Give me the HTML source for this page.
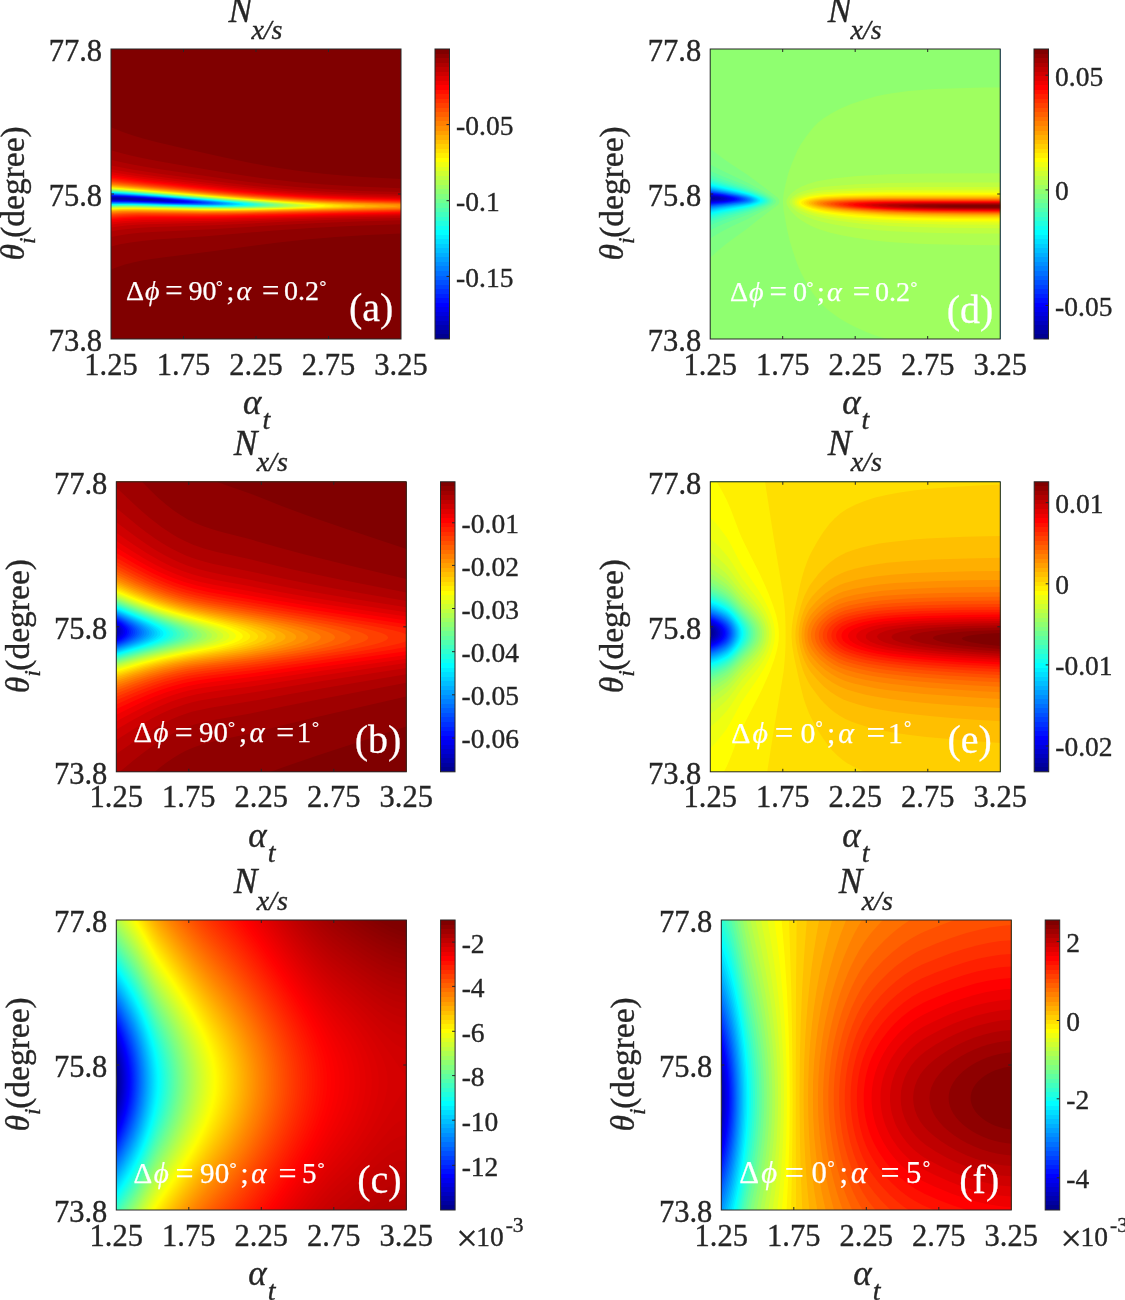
<!DOCTYPE html>
<html lang="en"><head><meta charset="utf-8"><title>Figure</title>
<style>html,body{margin:0;padding:0;background:#fff}svg{display:block}text{font-family:"Liberation Serif","Times New Roman",serif;fill:#262626;stroke:#262626;stroke-width:.35px}.w text,text.w{fill:#fff;stroke:#fff;stroke-width:.25px}</style></head><body>
<svg width="1125" height="1300" viewBox="0 0 1125 1300">
<defs>
<linearGradient id="jet" x1="0" y1="0" x2="0" y2="1"><stop offset="0.0000" stop-color="#800000"/><stop offset="0.0156" stop-color="#800000"/><stop offset="0.0156" stop-color="#8f0000"/><stop offset="0.0312" stop-color="#8f0000"/><stop offset="0.0312" stop-color="#9f0000"/><stop offset="0.0469" stop-color="#9f0000"/><stop offset="0.0469" stop-color="#af0000"/><stop offset="0.0625" stop-color="#af0000"/><stop offset="0.0625" stop-color="#bf0000"/><stop offset="0.0781" stop-color="#bf0000"/><stop offset="0.0781" stop-color="#cf0000"/><stop offset="0.0938" stop-color="#cf0000"/><stop offset="0.0938" stop-color="#df0000"/><stop offset="0.1094" stop-color="#df0000"/><stop offset="0.1094" stop-color="#ef0000"/><stop offset="0.1250" stop-color="#ef0000"/><stop offset="0.1250" stop-color="#f00"/><stop offset="0.1406" stop-color="#f00"/><stop offset="0.1406" stop-color="#ff1000"/><stop offset="0.1562" stop-color="#ff1000"/><stop offset="0.1562" stop-color="#ff2000"/><stop offset="0.1719" stop-color="#ff2000"/><stop offset="0.1719" stop-color="#ff3000"/><stop offset="0.1875" stop-color="#ff3000"/><stop offset="0.1875" stop-color="#ff4000"/><stop offset="0.2031" stop-color="#ff4000"/><stop offset="0.2031" stop-color="#ff5000"/><stop offset="0.2188" stop-color="#ff5000"/><stop offset="0.2188" stop-color="#ff6000"/><stop offset="0.2344" stop-color="#ff6000"/><stop offset="0.2344" stop-color="#ff7000"/><stop offset="0.2500" stop-color="#ff7000"/><stop offset="0.2500" stop-color="#ff8000"/><stop offset="0.2656" stop-color="#ff8000"/><stop offset="0.2656" stop-color="#ff8f00"/><stop offset="0.2812" stop-color="#ff8f00"/><stop offset="0.2812" stop-color="#ff9f00"/><stop offset="0.2969" stop-color="#ff9f00"/><stop offset="0.2969" stop-color="#ffaf00"/><stop offset="0.3125" stop-color="#ffaf00"/><stop offset="0.3125" stop-color="#ffbf00"/><stop offset="0.3281" stop-color="#ffbf00"/><stop offset="0.3281" stop-color="#ffcf00"/><stop offset="0.3438" stop-color="#ffcf00"/><stop offset="0.3438" stop-color="#ffdf00"/><stop offset="0.3594" stop-color="#ffdf00"/><stop offset="0.3594" stop-color="#ffef00"/><stop offset="0.3750" stop-color="#ffef00"/><stop offset="0.3750" stop-color="#ff0"/><stop offset="0.3906" stop-color="#ff0"/><stop offset="0.3906" stop-color="#efff10"/><stop offset="0.4062" stop-color="#efff10"/><stop offset="0.4062" stop-color="#dfff20"/><stop offset="0.4219" stop-color="#dfff20"/><stop offset="0.4219" stop-color="#cfff30"/><stop offset="0.4375" stop-color="#cfff30"/><stop offset="0.4375" stop-color="#bfff40"/><stop offset="0.4531" stop-color="#bfff40"/><stop offset="0.4531" stop-color="#afff50"/><stop offset="0.4688" stop-color="#afff50"/><stop offset="0.4688" stop-color="#9fff60"/><stop offset="0.4844" stop-color="#9fff60"/><stop offset="0.4844" stop-color="#8fff70"/><stop offset="0.5000" stop-color="#8fff70"/><stop offset="0.5000" stop-color="#80ff80"/><stop offset="0.5156" stop-color="#80ff80"/><stop offset="0.5156" stop-color="#70ff8f"/><stop offset="0.5312" stop-color="#70ff8f"/><stop offset="0.5312" stop-color="#60ff9f"/><stop offset="0.5469" stop-color="#60ff9f"/><stop offset="0.5469" stop-color="#50ffaf"/><stop offset="0.5625" stop-color="#50ffaf"/><stop offset="0.5625" stop-color="#40ffbf"/><stop offset="0.5781" stop-color="#40ffbf"/><stop offset="0.5781" stop-color="#30ffcf"/><stop offset="0.5938" stop-color="#30ffcf"/><stop offset="0.5938" stop-color="#20ffdf"/><stop offset="0.6094" stop-color="#20ffdf"/><stop offset="0.6094" stop-color="#10ffef"/><stop offset="0.6250" stop-color="#10ffef"/><stop offset="0.6250" stop-color="#0ff"/><stop offset="0.6406" stop-color="#0ff"/><stop offset="0.6406" stop-color="#00efff"/><stop offset="0.6562" stop-color="#00efff"/><stop offset="0.6562" stop-color="#00dfff"/><stop offset="0.6719" stop-color="#00dfff"/><stop offset="0.6719" stop-color="#00cfff"/><stop offset="0.6875" stop-color="#00cfff"/><stop offset="0.6875" stop-color="#00bfff"/><stop offset="0.7031" stop-color="#00bfff"/><stop offset="0.7031" stop-color="#00afff"/><stop offset="0.7188" stop-color="#00afff"/><stop offset="0.7188" stop-color="#009fff"/><stop offset="0.7344" stop-color="#009fff"/><stop offset="0.7344" stop-color="#008fff"/><stop offset="0.7500" stop-color="#008fff"/><stop offset="0.7500" stop-color="#0080ff"/><stop offset="0.7656" stop-color="#0080ff"/><stop offset="0.7656" stop-color="#0070ff"/><stop offset="0.7812" stop-color="#0070ff"/><stop offset="0.7812" stop-color="#0060ff"/><stop offset="0.7969" stop-color="#0060ff"/><stop offset="0.7969" stop-color="#0050ff"/><stop offset="0.8125" stop-color="#0050ff"/><stop offset="0.8125" stop-color="#0040ff"/><stop offset="0.8281" stop-color="#0040ff"/><stop offset="0.8281" stop-color="#0030ff"/><stop offset="0.8438" stop-color="#0030ff"/><stop offset="0.8438" stop-color="#0020ff"/><stop offset="0.8594" stop-color="#0020ff"/><stop offset="0.8594" stop-color="#0010ff"/><stop offset="0.8750" stop-color="#0010ff"/><stop offset="0.8750" stop-color="#00f"/><stop offset="0.8906" stop-color="#00f"/><stop offset="0.8906" stop-color="#0000ef"/><stop offset="0.9062" stop-color="#0000ef"/><stop offset="0.9062" stop-color="#0000df"/><stop offset="0.9219" stop-color="#0000df"/><stop offset="0.9219" stop-color="#0000cf"/><stop offset="0.9375" stop-color="#0000cf"/><stop offset="0.9375" stop-color="#0000bf"/><stop offset="0.9531" stop-color="#0000bf"/><stop offset="0.9531" stop-color="#0000af"/><stop offset="0.9688" stop-color="#0000af"/><stop offset="0.9688" stop-color="#00009f"/><stop offset="0.9844" stop-color="#00009f"/><stop offset="0.9844" stop-color="#00008f"/><stop offset="1.0000" stop-color="#00008f"/></linearGradient>
<clipPath id="ca"><rect x="111" y="49" width="290" height="290"/></clipPath>
<clipPath id="cb"><rect x="116.3" y="481.8" width="290" height="290"/></clipPath>
<clipPath id="cc"><rect x="116.3" y="920" width="290" height="290"/></clipPath>
<clipPath id="cd"><rect x="710.2" y="49" width="290" height="290"/></clipPath>
<clipPath id="ce"><rect x="710.3" y="481.8" width="290" height="290"/></clipPath>
<clipPath id="cf"><rect x="721.3" y="920" width="290" height="290"/></clipPath>
</defs>
<rect width="1125" height="1300" fill="#fff"/>
<g id="pa">
<g clip-path="url(#ca)">
<rect x="111" y="49" width="290" height="290" fill="#00009f"/>
<path fill="#0000af" d="M111 49l290 0 0 290-290 0 0-140.2 20 0.4 5-0.2-6.6-0.5-18.4-0.6z"/>
<path fill="#0000bf" d="M111 49l290 0 0 290-290 0 0-139.4 39 0.8 4-0.1 2.1-0.3-3.3-0.5-11.6-1-19-1-11.2-0.3z"/>
<path fill="#0000cf" d="M111 49l290 0 0 290-290 0 0-139 13.5 0.2 33 0.9 7-0.1 1.4-0.5-7-1-19-1.5-19.4-1-9.5-0.2z"/>
<path fill="#0000df" d="M111 49l290 0 0 290-290 0 0-138.6 15.5 0.2 36 1 8.5-0.1 2.5-0.5-2-0.5-3.6-0.5-16.1-1.5-24.2-1.5-16.6-0.6z"/>
<path fill="#0000ef" d="M111 49l290 0 0 290-290 0 0-138.3 14.5 0.1 42.5 1.2 7.5-0.1 4.1-0.4-1-0.5-6.8-1-16.2-1.5-22.5-1.5-22.1-0.9z"/>
<path fill="#00f" d="M111 49l290 0 0 290-290 0 0-138 16 0.1 45.5 1.2 10-0.2 1.7-0.1 0.5-0.5-2.1-0.5-7.5-1-22.7-2-24-1.5-17.4-0.7z"/>
<path fill="#0010ff" d="M111 49l290 0 0 290-290 0 0-137.8 16 0.2 47.5 1.3 11.5-0.2 3.7-0.5-1-0.5-6.3-1-20.5-2-29-2-21.9-0.9z"/>
<path fill="#0020ff" d="M111 49l290 0 0 290-290 0 0-137.5 17.5 0.1 35 1.1 16 0.3 11-0.2 3-0.3 0.4-0.5-1.7-0.5-6.9-1-20.6-2-28-2-25.7-1.2z"/>
<path fill="#0030ff" d="M111 49l290 0 0 290-290 0 0-137.3 17.5 0.1 51.5 1.4 13-0.1 2.5-0.1 2.7-0.5-0.6-0.5-5.6-1-8.5-1-16.2-1.5-28.8-2.1-27.5-1.3z"/>
<path fill="#0040ff" d="M111 49l290 0 0 290-290 0 0-137.1 18.5 0.2 38 1.1 16.5 0.3 13.5-0.2 3.7-0.3 0.9-0.5-1.3-0.5-6.1-1-8.7-1-16.2-1.5-34.5-2.5-24.3-1.1z"/>
<path fill="#0050ff" d="M111 49l290 0 0 290-290 0 0-136.8 18.5 0.1 40.9 1.2 14.6 0.3 14.5-0.2 3-0.1 3.2-0.5-0.1-0.5-4.7-1-7.9-1-15.1-1.5-18.1-1.5-21.3-1.5-27.5-1.4z"/>
<path fill="#0060ff" d="M111 49l290 0 0 290-290 0 0-136.6 18.5 0.1 41 1.2 18 0.3 14.5-0.2 4.8-0.3 1.8-0.5-0.8-0.5-2.1-0.5-7-1-25.3-2.5-33.4-2.5-16.3-1-13.7-0.6z"/>
<path fill="#0070ff" d="M111 49l290 0 0 290-290 0 0-136.4 19 0.1 44.5 1.3 17 0.3 15.9-0.3 5-0.5 0.7-0.5-1.2-0.5-2.5-0.5-7.3-1-25.4-2.5-36.2-2.7-29.5-1.6z"/>
<path fill="#0080ff" d="M111 49l290 0 0 290-290 0 0-136.2 19 0.1 44.5 1.3 20.5 0.3 10-0.1 8-0.4 3.4-0.5 0-0.5-1.7-0.5-2.7-0.5-7.5-1-25.6-2.5-39.4-3-28.5-1.5z"/>
<path fill="#008fff" d="M111 49l290 0 0 290-290 0 0-136 20 0.1 45 1.3 19 0.3 17-0.2 6.2-0.5 1.8-0.5-0.5-0.5-2-0.5-6.6-1-24.2-2.5-42.2-3.3-18.5-1.2-15-0.7z"/>
<path fill="#009fff" d="M111 49l290 0 0 290-290 0 0-135.8 20 0.1 46 1.3 21 0.3 11-0.1 9-0.3 4.5-0.5 0.9-0.5-1-0.5-2.2-0.5-6.9-1-30.2-3-40.1-3.1-32-1.8z"/>
<path fill="#00afff" d="M111 49l290 0 0 290-290 0 0-135.5 20 0 48 1.3 22 0.3 12.2-0.1 7.8-0.3 5.4-0.7 0.3-0.5-1.4-0.5-2.5-0.5-7.2-1-30.4-3-41.7-3.3-32.5-1.9z"/>
<path fill="#00bfff" d="M111 49l290 0 0 290-290 0 0-135.3 20.5 0 47.5 1.3 22 0.3 20.4-0.3 6.5-0.5 2.1-0.5-0.2-0.5-1.7-0.5-6.1-1-13.3-1.5-15.8-1.5-45.9-3.7-21-1.4-15-0.8z"/>
<path fill="#00cfff" d="M111 49l290 0 0 290-290 0 0-135.1 21 0 48.5 1.3 23 0.3 12-0.1 10-0.3 6.6-0.6 1.4-0.5-0.6-0.5-2-0.5-6.5-1-29.4-3-47-3.8-21-1.4-16-0.9z"/>
<path fill="#00dfff" d="M111 49l290 0 0 290-290 0 0-134.9 9.5-0.1 11.5 0.1 50.5 1.3 24 0.3 13-0.1 9.5-0.4 7.1-0.7 0.8-0.5-1-0.5-2.2-0.5-6.9-1-29.7-3-50.1-4.1-20-1.3-16-0.9z"/>
<path fill="#00efff" d="M111 49l290 0 0 290-290 0 0-134.7 9.5-0.1 11.5 0 51.5 1.4 25.5 0.3 13-0.1 10-0.4 6-0.5 1.9-0.4 0.3-0.5-1.3-0.5-2.5-0.5-7.2-1-32.2-3.2-49.5-4-21.5-1.5-15-0.8z"/>
<path fill="#0ff" d="M111 49l290 0 0 290-290 0 0-134.5 10-0.1 12 0.1 50.5 1.3 25 0.3 14-0.1 10.5-0.3 8-0.6 2.6-0.6-0.2-0.5-1.6-0.5-6.1-1-13.3-1.5-15.6-1.5-55.8-4.7-23-1.6-17-0.9z"/>
<path fill="#10ffef" d="M111 49l290 0 0 290-290 0 0-134.3 9.5-0.1 12 0.1 53 1.4 26 0.2 14-0.1 11-0.4 9.3-0.8 1.4-0.5-0.5-0.5-1.9-0.5-6.5-1-29.4-3-56.4-4.7-23-1.7-18.5-1z"/>
<path fill="#20ffdf" d="M111 49l290 0 0 290-290 0 0-134 10-0.2 12 0.1 53.5 1.4 27.5 0.2 13.5-0.1 12-0.4 7.5-0.6 2.8-0.4 1-0.5-0.9-0.5-2.1-0.5-6.9-1-30.4-3-56.5-4.8-26-1.9-17-1z"/>
<path fill="#30ffcf" d="M111 49l290 0 0 290-290 0 0-133.8 10-0.2 12 0.1 54.5 1.4 29 0.2 15.4-0.2 13-0.5 6.2-0.5 2.7-0.5 0.6-0.5-1.2-0.5-2.4-0.5-7.2-1-32.1-3.2-60-5-22.5-1.6-18-1.1z"/>
<path fill="#40ffbf" d="M111 49l290 0 0 290-290 0 0-133.6 10-0.2 12 0.1 56.5 1.4 30 0.2 18-0.3 13-0.6 5.1-0.5 2.2-0.5 0.2-0.5-1.5-0.5-2.6-0.5-7.6-1-33.3-3.2-60-5.1-26-1.9-16-0.9z"/>
<path fill="#50ffaf" d="M111 49l290 0 0 290-290 0 0-133.3 10-0.3 13 0.1 55 1.4 29.5 0.2 15.5-0.2 13.5-0.4 9-0.6 3.6-0.4 1.7-0.5-0.2-0.5-1.7-0.5-6.5-1-24.7-2.5-72.2-6.2-27-2-18.5-1.2z"/>
<path fill="#60ff9f" d="M111 49l290 0 0 290-290 0 0-133.1 10-0.2 12.5 0 57.5 1.4 30 0.2 18-0.3 14.7-0.5 7.8-0.6 3.1-0.4 1.3-0.5-0.6-0.5-5.1-1-8.3-1-20.8-2-72.6-6.2-27-2.1-20.5-1.3z"/>
<path fill="#70ff8f" d="M111 49l290 0 0 290-290 0 0-132.8 10-0.3 13 0 58 1.4 32 0.2 19-0.3 15.5-0.6 7.4-0.6 3.2-0.5 0.9-0.5-0.9-0.5-5.6-1-24.4-2.5-78.1-6.7-31.5-2.5-18.5-1.2z"/>
<path fill="#80ff80" d="M111 49l290 0 0 290-290 0 0-132.6 10.5-0.3 12.5 0.1 60 1.3 32.5 0.2 19.5-0.4 16-0.6 8.9-0.7 2.7-0.5 0.6-0.5-1.2-0.5-6.1-1-25.2-2.5-84.2-7.2-27-2.1-19.5-1.3z"/>
<path fill="#8fff70" d="M111 49l290 0 0 290-290 0 0-132.3 10-0.3 13 0 61 1.4 34.5 0.1 19.9-0.4 16.6-0.7 10-0.8 2.3-0.5 0.2-0.5-1.5-0.5-6.6-1-20.3-2-90.1-7.7-31-2.5-18-1.2z"/>
<path fill="#9fff60" d="M111 49l290 0 0 290-290 0 0-132.1 10.5-0.3 13 0 59.5 1.4 34 0.1 21-0.3 18-0.7 9.9-0.6 4.3-0.5 1.9-0.5-0.1-0.5-1.9-0.5-3-0.5-19.5-2-96.6-8.3-31-2.5-20-1.3z"/>
<path fill="#afff50" d="M111 49l290 0 0 290-290 0 0-131.8 10.5-0.3 13 0 61.5 1.3 35 0.1 21.5-0.4 19-0.7 11.2-0.7 3.9-0.5 1.5-0.5-0.5-0.5-5.5-1-14.6-1.5-108.5-9.3-48-3.6z"/>
<path fill="#bfff40" d="M111 49l290 0 0 290-290 0 0-131.5 10.5-0.3 13-0.1 62 1.3 37 0.1 22.5-0.4 19.5-0.7 13.1-0.9 3.5-0.5 1.2-0.5-0.8-0.5-6.2-1-15.3-1.5-115-9.8-45-3.4z"/>
<path fill="#cfff30" d="M111 49l290 0 0 290-290 0 0-131.2 10.5-0.3 13.5-0.1 63.5 1.3 38 0 23-0.4 20.7-0.8 14.6-1 3.2-0.5 0.8-0.5-1.2-0.5-2.8-0.5-14.3-1.5-128-10.8-41.5-3.2z"/>
<path fill="#dfff20" d="M111 49l290 0 0 290-290 0 0-130.9 10.5-0.3 13-0.1 65 1.2 20 0.2 20.5-0.2 25.5-0.5 22.1-0.9 13.7-1 2.8-0.5 0.5-0.5-1.6-0.5-3.1-0.5-9.5-1-61.6-5-84.8-7.3-33-2.5z"/>
<path fill="#efff10" d="M111 49l290 0 0 290-290 0 0-130.5 11-0.4 13-0.1 66 1.2 20.5 0.1 20.5-0.2 28.5-0.6 24.7-1 12.9-1 2.5-0.5 0.2-0.5-1.9-0.5-3.5-0.5-10.3-1-57.4-4.5-90.2-7.7-36.5-3z"/>
<path fill="#ff0" d="M111 49l290 0 0 290-290 0 0-130.2 11-0.4 13.5-0.1 65 1.2 20 0 21-0.1 26.5-0.6 24.7-0.8 17.9-1 4.8-0.5 2.2-0.5-0.2-0.5-2.3-0.5-9-1-71.3-5.5-89.8-7.7-34-2.8z"/>
<path fill="#ffef00" d="M111 49l290 0 0 290-290 0 0-129.8 11-0.5 13.5-0.1 66.5 1.1 20.5 0.1 21-0.2 30-0.6 27.8-1 17.4-1 4.6-0.5 1.9-0.5-0.5-0.5-2.7-0.5-10.1-1-74-5.5-126.9-10.9z"/>
<path fill="#ffdf00" d="M111 49l290 0 0 290-290 0 0-129.5 11.5-0.4 13.5-0.2 68 1.1 20.5 0.1 22.5-0.3 32.5-0.7 30.9-1.1 17.1-1 4.4-0.5 1.7-0.5-1-0.5-8.1-1-83.2-6-130.3-11.2z"/>
<path fill="#ffcf00" d="M111 49l290 0 0 290-290 0 0-129.1 11-0.5 14-0.1 68 1 22 0.1 23-0.3 36.5-0.9 34.6-1.2 17.1-1 4.3-0.5 1.4-0.5-1.4-0.5-9.3-1-53.3-3.5-34.1-2.5-133.8-11.6z"/>
<path fill="#ffbf00" d="M111 49l290 0 0 290-290 0 0-128.7 11-0.5 14-0.1 70 1 22.5-0.1 24.5-0.3 40.5-1 37.2-1.3 17.4-1 4.2-0.5 1.2-0.5-1.9-0.5-10.7-1-57.3-3.5-41.3-3-131.3-11.5z"/>
<path fill="#ffaf00" d="M111 49l290 0 0 290-290 0 0-128.2 11.5-0.6 14-0.2 69.5 1 23.5-0.1 24.5-0.3 44-1.1 44.4-1.5 18.1-1 4.3-0.5 0.8-0.5-2.4-0.5-12.5-1-61.9-3.5-42.6-3-35.5-3-99.7-9z"/>
<path fill="#ff9f00" d="M111 49l290 0 0 290-290 0 0-127.7 11.5-0.6 14-0.2 71.5 0.8 24 0 26.5-0.5 48.5-1.2 48.8-1.6 19.2-1 4.5-0.5 0.5-0.5-3.1-0.5-6.3-0.5-69.6-3.6-44.1-2.9-42.4-3.5-103.5-9.5z"/>
<path fill="#ff8f00" d="M111 49l290 0 0 290-290 0 0-127.2 12-0.7 14-0.2 71 0.8 23.5-0.1 27-0.4 55.5-1.4 57.4-1.8 21.1-1 4.9-0.5 0.2-0.5-4.1-0.5-7.6-0.5-76-3.5-26.2-1.5-22.2-1.5-48.5-4-102-9.5z"/>
<path fill="#ff8000" d="M111 49l290 0 0 155.8-81-3.2-30.4-1.6-23-1.5-49.3-4-106.3-10zM401 207.6l0 131.4-290 0 0-126.7 12.5-0.7 14.5-0.2 66 0.7 42-0.3 65-1.5z"/>
<path fill="#ff7000" d="M111 49l290 0 0 155.1-42.5-1.3-32.2-1.3-30-1.5-24.2-1.5-26.8-2-29-2.5-105.3-10.1zM401 208.3l0 130.7-290 0 0-126.1 12.5-0.7 15-0.3 64 0.6 40-0.3 42.5-0.9z"/>
<path fill="#ff6000" d="M111 49l290 0 0 154.5-39.5-1.1-34-1.3-32.9-1.6-23.8-1.5-26.5-2-28.5-2.5-62.8-6-42-4.2zM401 208.9l0 130.1-290 0 0-125.5 12.5-0.7 15.5-0.4 63 0.6 38-0.3z"/>
<path fill="#ff5000" d="M111 49l290 0 0 154-37-1-35.5-1.3-26-1.2-32.6-2-26-2-33.6-3-61.5-6-37.8-3.9zM401 209.5l0 129.5-290 0 0-124.8 12.5-0.8 16.5-0.4 62 0.5 37-0.3z"/>
<path fill="#ff4000" d="M111 49l290 0 0 153.4-37-0.9-34.5-1.2-27.6-1.3-32.3-2-25.7-2-33.1-3-60.5-6-39.3-4.2zM401 210l0 129-290 0 0-124 13.5-0.9 15.5-0.4 62 0.3 36-0.3 113.9-2.7z"/>
<path fill="#ff3000" d="M111 49l290 0 0 152.9-36.4-0.9-34.1-1.2-28.5-1.3-32-2-31.2-2.5-32-3-59.2-6-36.6-4.1zM401 210.6l0 128.4-290 0 0-123.1 11.6-0.9 14.7-0.5 16.7-0.1 46.5 0.2 29-0.2 122.5-2.9z"/>
<path fill="#ff2000" d="M111 49l290 0 0 152.3-34.6-0.8-35.9-1.2-27.5-1.3-31.9-2-30.9-2.5-36.6-3.5-57.7-6-34.9-4zM401 211.2l0 127.8-290 0 0-122.1 12-1 15-0.6 16.5-0.1 45.5 0.1 26-0.2 111.5-2.7z"/>
<path fill="#ff1000" d="M111 49l290 0 0 151.7-40-1-35-1.2-29.7-1.5-29.8-2-29.5-2.5-40.3-4-51.4-5.5-34.3-4.2zM401 211.8l0 127.2-290 0 0-121.1 12.5-1 16-0.6 16-0.2 44 0 26.5-0.3 110.7-2.8z"/>
<path fill="#f00" d="M111 49l290 0 0 151-40.5-0.9-30.2-1.1-30.5-1.5-30-2-34.7-3-39.1-4-50-5.5-35-4.4zM401 212.4l0 126.6-290 0 0-119.8 13.5-1.2 16-0.7 16-0.2 42 0 24.5-0.4 113.5-3z"/>
<path fill="#ef0000" d="M111 49l290 0 0 150.3-38.5-0.9-37.4-1.4-28.4-1.5-28.6-2-33.4-3-47-5-43.7-5-33-4.4zM401 213.2l0 125.8-290 0 0-118.3 14-1.4 17.5-0.7 55.5-0.5 23-0.3 113.4-3.3z"/>
<path fill="#df0000" d="M111 49l290 0 0 149.4-38.3-0.9-36.2-1.4-30.4-1.6-27.5-2-37.3-3.5-49.5-5.5-41.5-5-29.3-4.2zM401 214l0 125-290 0 0-116.5 14-1.5 19-0.9 72.5-1 114.3-3.6z"/>
<path fill="#cf0000" d="M111 49l290 0 0 148.4-36.7-0.9-38.7-1.5-34.3-2-25.4-2-39.8-4-55.3-6.5-34.7-4.5-25.1-3.9zM401 215l0 124-290 0 0-114.3 6.5-0.9 8-0.8 9-0.6 10.5-0.5 69-1.2 104-3.7 35.3-1z"/>
<path fill="#bf0000" d="M111 49l290 0 0 147.1-42.4-1.1-34.6-1.5-25.5-1.5-31.3-2.5-38.1-4-60.5-7.5-32.6-4.5-25-4.2zM401 216.3l0 122.7-290 0 0-111.5 7-1 8.6-1 9.9-0.7 11-0.6 67-1.6 74.2-3.1 41.3-1.5 36.5-1z"/>
<path fill="#af0000" d="M111 49l290 0 0 145.5-37.5-1.1-37-1.6-34.9-2.3-27.6-2.5-18.5-2-20.6-2.5-63.4-8.5-29.2-4.5-21.3-4.1zM401 218l0 121-290 0 0-107.6 7.9-1.4 8.6-1.1 10.6-0.9 11.4-0.7 64-2.1 75.8-3.7 36-1.5 32.2-1z"/>
<path fill="#9f0000" d="M111 49l290 0 0 143.1-39.5-1.2-37.2-1.9-27.6-2-30.9-3-16.9-2-22.6-3-64.6-9.5-15.4-2.5-13.8-2.5-9.8-2-11.7-2.7zM401 220.3l0 118.7-290 0 0-102 8-1.6 9.5-1.5 11-1.1 13-0.9 58.5-2.7 68.7-4.2 38.4-2 38.9-1.5z"/>
<path fill="#8f0000" d="M111 49l290 0 0 139.2-43.4-1.7-33.1-2-29.2-2.5-30.3-3.5-17.9-2.5-22.4-3.5-41.7-7-25.6-4.5-15.3-3-11.4-2.5-9.9-2.5-9.8-2.8zM401 224.3l0 114.7-290 0 0-92.4 9-2.3 10.5-1.9 11.5-1.5 14.6-1.4 49.4-3.3 69-5.7 36-2.5 39-2z"/>
<path fill="#800000" d="M111 49l290 0 0 130-38.5-2.1-19.9-1.4-16.7-1.5-14.1-1.5-15.9-2-16.9-2.5-14.8-2.5-18.3-3.5-21.4-4.5-46.9-10.5-21.3-5-13.3-3.5-11.6-3.5-10-3.5-10.4-4.3zM401 233.5l0 105.5-290 0 0-69.4 6.5-2.6 7.5-2.4 8-2.1 9-1.9 9.7-1.6 14.6-2 42.2-5.2 46.3-6.3 23.6-3 27.7-3 29.6-2.5 31.9-2z"/>
</g>
<rect x="111" y="49" width="290" height="290" fill="none" stroke="#262626" stroke-width="1"/>
<path d="M183.5 49v3M183.5 339v-3M256 49v3M256 339v-3M328.5 49v3M328.5 339v-3M111 194h3M401 194h-3" stroke="#262626" stroke-width="1" fill="none"/>
<text x="111" y="374.6" font-size="30.5" text-anchor="middle">1.25</text>
<text x="183.5" y="374.6" font-size="30.5" text-anchor="middle">1.75</text>
<text x="256" y="374.6" font-size="30.5" text-anchor="middle">2.25</text>
<text x="328.5" y="374.6" font-size="30.5" text-anchor="middle">2.75</text>
<text x="401" y="374.6" font-size="30.5" text-anchor="middle">3.25</text>
<text x="102" y="60.9" font-size="30.5" text-anchor="end">77.8</text>
<text x="102" y="205.9" font-size="30.5" text-anchor="end">75.8</text>
<text x="102" y="350.9" font-size="30.5" text-anchor="end">73.8</text>
<text x="228.5" y="22" font-size="35.5" font-style="italic">N<tspan font-size="28" dx="-0.8" dy="16.6">x/s</tspan></text>
<text x="243" y="413.7" font-size="35.0" font-style="italic">α<tspan font-size="28" dx="1" dy="15.5">t</tspan></text>
<text transform="translate(23.7 260.5) rotate(-90)" font-size="33.5"><tspan font-style="italic">θ</tspan><tspan font-size="24" font-style="italic" dy="11" dx="0">i</tspan><tspan dy="-11" dx="-0.5">(degree)</tspan></text>
<rect x="435" y="49" width="14.5" height="290" fill="url(#jet)" stroke="#262626" stroke-width="1"/>
<text x="456.1" y="135" font-size="27.5">-0.05</text>
<text x="456.1" y="211.1" font-size="27.5">-0.1</text>
<text x="456.1" y="286.8" font-size="27.5">-0.15</text>
<path d="M449.5 124.6h-3M449.5 200.7h-3M449.5 276.4h-3" stroke="#262626" stroke-width="1" fill="none"/>
<g class="w" font-size="28.0">
<text x="126" y="299.7">Δ</text>
<text x="145" y="299.7" font-style="italic">ϕ</text>
<text x="165.3" y="299.7" font-size="30.8" dy="1.3">=</text>
<text x="188.5" y="299.7">90</text>
<text x="216" y="299.7" font-size="17.0" dy="-8">°</text>
<text x="226.5" y="299.7">;</text>
<text x="236.5" y="299.7" font-style="italic">α</text>
<text x="262" y="299.7" font-size="30.8" dy="1.3">=</text>
<text x="284" y="299.7">0.2</text>
<text x="319.5" y="299.7" font-size="17.0" dy="-8">°</text>
</g>
<text x="348.9" y="321.2" font-size="40" class="w">(a)</text>
</g>
<g id="pb">
<g clip-path="url(#cb)">
<rect x="116.3" y="481.8" width="290" height="290" fill="#00009f"/>
<path fill="#0000af" d="M116.3 481.8l290 0 0 290-290 0 0-139.2 0.2-1.3-0.2-1.7z"/>
<path fill="#0000bf" d="M116.3 481.8l290 0 0 290-290 0 0-136.3 1.4-2.2 0.5-2-0.4-2-1.5-2.6z"/>
<path fill="#0000cf" d="M116.3 481.8l290 0 0 290-290 0 0-134.7 1.5-1.3 1.1-1.5 0.7-1.5 0.3-1.5-0.3-1.5-0.6-1.5-1-1.5-1.7-1.7z"/>
<path fill="#0000df" d="M116.3 481.8l290 0 0 290-290 0 0-133.3 2.2-1.7 1.9-2 0.8-1.5 0.4-2-0.3-1.5-1-2-1.6-2-2.4-2.1z"/>
<path fill="#0000ef" d="M116.3 481.8l290 0 0 290-290 0 0-132.1 3.5-2.4 2.1-2 1.2-2 0.3-2-0.5-2-1.2-2-2.5-2.5-2.9-2.3z"/>
<path fill="#00f" d="M116.3 481.8l290 0 0 290-290 0 0-131.1 4.1-2.4 2.4-2 1.7-2 0.4-1 0.3-1.5-0.1-1-0.4-1.5-1.8-2.5-2.7-2.5-3.9-2.8z"/>
<path fill="#0010ff" d="M116.3 481.8l290 0 0 290-290 0 0-130.1 4.5-2.4 3.5-2.5 1.4-1.5 0.7-1 0.4-1 0.3-1.5-0.1-1-0.5-1.5-1.8-2.5-3.4-3-5-3.3z"/>
<path fill="#0020ff" d="M116.3 481.8l290 0 0 290-290 0 0-129.2 5.7-2.8 3.8-2.6 1.5-1.4 1.1-1.5 0.4-1 0.2-1.5-0.1-1-0.6-1.5-0.9-1.5-1.4-1.5-3.7-3-6-3.7z"/>
<path fill="#0030ff" d="M116.3 481.8l290 0 0 290-290 0 0-128.3 6.9-3.2 2.5-1.5 2.1-1.5 1.5-1.4 0.8-1.1 0.7-1.5 0.2-1.5-0.3-1.5-0.7-1.5-1.2-1.5-1.6-1.5-4.7-3.5-6.2-3.6z"/>
<path fill="#0040ff" d="M116.3 481.8l290 0 0 290-290 0 0-127.4 7-3.1 2.9-1.5 2.6-1.7 1.7-1.3 1.4-1.5 0.8-1.5 0.4-1.5-0.2-1.5-0.7-1.5-1.1-1.5-2-2-4.9-3.5-7.9-4.5z"/>
<path fill="#0050ff" d="M116.3 481.8l290 0 0 290-290 0 0-126.6 8.2-3.4 3.9-2 2.4-1.5 1.9-1.5 1.4-1.5 0.8-1.5 0.3-1.5-0.2-1.5-0.7-1.5-1.2-1.5-2.1-2-2.7-2-3.1-2-8.9-4.8z"/>
<path fill="#0060ff" d="M116.3 481.8l290 0 0 290-290 0 0-125.7 9.4-3.8 4-2 2.6-1.5 2.6-2 1.4-1.5 0.8-1.5 0.3-1.5-0.3-1.5-1.1-2-1.4-1.5-2.3-2-6.2-4-9.8-5.2z"/>
<path fill="#0070ff" d="M116.3 481.8l290 0 0 290-290 0 0-124.9 11-4.3 3.8-1.8 3.5-2 2.7-2 1.3-1.5 0.8-1.5 0.2-1.5-0.3-1.5-1.2-2-1.4-1.5-2.4-2-3-2-4.2-2.5-10.8-5.5z"/>
<path fill="#0080ff" d="M116.3 481.8l290 0 0 290-290 0 0-124.1 11.7-4.4 7.4-3.5 3.1-2 1.7-1.5 1.1-1.5 0.4-1 0.2-1-0.2-1.5-1-2-1.9-2-2.5-2-3-2-4.4-2.5-12.6-6.3z"/>
<path fill="#008fff" d="M116.3 481.8l290 0 0 290-290 0 0-123.3 12.9-4.7 4.7-2 4-2 3.1-2 1.6-1.5 1.1-1.5 0.4-1 0.2-1-0.2-1.5-1.2-2-1.9-2-2.6-2-4-2.5-4.5-2.5-13.6-6.6z"/>
<path fill="#009fff" d="M116.3 481.8l290 0 0 290-290 0 0-122.5 14.2-5 4.8-2 4.2-2 3.3-2 2.4-2 1.1-1.5 0.3-1 0.2-1-0.6-2-1.4-2-2.2-2-2.8-2-4.2-2.5-4.7-2.5-14.6-6.9z"/>
<path fill="#00afff" d="M116.3 481.8l290 0 0 290-290 0 0-121.7 15.4-5.3 6.2-2.5 4.2-2 3.4-2 2.3-2 1.1-1.5 0.3-1 0.1-1-0.3-1.5-1.3-2-2.2-2-3.5-2.5-4.3-2.5-5.9-3-15.5-7.2z"/>
<path fill="#00bfff" d="M116.3 481.8l290 0 0 290-290 0 0-120.9 16.7-5.6 6.5-2.5 4.4-2 3.6-2 2.6-2 1.2-1.5 0.5-1 0.1-1 0-1-0.4-1-1.4-2-2.2-2-3.7-2.5-4.4-2.5-6-3-17.5-8z"/>
<path fill="#00cfff" d="M116.3 481.8l290 0 0 290-290 0 0-120.1 18.5-6.1 6.2-2.3 5.3-2.3 3.2-1.7 2.9-2 1.7-2 0.4-1 0.2-1-0.1-1-0.4-1-1.5-2-2.3-2-3.8-2.5-4.6-2.5-6.1-3-19.6-8.8z"/>
<path fill="#00dfff" d="M116.3 481.8l290 0 0 290-290 0 0-119.3 20.8-6.7 6.8-2.5 4.7-2 3.8-2 2.9-2 1.7-2 0.4-1 0.1-1-0.2-1-0.4-1-1.6-2-2.4-2-3.9-2.5-4.7-2.5-7.3-3.5-20.7-9.1z"/>
<path fill="#00efff" d="M116.3 481.8l290 0 0 290-290 0 0-118.5 22.2-7 7-2.5 6.1-2.5 3.9-2 2.8-2 1.7-2 0.3-1 0.1-1-0.2-1-0.4-1-1.7-2-2.6-2-4-2.5-4.9-2.5-7.5-3.5-22.8-9.9z"/>
<path fill="#0ff" d="M116.3 481.8l290 0 0 290-290 0 0-117.7 23.6-7.3 7.3-2.5 6.4-2.5 4.2-2 3.1-2 1.9-2 0.5-1 0.2-1-0.1-1-0.4-1-1.6-2-3.1-2.5-4.3-2.5-4.9-2.5-7.7-3.5-25.1-10.7z"/>
<path fill="#10ffef" d="M116.3 481.8l290 0 0 290-290 0 0-116.9 26.7-8.1 7.4-2.5 6.5-2.5 4.1-2 3.1-2 1.9-2 0.5-1 0.1-1-0.1-1-0.4-1-1.7-2-3.3-2.5-4.4-2.5-11.9-5.5-28.5-12z"/>
<path fill="#20ffdf" d="M116.3 481.8l290 0 0 290-290 0 0-116 28.3-8.5 7.6-2.5 6.8-2.5 5.5-2.5 3-2 1.9-2 0.4-1 0.1-1-0.2-1-0.4-1-1.8-2-2.7-2-4.4-2.5-12-5.5-32.1-13.4z"/>
<path fill="#30ffcf" d="M116.3 481.8l290 0 0 290-290 0 0-115.2 31.5-9.3 7.8-2.5 6.9-2.5 4.5-2 3.4-2 2.1-2 0.6-1 0.2-1 0-1-0.4-1-1.6-2-3.4-2.5-4.6-2.5-11.1-5-35.9-14.7z"/>
<path fill="#40ffbf" d="M116.3 481.8l290 0 0 290-290 0 0-114.3 34.9-10.2 13.7-4.5 5.8-2.5 3.4-2 2.1-2 0.5-1 0.2-1-0.1-1-0.5-1-1.7-2-3.5-2.5-4.8-2.5-10.3-4.5-39.7-16.1z"/>
<path fill="#50ffaf" d="M116.3 481.8l290 0 0 290-290 0 0-113.4 38.5-11.1 8.1-2.5 5.8-2 5.9-2.5 3.4-2 1.2-1 0.8-1 0.5-1 0.1-1-0.2-1-0.5-1-1.8-2-2.9-2-4.7-2.5-9.2-4-45-18z"/>
<path fill="#60ff9f" d="M116.3 481.8l290 0 0 290-290 0 0-112.5 43.9-12.5 12.5-4 5.9-2.5 3.4-2 1.2-1 0.8-1 0.4-1 0.1-1-0.2-1-0.6-1-2-2-3-2-4.8-2.5-8.3-3.5-27.3-10.5-22-8.9z"/>
<path fill="#70ff8f" d="M116.3 481.8l290 0 0 290-290 0 0-111.6 47.8-13.4 11.4-3.5 6.3-2.5 3.7-2 1.3-1 1-1 0.5-1 0.3-1-0.2-1-0.4-1-1.8-2-3.8-2.5-5.1-2.5-8.5-3.5-30.5-11.5-22-8.8z"/>
<path fill="#80ff80" d="M116.3 481.8l290 0 0 290-290 0 0-110.6 22.5-6.4 29.5-8 11.6-3.5 6.4-2.5 3.6-2 1.3-1 0.9-1 0.5-1 0.2-1-0.2-1-0.5-1-1.9-2-3.1-2-5-2.5-8.7-3.5-32.6-12-24.5-9.8z"/>
<path fill="#8fff70" d="M116.3 481.8l290 0 0 290-290 0 0-109.6 26.2-7.4 32-8.5 10-3 6.5-2.5 3.6-2 1.2-1 0.9-1 0.4-1 0.2-1-0.3-1-0.6-1-2-2-3.2-2-5.3-2.5-9-3.5-33.5-12-27.1-10.8z"/>
<path fill="#9fff60" d="M116.3 481.8l290 0 0 290-290 0 0-108.6 24.5-6.9 37-9.6 11.6-3.4 5.4-2 3.9-2 1.4-1 1-1 0.6-1 0.2-1-0.1-1-0.5-1-1.9-2-3.1-2-5.2-2.5-10.5-4-22.3-7.6-12.2-4.4-13-5-16.8-6.8z"/>
<path fill="#afff50" d="M116.3 481.8l290 0 0 290-290 0 0-107.5 28.2-8 37.8-9.5 11.5-3.2 6.2-2.3 3.9-2 1.3-1 0.9-1 0.6-1 0.2-1-0.2-1-0.6-1-2-2-3.2-2-5.5-2.5-9.4-3.5-24.7-8.2-12.5-4.4-14.3-5.4-18.2-7.4z"/>
<path fill="#bfff40" d="M116.3 481.8l290 0 0 290-290 0 0-106.5 17.5-5 14.8-4 39-9.5 11-3 5.7-2 4.5-2.2 1.7-1.3 0.9-1 0.5-1 0.1-1-0.2-1-0.6-1-2.2-2-3.4-2-5.6-2.5-9.8-3.5-26.4-8.5-13.2-4.5-16-6-18.3-7.4z"/>
<path fill="#cfff30" d="M116.3 481.8l290 0 0 290-290 0 0-105.3 19.7-5.7 14.8-4 16-3.9 26.5-6.1 10.5-2.8 6.3-2.2 4.1-2 1.4-1 1-1 0.6-1 0.3-1-0.1-1-0.5-1-2-2-3.3-2-5.5-2.5-9.9-3.5-28.9-8.9-14-4.7-17.1-6.4-19.9-8.1z"/>
<path fill="#dfff20" d="M116.3 481.8l290 0 0 290-290 0 0-104.1 20.1-5.9 16.9-4.5 16.5-4 29-6.3 10.2-2.7 6-2 4.4-2 2.7-2 0.8-1 0.4-1.5-0.2-1-0.6-1-2.1-2-3.4-2-5.7-2.5-10.3-3.5-29.7-8.9-15.9-5.1-17.6-6.5-21.5-8.8z"/>
<path fill="#efff10" d="M116.3 481.8l290 0 0 290-290 0 0-102.9 22.5-6.6 17.1-4.5 17.1-4 30.9-6.5 11.4-2.9 6.2-2.1 4.3-2 1.5-1 1.1-1 0.7-1 0.3-1.5-0.3-1-0.6-1-2.2-2-3.5-2-6-2.5-10.7-3.5-31.3-9-17.5-5.5-17.8-6.5-23.2-9.5z"/>
<path fill="#ff0" d="M116.3 481.8l290 0 0 290-290 0 0-101.6 23.3-6.9 19.1-5 18.1-4.1 31.9-6.4 12.2-3 6.2-2 4.5-2 2.9-2 0.9-1 0.5-1.5-0.1-1-0.5-1-0.9-1-1.2-1-3.3-2-5.9-2.5-10.6-3.5-34.5-9.5-19.5-6-10.1-3.5-9.3-3.5-23.7-9.8z"/>
<path fill="#ffef00" d="M116.3 481.8l290 0 0 290-290 0 0-100.3 26-7.7 19.4-5 19.1-4.2 33.1-6.3 12.7-3 7.2-2.3 5-2.2 2.8-2 0.8-1 0.4-1.5-0.2-1-0.5-1-2.2-2-3.5-2-6-2.5-6-2-6.8-2-34.3-9-12-3.5-9.5-2.9-10.4-3.6-9.4-3.5-11.3-4.5-14.4-6.1z"/>
<path fill="#ffdf00" d="M116.3 481.8l290 0 0 290-290 0 0-98.9 27.1-8.1 20.4-5.2 20-4.3 35.5-6.4 14-3.3 7.4-2.3 3.1-1.2 2.6-1.3 1.5-1 1.2-1 0.7-1 0.4-1.5-0.2-1-0.6-1-2.3-2-3.7-2-6.2-2.5-6.2-2-8.8-2.5-39.6-10-18.7-5.5-10.4-3.5-10.7-4-12.4-5-14.1-6z"/>
<path fill="#ffcf00" d="M116.3 481.8l290 0 0 290-290 0 0-97.4 28.4-8.6 11.2-3 10.4-2.5 19.3-4 38.2-6.6 9-1.9 7.5-1.8 7.2-2.2 6.1-2.5 1.7-1 1.5-1.2 1-1.3 0.3-1-0.1-1-0.5-1-0.9-1-1.9-1.5-3.8-2-6.4-2.5-8.1-2.5-9.3-2.5-41.5-10-19.1-5.5-10.7-3.5-12.1-4.5-12.3-5-15.1-6.5z"/>
<path fill="#ffbf00" d="M116.3 481.8l290 0 0 290-290 0 0-95.8 28.1-8.7 11-3 12.4-3 19.8-4 42-7 9.9-2 8.4-2 8.4-2.5 6-2.5 2-1.3 1.4-1.2 0.6-1 0.3-1-0.2-1-0.5-1-1-1-2.1-1.5-4-2-6.6-2.5-6.4-2-9.4-2.5-45.4-10.5-10.7-2.8-11.1-3.2-12.2-4-12.2-4.5-12.3-5-16.2-7.1z"/>
<path fill="#ffaf00" d="M116.3 481.8l290 0 0 290-290 0 0-94.2 16.6-5.3 13.3-4 11.1-3 12.5-3 10-2.1 10.2-1.9 43.9-7 11.9-2.3 9.6-2.2 8.8-2.5 6.4-2.5 2.2-1.2 1.7-1.3 0.8-1 0.4-1.5-0.2-1-0.7-1-1-1-2.2-1.5-4.2-2-6.9-2.5-8.4-2.5-9.3-2.4-48-10.6-11.5-2.9-11-3.1-12.6-4-12.3-4.5-13.5-5.5-17.6-7.7z"/>
<path fill="#ff9f00" d="M116.3 481.8l290 0 0 290-290 0 0-92.4 17.1-5.6 13.1-4 12.8-3.5 12.6-3 9.9-2 10-1.8 35-5.3 14-2.3 13.7-2.6 10.9-2.5 8.8-2.5 6.4-2.5 2.2-1.2 1.7-1.3 0.8-1 0.3-1.5-0.3-1-1.3-1.5-1.3-1-2.7-1.5-6.1-2.5-9.5-3-9.4-2.5-11.2-2.6-37.7-7.9-13.4-3-11.9-3-13.5-4-10.5-3.6-11.7-4.4-13.2-5.5-15.6-7z"/>
<path fill="#ff8f00" d="M116.3 481.8l290 0 0 290-290 0 0-90.5 17.9-6 14.6-4.5 12.8-3.5 12.9-3 9.8-2 9-1.5 37-5.4 16-2.5 14.1-2.6 13.8-3 9.3-2.5 6.9-2.5 3-1.5 1.4-1 1.2-1.5 0.3-1-0.1-1-1.1-1.5-1.2-1-2.6-1.5-3.4-1.5-4.1-1.5-10-3-11.8-3-13.2-3-39.9-8-13.9-3-12.2-3-13.6-4-11.9-4-11.7-4.5-13-5.5-16.3-7.4z"/>
<path fill="#ff8000" d="M116.3 481.8l290 0 0 290-290 0 0-88.5 19.1-6.5 14.4-4.5 12.6-3.5 13.4-3.1 9.5-1.9 10.5-1.8 38-5.3 18.5-2.8 19-3.5 14.5-3.1 9.4-2.5 7-2.5 2.9-1.5 1.4-1 1-1 0.5-1.5-0.2-1-1.2-1.5-1.3-1-2.7-1.5-3.6-1.5-4.4-1.5-10.5-3-12.3-3-17.5-3.8-42-8.2-14.5-3-12.5-3-12.4-3.5-12.2-4-13.2-5-14-6-17.2-7.9z"/>
<path fill="#ff7000" d="M116.3 481.8l290 0 0 290-290 0 0-86.2 19.2-6.8 15.6-5 14.5-4 13.1-3 9.1-1.8 10.5-1.6 38.5-5.2 20.5-3.1 24.4-4.3 16.7-3.5 9.5-2.5 7.1-2.5 3-1.5 1.4-1 1.2-1.5 0.3-1-0.3-1-1.3-1.5-1.4-1-3-1.5-6.8-2.5-10.7-3-14.9-3.5-24.2-5.1-44.5-8.4-12.7-2.5-13-3-11.3-3.1-13.7-4.4-13.3-5-15.1-6.5-18.4-8.7z"/>
<path fill="#ff6000" d="M116.3 481.8l290 0 0 290-290 0 0-83.8 18.4-6.7 13.4-4.5 13.2-3.9 12-3 10.5-2.3 10.5-1.8 61-8.3 26.5-4.3 20-3.7 16.3-3.7 5.3-1.5 4.4-1.5 3.5-1.5 2.3-1.5 1.2-1.5 0.2-1-0.3-1-1.5-1.5-1.5-1-3.1-1.5-7.3-2.5-11.3-3-18.1-4-31.6-6.3-55.1-10.2-13.7-3-11.4-3-14.3-4.5-14.6-5.5-15-6.5-19.9-9.6z"/>
<path fill="#ff5000" d="M116.3 481.8l290 0 0 290-290 0 0-81.2 18.1-6.8 14.5-5 13.2-4 13.8-3.5 9.6-2 10.3-1.8 12.3-1.7 33.7-4.3 16.5-2.3 33.5-5.3 23.2-4.1 16.3-3.5 5.8-1.5 4.9-1.5 3.9-1.5 2.7-1.5 1.7-1.5 0.2-0.5 0.2-1-0.4-1-1.6-1.5-1.7-1-3.4-1.5-7.7-2.5-11.9-3-21.6-4.5-42.6-8.1-52.3-9.4-13.2-2.8-11-2.8-15.8-4.9-14.6-5.5-15.8-7-20.8-10.2z"/>
<path fill="#ff4000" d="M116.3 481.8l290 0 0 290-290 0 0-78.3 19.9-7.7 15.6-5.5 13.2-4 14.1-3.5 9.9-2 11.8-1.9 47-5.9 30-4.4 27.5-4.3 23.1-4 17.4-3.5 8.3-2 5.1-1.5 4.1-1.5 2.9-1.5 1.7-1.5 0.3-1-0.1-1-1.4-1.5-1.6-1-3.3-1.5-7.8-2.5-12.2-3-12-2.5-17.5-3.3-58-10.6-43.6-7.6-14.4-3-11.5-2.9-8.9-2.6-7.6-2.5-14.4-5.5-8-3.5-8.6-4-21-10.6z"/>
<path fill="#ff3000" d="M116.3 481.8l290 0 0 290-290 0 0-75.1 20.9-8.4 15.2-5.5 14.5-4.5 15.4-3.8 9-1.8 11.5-1.8 47.5-5.9 37.5-5.4 32.5-5 25.9-4.3 18.2-3.5 8.6-2 5.5-1.5 4.3-1.5 3.1-1.5 1.8-1.5 0.4-1-0.3-1-1.5-1.5-1.8-1-3.7-1.5-8.4-2.5-13.2-3-29.1-5.5-115-20-15.2-3-12.5-3-8.6-2.5-8-2.6-7.9-2.9-8.6-3.5-7.8-3.5-8.4-4-21.8-11.3z"/>
<path fill="#ff2000" d="M116.3 481.8l290 0 0 152.4-5.5-1.9-7.7-2-9.3-2-13-2.5-25.8-4.5-54.5-9-38.7-6.8-30.9-5.2-13.5-2.5-10.6-2.3-8-2-7.5-2.1-7.9-2.6-8.3-3-7.4-3-7.8-3.5-17.1-8.5-16.5-8.9zM406.3 641.2l0 130.6-290 0 0-71.5 22.8-9.5 16.2-6 7.6-2.5 7.9-2.3 8-2 7.4-1.7 8.6-1.6 10.5-1.5 38-4.7 17-2.3 49-7.1 41.5-6.3 20.9-3.5 15.8-3 10.8-2.5 5.1-1.5z"/>
<path fill="#ff1000" d="M116.3 481.8l290 0 0 146.5-29.1-5-87.6-14-38.3-6.7-31.4-5.3-15.7-3-8.9-2-7.5-2-6.8-2-7.2-2.4-6.9-2.6-7.3-3-7.8-3.5-7.1-3.5-12.3-6.5-16.1-9zM406.3 647.1l0 124.7-290 0 0-67.4 17.2-7.6 15.9-6.5 14.2-5 14.2-4.1 7-1.6 7.5-1.5 17-2.6 46.5-5.8 53.5-7.7 62.8-9.2 18.9-3z"/>
<path fill="#f00" d="M116.3 481.8l290 0 0 142.4-68.5-10.4-38.3-6-75.7-13-15.5-2.9-15-3.4-12.6-3.7-7.1-2.5-7.7-3-13.3-6-15.2-8-21.1-12.2zM406.3 651.2l0 120.6-290 0 0-62.7 17.9-8.3 12.7-5.5 12.9-5 12.3-4 12.2-3.3 12.5-2.4 15.4-2.3 45.1-5.7 115.5-16.5z"/>
<path fill="#ef0000" d="M116.3 481.8l290 0 0 138.6-55.4-8.1-48.3-7.5-23.7-4-67.6-12-14.5-3.2-12.5-3.6-13-4.7-12.5-5.5-9-4.5-9-5-11.1-6.5-13.4-8.3zM406.3 655l0 116.8-290 0 0-57.1 23.3-11.4 8.8-4 7.2-3 10.7-4 11.5-3.6 10.5-2.7 11.7-2.2 13.7-2 41.1-5.2 64.1-9.3z"/>
<path fill="#df0000" d="M116.3 481.8l290 0 0 134.8-52.9-7.8-47.8-7.5-23.3-4-30.5-5.7-37-6.5-14.5-3.1-12-3.3-5.6-1.9-6.7-2.5-11.6-5-10-5-10.7-6-11.3-7-16.1-10.4zM406.3 658.8l0 113-290 0 0-50.5 16.1-8.5 10.9-5.5 9.6-4.5 9.6-4 9.8-3.6 10.5-3.2 9.2-2.2 10.7-2 13.1-1.9 37.5-4.9 68.7-10.2z"/>
<path fill="#cf0000" d="M116.3 481.8l290 0 0 130.5-53.1-8-46.3-7.5-22.7-4-32.4-6.2-34.6-6.3-13.9-3-11.1-3-10.3-3.5-10.6-4.4-11.3-5.6-12.3-7-13.2-8.5-18.2-12.6zM406.3 663.1l0 108.7-290 0 0-42.3 17.8-10.2 13-7 12.2-5.8 11.4-4.7 8.7-3 7.9-2.3 8.5-2 9.5-1.7 11-1.7 36.5-4.9 70-10.9z"/>
<path fill="#bf0000" d="M116.3 481.8l290 0 0 125.5-50.6-8-47.1-8-21.7-4-35.6-7.2-30.9-5.8-12.6-2.7-10.7-2.8-9.3-3-8.8-3.5-6.5-3-6.9-3.5-7.2-4-6.6-4.1-6.7-4.4-7.9-5.5-20.9-15.6zM406.3 668.1l0 103.7-290 0 0-31.8 21-13.2 14.8-8.5 6.8-3.5 6.4-3 7-3 6.5-2.4 6.5-2.2 7-1.9 7.5-1.7 9-1.7 43.5-6.3 68.4-11.3z"/>
<path fill="#af0000" d="M116.3 481.8l290 0 0 119.3-70.6-12.3-26.9-5-22.5-4.5-33.5-7.3-28.5-5.7-12-2.6-7.5-1.9-6.9-2-6.1-2-6-2.3-8-3.7-7.8-4-7.7-4.5-7.7-5-7.7-5.5-8.5-6.5-22.1-18.2zM406.3 674.3l0 97.5-290 0 0-17.7 23.2-16.3 8.4-5.5 7.4-4.5 8-4.4 7.3-3.6 8.1-3.5 7.1-2.6 6-1.9 5.5-1.4 13-2.7 41.5-6.6 34.3-6.3 33.9-6z"/>
<path fill="#9f0000" d="M116.3 481.8l290 0 0 110.8-65.2-12.8-45.1-9.5-19.4-4.5-25.3-6.2-35.5-7.9-12-3.3-10-3.5-5.2-2.1-5.3-2.5-5.5-2.9-5.4-3.1-10.6-7-11.1-8.5-7.1-6-7.3-6.5-20-18.8zM406.3 682.8l0 89-286.5 0 13.3-11 10.2-8 8.8-6.5 8.2-5.5 8.3-5 8.7-4.5 8-3.5 8.4-3 9.1-2.5 9.5-2.1 39.5-7 32.9-6.9 32.5-6.5z"/>
<path fill="#8f0000" d="M142 481.8l264.3 0 0 97.2-60.1-14.2-42.4-10.5-24.1-6.5-28.4-8.2-32.5-8.4-8-2.4-7.5-2.5-8-3.3-7.5-3.6-7-4.1-7.5-5.1-7.6-5.9-7.6-6.5-7.8-7.5zM406.3 696.4l0 75.4-251.5 0 6.1-5 6-4.5 5.9-4 6.5-4 5.5-3 5.5-2.5 6-2.4 6.5-2.1 13.5-3.5 36-7.7 30.5-7.8 30.9-7.5z"/>
<path fill="#800000" d="M216.7 481.8l189.6 0 0 67.2-62.1-20.7-34.9-12-27.1-10-30.9-12.3-26.5-9.2zM406.3 726.4l0 45.4-135.6 0 21-7.5 26.4-9z"/>
</g>
<rect x="116.3" y="481.8" width="290" height="290" fill="none" stroke="#262626" stroke-width="1"/>
<path d="M188.8 481.8v3M188.8 771.8v-3M261.3 481.8v3M261.3 771.8v-3M333.8 481.8v3M333.8 771.8v-3M116.3 626.8h3M406.3 626.8h-3" stroke="#262626" stroke-width="1" fill="none"/>
<text x="116.3" y="807.4" font-size="30.5" text-anchor="middle">1.25</text>
<text x="188.8" y="807.4" font-size="30.5" text-anchor="middle">1.75</text>
<text x="261.3" y="807.4" font-size="30.5" text-anchor="middle">2.25</text>
<text x="333.8" y="807.4" font-size="30.5" text-anchor="middle">2.75</text>
<text x="406.3" y="807.4" font-size="30.5" text-anchor="middle">3.25</text>
<text x="107.3" y="493.7" font-size="30.5" text-anchor="end">77.8</text>
<text x="107.3" y="638.7" font-size="30.5" text-anchor="end">75.8</text>
<text x="107.3" y="783.7" font-size="30.5" text-anchor="end">73.8</text>
<text x="233.8" y="454.8" font-size="35.5" font-style="italic">N<tspan font-size="28" dx="-0.8" dy="16.6">x/s</tspan></text>
<text x="248.3" y="846.5" font-size="35.0" font-style="italic">α<tspan font-size="28" dx="1" dy="15.5">t</tspan></text>
<text transform="translate(29 693.3) rotate(-90)" font-size="33.5"><tspan font-style="italic">θ</tspan><tspan font-size="24" font-style="italic" dy="11" dx="0">i</tspan><tspan dy="-11" dx="-0.5">(degree)</tspan></text>
<rect x="440.5" y="481.8" width="14.5" height="290" fill="url(#jet)" stroke="#262626" stroke-width="1"/>
<text x="461.6" y="533.2" font-size="27.5">-0.01</text>
<text x="461.6" y="575.8" font-size="27.5">-0.02</text>
<text x="461.6" y="618.9" font-size="27.5">-0.03</text>
<text x="461.6" y="662.1" font-size="27.5">-0.04</text>
<text x="461.6" y="705.2" font-size="27.5">-0.05</text>
<text x="461.6" y="748.4" font-size="27.5">-0.06</text>
<path d="M455 522.8h-3M455 565.4h-3M455 608.5h-3M455 651.7h-3M455 694.8h-3M455 738h-3" stroke="#262626" stroke-width="1" fill="none"/>
<g class="w" font-size="28.8">
<text x="133.5" y="741.5">Δ</text>
<text x="153.4" y="741.5" font-style="italic">ϕ</text>
<text x="174.8" y="741.5" font-size="31.7" dy="1.3">=</text>
<text x="199.1" y="741.5">90</text>
<text x="228" y="741.5" font-size="17.5" dy="-8.2">°</text>
<text x="239" y="741.5">;</text>
<text x="249.5" y="741.5" font-style="italic">α</text>
<text x="276.3" y="741.5" font-size="31.7" dy="1.3">=</text>
<text x="296.8" y="741.5">1</text>
<text x="312" y="741.5" font-size="17.5" dy="-8.2">°</text>
</g>
<text x="354.7" y="753.3" font-size="40" class="w">(b)</text>
</g>
<g id="pc">
<g clip-path="url(#cc)">
<rect x="116.3" y="920" width="290" height="290" fill="#00008f"/>
<path fill="#00008f" d="M116.3 920l290 0 0 290-290 0 0-119.2 0.4-9.3-0.4-9.5z"/>
<path fill="#000091" d="M116.3 920l290 0 0 290-290 0 0-115.3 0.6-6.7 0.2-6.5-0.2-6.5-0.6-6.9z"/>
<path fill="#000095" d="M116.3 920l290 0 0 290-290 0 0-112.2 1-8.3 0.3-8-0.3-8-1-8.5z"/>
<path fill="#009" d="M116.3 920l290 0 0 290-290 0 0-109.7 1.3-9.3 0.4-9.5-0.4-9.5-1.3-9.5z"/>
<path fill="#00009d" d="M116.3 920l290 0 0 290-290 0 0-107.4 0.9-5.1 0.7-5.5 0.4-5 0.1-5.5-0.1-5.5-0.4-5-0.7-5.5-0.9-5.3z"/>
<path fill="#0000a1" d="M116.3 920l290 0 0 290-290 0 0-105.3 1.1-5.7 0.8-6 0.5-6 0.1-5.5-0.1-5.5-0.5-6-0.8-6-1.1-5.9z"/>
<path fill="#0000a5" d="M116.3 920l290 0 0 290-290 0 0-103.4 1.3-6.1 0.9-6.5 0.6-6.5 0.2-6-0.2-6-0.6-6.5-0.9-6.5-1.3-6.3z"/>
<path fill="#0000a9" d="M116.3 920l290 0 0 290-290 0 0-101.6 1.5-6.9 1-6.5 0.7-7 0.2-6.5-0.2-6.5-0.7-7-1.1-7-1.4-6.6z"/>
<path fill="#0000ad" d="M116.3 920l290 0 0 290-290 0 0-99.9 1.6-7.1 1.2-7 0.8-7.5 0.2-7-0.2-7-0.8-7.5-1.1-7-1.7-7.3z"/>
<path fill="#0000b1" d="M116.3 920l290 0 0 290-290 0 0-98.3 1.9-7.7 1.3-7.5 0.8-7.5 0.2-7.5-0.2-7.5-0.8-7.5-1.3-7.5-1.9-7.9z"/>
<path fill="#0000b5" d="M116.3 920l290 0 0 290-290 0 0-96.8 2-7.7 1.5-8 0.8-8 0.4-8-0.3-8-0.9-8-1.5-8-2-7.9z"/>
<path fill="#0000b9" d="M116.3 920l290 0 0 290-290 0 0-95.3 2.2-8.2 1.6-8.5 1-8.5 0.3-8-0.3-8-1-8.5-1.6-8.5-2.2-8.4z"/>
<path fill="#0000bd" d="M116.3 920l290 0 0 290-290 0 0-93.9 2.4-8.6 1.7-8.5 1.1-9 0.3-8.5-0.3-8.5-1.1-9-1.7-8.5-2.4-8.8z"/>
<path fill="#0000c1" d="M116.3 920l290 0 0 290-290 0 0-92.5 2.6-9 1.8-9 1.2-9 0.3-9-0.3-9-1.1-9-1.9-9-2.6-9.2z"/>
<path fill="#0000c5" d="M116.3 920l290 0 0 290-290 0 0-91.1 2.8-9.4 2-9.5 1.2-9.5 0.4-9-0.4-9-1.2-9.5-2-9.5-2.8-9.6z"/>
<path fill="#0000c9" d="M116.3 920l290 0 0 290-290 0 0-89.8 3-9.7 2.1-10 1.3-9.5 0.4-9.5-0.4-9.5-1.3-10-2.1-9.5-3-9.9z"/>
<path fill="#0000cd" d="M116.3 920l290 0 0 290-290 0 0-88.5 3.1-10 2.3-10 1.4-10 0.4-10-0.4-10-1.4-10-2.2-10-3.2-10.2z"/>
<path fill="#0000d1" d="M116.3 920l290 0 0 290-290 0 0-87.3 3.3-10.2 2.4-10.5 0.9-5.5 0.6-5 0.5-10-0.5-10-0.6-5-0.8-5.5-2.5-10.5-3.3-10.4z"/>
<path fill="#0000d5" d="M116.3 920l290 0 0 290-290 0 0-86.1 1.9-5.4 1.7-5.5 2.5-10.5 0.8-5 0.7-5.5 0.3-5 0.2-5.5-0.2-5.5-0.3-5-0.7-5.5-0.8-5-1.2-5.5-1.4-5.5-3.5-10.6z"/>
<path fill="#0000d9" d="M116.3 920l290 0 0 290-290 0 0-84.9 2-5.6 1.8-5.5 1.4-5.5 1.2-5.5 0.9-5.5 0.7-5.5 0.4-5 0.1-5.5-0.1-5.5-0.4-5.5-0.7-5.5-0.9-5.5-1.3-5.5-1.4-5.5-3.7-10.8z"/>
<path fill="#00d" d="M116.3 920l290 0 0 290-290 0 0-83.7 2.1-5.8 1.8-5.5 1.6-6 1.3-5.5 0.9-5.5 0.7-5.5 0.4-5.5 0.1-5.5-0.1-5.5-0.4-5.5-0.7-5.5-1-6-1.2-5.5-1.5-5.5-1.8-5.5-2.2-6z"/>
<path fill="#0000e1" d="M116.3 920l290 0 0 290-290 0 0-82.6 2.2-5.9 1.8-5.5 1.7-6 1.3-5.5 1.1-6 0.7-5.5 0.4-6 0.2-5.5-0.2-5.5-0.4-6-0.7-5.5-1.1-6-1.2-5.5-1.7-6-2-6-2.1-5.6z"/>
<path fill="#0000e5" d="M116.3 920l290 0 0 290-290 0 0-81.4 2.2-5.6 2-6 1.7-6 1.4-6 1.1-6 0.8-6 0.5-6 0.1-5.5-0.1-5.5-0.5-6-0.7-6-1.1-6-1.4-6-1.7-6-2.1-6-2.2-5.8z"/>
<path fill="#0000e9" d="M116.3 920l290 0 0 290-290 0 0-80.3 2.4-6.2 2.1-6 1.7-6 1.5-6 1.1-6 0.8-6 0.5-6 0.2-6-0.2-6-0.5-6-0.8-6-1.1-6-1.4-6-1.8-6-2-6-2.5-6.4z"/>
<path fill="#0000ed" d="M116.3 920l290 0 0 290-290 0 0-79.2 2.5-6.3 2.1-6 1.9-6.5 1.5-6 1.2-6.5 0.8-6 0.5-6 0.2-6-0.2-6-0.4-6-0.8-6-1.3-6.5-1.4-6-1.9-6.5-2.2-6.3-2.5-6.2z"/>
<path fill="#0000f1" d="M116.3 920l290 0 0 290-290 0 0-78.1 2.6-6.4 2.3-6.5 1.9-6.5 1.5-6 1.3-6.5 0.8-6 0.5-6 0.2-6.5-0.2-6.5-0.5-6-0.8-6-1.2-6.5-1.6-6.5-2-6.5-2.3-6.5-2.5-6.1z"/>
<path fill="#0000f5" d="M116.3 920l290 0 0 290-290 0 0-77 2.7-6.5 2.3-6.5 2-6.5 1.7-6.5 1.2-6.5 1-6.5 0.5-6.5 0.2-6-0.2-6-0.5-6.5-0.9-6.5-1.3-6.5-1.6-6.5-2-6.5-2.3-6.5-2.8-6.7z"/>
<path fill="#0000f9" d="M116.3 920l290 0 0 290-290 0 0-76 2.7-6.5 2.6-7 2-6.5 1.7-6.5 1.3-6.5 0.9-6.5 0.6-6.5 0.2-6.5-0.2-6.5-0.5-6.5-1-6.5-1.3-6.5-1.6-6.5-2.2-7-2.4-6.5-2.8-6.7z"/>
<path fill="#0000fd" d="M116.3 920l290 0 0 290-290 0 0-74.9 2.8-6.6 2.6-7 2.2-7 1.7-6.5 1.4-7 1-6.5 0.6-6.5 0.1-6.5-0.1-6.5-0.6-6.5-0.9-6.5-1.4-7-1.7-6.5-2.2-7-2.6-7-2.9-6.8z"/>
<path fill="#0002ff" d="M116.3 920l290 0 0 290-290 0 0-73.9 3.1-7.1 2.6-7 2.2-7 1.8-6.5 1.4-7 1-6.5 0.6-7 0.2-6.5-0.2-6.5-0.6-7-1-6.5-1.4-7-1.8-7-2.3-7-2.6-7-3-6.8z"/>
<path fill="#0006ff" d="M116.3 920l290 0 0 290-290 0 0-72.9 3.1-7.1 2.7-7 2.3-7 1.9-7 1.5-7 1-7 0.6-7 0.2-6.5-0.2-6.5-0.6-7-1-7-1.5-7-1.8-7-2.3-7-2.7-7-3.2-7.3z"/>
<path fill="#000aff" d="M116.3 920l290 0 0 290-290 0 0-71.9 3.2-7.1 2.7-7 2.5-7.5 1.9-7 1.5-7 1.1-7 0.7-7 0.2-7-0.2-7-0.7-7-1-7-1.5-7-1.9-7-2.5-7.5-2.7-7-3.3-7.3z"/>
<path fill="#000eff" d="M116.3 920l290 0 0 290-290 0 0-70.8 3.2-7.2 3-7.5 2.5-7.5 1.9-7 1.7-7.5 1-7 0.7-7 0.2-7-0.2-7-0.6-7-1.1-7-1.6-7.5-1.9-7-2.5-7.5-3-7.5-3.3-7.4z"/>
<path fill="#0012ff" d="M116.3 920l290 0 0 290-290 0 0-69.8 3.3-7.2 3-7.5 2.6-7.5 2.1-7.5 1.6-7.5 1.1-7 0.7-7 0.3-7.5-0.3-7.5-0.6-7-1.1-7-1.7-7.5-2.1-7.5-2.5-7.5-3-7.5-3.4-7.4z"/>
<path fill="#0016ff" d="M116.3 920l290 0 0 290-290 0 0-68.9 3.5-7.6 3.1-7.5 2.6-7.5 2.1-7.5 1.7-7.5 1.2-7.5 0.7-7 0.2-7.5-0.2-7.5-0.7-7-1.2-7.5-1.6-7.5-2.2-7.5-2.6-7.5-3-7.5-3.6-7.8z"/>
<path fill="#001aff" d="M116.3 920l290 0 0 290-290 0 0-67.9 3.6-7.6 3.3-8 2.7-8 2.2-7.5 1.6-7.5 1.2-7 0.7-7.5 0.2-7.5-0.2-7.5-0.7-7.5-1.2-7.5-1.7-7.5-2.2-7.5-2.8-8-3-7.5-3.7-7.8z"/>
<path fill="#001eff" d="M116.3 920l290 0 0 290-290 0 0-66.9 3.8-8.1 3.3-8 2.8-8 2.2-7.5 1.7-7.5 1.2-7.5 0.7-7.5 0.3-7.5-0.3-7.5-0.7-7.5-1.2-7.5-1.7-7.5-2.3-8-2.8-8-3.3-8-3.7-7.8z"/>
<path fill="#02f" d="M116.3 920l290 0 0 290-290 0 0-65.9 3.9-8.1 3.3-8 2.9-8 2.3-8 1.7-7.5 1.3-7.5 0.7-7.5 0.3-8-0.3-8-0.7-7.5-1.2-7.5-1.7-7.5-2.4-8-2.8-8-3.3-8-4-8.3z"/>
<path fill="#0026ff" d="M116.3 920l290 0 0 290-290 0 0-65 4-8.2 3.5-8.3 2.9-8 2.3-8 1.8-7.5 1.3-8 0.8-7.5 0.2-8-0.2-8-0.8-7.5-1.3-8-1.7-7.5-2.4-8-3-8.5-3.4-8-4-8.2z"/>
<path fill="#002aff" d="M116.3 920l290 0 0 290-290 0 0-64 4.2-8.5 3.4-8 3.1-8.5 2.4-8 1.8-7.5 1.3-8 0.8-8 0.3-8-0.3-8-0.8-8-1.3-8-1.8-7.5-2.4-8-3-8.5-3.7-8.5-4-8.2z"/>
<path fill="#002eff" d="M116.3 920l290 0 0 290-290 0 0-63 4.2-8.5 3.6-8.5 3.2-8.5 2.4-8 1.9-8 1.3-8 0.8-8 0.3-8-0.3-8-0.7-8-1.4-8-1.8-8-2.5-8-3.1-8.5-3.6-8.5-4.3-8.7z"/>
<path fill="#0032ff" d="M116.3 920l290 0 0 290-290 0 0-62.1 4.4-8.9 3.7-8.5 3.2-8.5 2.6-8.5 1.8-8 1.4-8 0.8-8 0.2-8-0.3-8.5-0.8-8-1.3-8-1.9-8-2.6-8.5-3.2-8.5-3.7-8.5-4.3-8.6z"/>
<path fill="#0036ff" d="M116.3 920l290 0 0 290-290 0 0-61.2 4.5-8.8 3.7-8.5 3.2-8.5 2.7-8.5 1.9-8 1.4-8.5 0.9-8 0.2-8.5-0.2-8.5-0.8-8-1.5-8.5-1.9-8-2.6-8.5-3.2-8.5-4-9-4.3-8.5z"/>
<path fill="#003aff" d="M116.3 920l290 0 0 290-290 0 0-60.2 4.5-8.8 3.8-8.5 3.4-9 2.7-8.5 1.9-8 1.5-8.5 0.9-8.5 0.3-8.5-0.3-8.5-0.9-8.5-1.4-8.5-2-8-2.6-8.5-3.5-9-3.8-8.6-4.5-8.9z"/>
<path fill="#003eff" d="M116.3 920l290 0 0 290-290 0 0-59.3 4.5-8.7 4-9 3.5-9 2.7-8.5 2.1-8.5 1.4-8.5 0.9-8.5 0.3-8.5-0.3-8.5-0.8-8.5-1.5-8.5-2-8.5-2.7-8.5-3.5-9-4-9-4.6-8.9z"/>
<path fill="#0042ff" d="M116.3 920l290 0 0 290-290 0 0-58.4 4.7-9.1 4.1-9 3.5-9 2.7-8.5 2.1-8.5 1.5-8.5 0.9-8.6 0.3-8.9-0.3-9-0.9-8.5-1.4-8.5-2.1-8.5-2.7-8.5-3.5-9-4.1-9-4.8-9.3z"/>
<path fill="#0046ff" d="M116.3 920l290 0 0 290-290 0 0-57.4 4.7-9.1 4.2-9 3.7-9.5 2.7-8.5 2.2-8.5 1.5-9 0.9-8.5 0.3-9-0.3-9-0.8-8.5-1.6-9-2.1-8.5-2.7-8.5-3.7-9.5-4.2-9-4.8-9.3z"/>
<path fill="#004aff" d="M116.3 920l290 0 0 290-290 0 0-56.5 4.8-9 4.3-9.5 3.8-9.5 2.8-8.5 2.1-8.5 1.6-9 0.9-9 0.4-9-0.3-9-1-9-1.6-9-2.1-8.5-2.7-8.5-3.8-9.5-4.3-9.5-4.9-9.2z"/>
<path fill="#004eff" d="M116.3 920l290 0 0 290-290 0 0-55.6 5-9.4 4.4-9.5 3.8-9.5 2.8-8.5 2.2-9 1.6-9 1-9 0.3-9-0.3-9-1-9-1.5-9-2.3-9.1-2.9-8.9-3.8-9.5-4.4-9.5-4.9-9.1z"/>
<path fill="#0052ff" d="M116.3 920l290 0 0 290-290 0 0-54.7 5-9.3 4.5-9.5 3.8-9.5 3-9 2.3-9 1.6-9 1-9 0.3-9.5-0.3-9.5-1-9-1.7-9.5-2.3-9-2.8-8.5-3.8-9.5-4.5-9.5-5.1-9.5z"/>
<path fill="#0056ff" d="M116.3 920l290 0 0 290-290 0 0-53.8 5.3-9.7 4.5-9.5 3.8-9.5 2.9-8.6 2.3-8.9 1.7-9.5 1.1-9.5 0.3-9.5-0.3-9.5-1-9.5-1.8-9.5-2.3-9-2.8-8.5-4.1-10-4.5-9.5-5.1-9.4z"/>
<path fill="#005aff" d="M116.3 920l290 0 0 290-290 0 0-52.8 5.3-9.7 4.7-10 4-9.7 2.9-8.8 2.3-9 1.8-9.5 1-9.5 0.4-9.5-0.4-9.5-1-9.5-1.7-9.5-2.5-9.5-2.8-8.5-4.1-10-4.5-9.5-5.4-9.9z"/>
<path fill="#005eff" d="M116.3 920l290 0 0 290-290 0 0-51.9 5.3-9.6 4.8-10 3.9-9.5 3.1-9 2.5-9.5 1.7-9.5 1.1-9.5 0.4-10-0.4-10-1.1-9.5-1.7-9.5-2.5-9.5-3-9-3.9-9.5-4.8-10-5.4-9.8z"/>
<path fill="#0062ff" d="M116.3 920l290 0 0 290-290 0 0-51 5.5-10 4.9-10 3.9-9.5 3.1-9 2.5-9.5 1.8-10 1.1-10 0.4-9.5-0.3-9.5-1.1-10-1.9-10-2.5-9.5-2.9-8.7-4.1-9.8-4.8-10-5.6-10.2z"/>
<path fill="#06f" d="M116.3 920l290 0 0 290-290 0 0-50.1 5.8-10.4 4.8-10 4-9.5 3.1-9 2.5-9.5 1.9-10 1.1-10 0.4-10-0.4-10-1.1-10-1.8-10-2.5-9.5-3.3-9.5-4-9.5-4.9-10-5.6-10.1z"/>
<path fill="#006aff" d="M116.3 920l290 0 0 290-290 0 0-49.2 5.8-10.3 4.9-10 4.2-10 3.1-9 2.6-10 1.9-10 1.2-10 0.3-10-0.3-10-1.1-10-1.9-10-2.6-10-3.1-9-4.2-10-5.2-10.5-5.6-10z"/>
<path fill="#006eff" d="M116.3 920l290 0 0 290-290 0 0-48.3 5.7-10.2 5.2-10.5 4.1-9.5 3.3-9.5 2.7-10 1.9-10 1.2-10.5 0.4-10-0.4-10-1.2-10.5-1.9-10-2.6-10-3.3-9.5-4.1-9.5-5.1-10.5-5.9-10.4z"/>
<path fill="#0072ff" d="M116.3 920l290 0 0 290-290 0 0-47.4 6-10.6 5.2-10.5 4.1-9.5 3.3-9.5 2.7-10 2-10.5 1.2-10.5 0.4-10-0.4-10-1.2-10.5-2-10.5-2.6-10-3.3-9.5-4.1-9.5-5.2-10.5-6.1-10.8z"/>
<path fill="#0076ff" d="M116.3 920l290 0 0 290-290 0 0-46.5 6-10.5 5.5-11 4.1-9.5 3.3-9.5 2.7-10 2.1-10.5 1.2-10.5 0.4-10.5-0.4-10.5-1.2-10.5-2-10.5-2.7-10-3.3-9.5-4.1-9.5-5.5-11-6.1-10.7z"/>
<path fill="#007aff" d="M116.3 920l290 0 0 290-290 0 0-45.6 6.2-10.9 5.6-11 4.1-9.5 3.3-9.5 2.9-10.5 2-10.5 1.2-10.5 0.4-10.5-0.4-10.5-1.2-10.5-2-10.5-2.8-10.5-3.5-10-4.2-9.5-5.5-11-6.1-10.6z"/>
<path fill="#007eff" d="M116.3 920l290 0 0 290-290 0 0-44.7 6.2-10.8 5.6-11 4.2-9.5 3.5-10 2.9-10.5 2.1-11 1.3-10.5 0.4-10.5-0.4-10.5-1.2-10.5-2.2-11-2.8-10.5-3.5-10-4.2-9.5-5.6-11-6.3-11z"/>
<path fill="#0081ff" d="M116.3 920l290 0 0 290-290 0 0-43.8 6.5-11.2 5.6-11 4.2-9.5 3.5-10 2.9-10.5 2.2-11 1.3-11 0.4-10.5-0.4-10.5-1.3-11-2.1-11-2.9-10.5-3.5-10-4.2-9.5-5.7-11.2-6.5-11.2z"/>
<path fill="#0085ff" d="M116.3 920l290 0 0 290-290 0 0-42.9 6.5-11.1 5.9-11.5 4.2-9.5 3.5-10 3-11 2.2-11 1.3-11 0.4-10.5-0.4-10.5-1.3-11-2.1-11-3-11-3.6-10-4.1-9.5-5.9-11.5-6.6-11.3z"/>
<path fill="#0089ff" d="M116.3 920l290 0 0 290-290 0 0-42 6.7-11.5 6-11.5 4.1-9.5 3.6-10 3.1-11 2.2-11 1.3-11 0.5-11-0.5-11-1.3-11-2.2-11-3-11-3.6-10-4.1-9.5-6-11.5-6.8-11.7z"/>
<path fill="#008dff" d="M116.3 920l290 0 0 290-290 0 0-41.1 6.7-11.4 6.2-12 4.2-9.5 3.6-10 3.1-11 2.3-11.5 1.3-11 0.5-11-0.4-11-1.4-11-2.3-11.5-3-11-3.6-10-4.2-9.5-6.2-12-6.8-11.6z"/>
<path fill="#0091ff" d="M116.3 920l290 0 0 290-290 0 0-40.2 7-11.8 6.2-12 4.2-9.5 3.6-10 3.1-11 2.4-11.5 1.4-11.5 0.4-11-0.4-11-1.4-11.5-2.3-11.5-3.1-11-3.6-10-4.2-9.5-6.2-12-7.1-12z"/>
<path fill="#0095ff" d="M116.3 920l290 0 0 290-290 0 0-39.3 7-11.7 6.3-12 4.2-9.5 3.8-10.5 3.3-11.5 2.3-11.5 1.4-11.5 0.5-11-0.5-11-1.4-11.5-2.3-11.5-3.2-11.5-3.8-10.5-4.2-9.5-6.3-12-7.1-11.9z"/>
<path fill="#09f" d="M116.3 920l290 0 0 290-290 0 0-38.4 7.2-12.1 6.3-12 4.3-9.5 3.8-10.5 3.3-11.5 2.4-11.5 1.4-11.5 0.4-6 0.1-5.5-0.1-5.5-0.4-6-1.4-11.5-2.4-11.5-3.2-11.5-3.7-10.2-4.4-9.8-6.3-12-7.3-12.3z"/>
<path fill="#009dff" d="M116.3 920l290 0 0 290-290 0 0-37.5 7.2-12 6.6-12.5 4.3-9.5 3.8-10.5 3.3-11.5 1.4-6 1.1-6 1.4-11.5 0.4-6 0.1-5.5-0.1-5.5-0.3-6-1.5-11.5-1.1-6-1.3-6-3.3-11.5-3.8-10.5-4.3-9.5-6.6-12.5-7.3-12.2z"/>
<path fill="#00a1ff" d="M116.3 920l290 0 0 290-290 0 0-36.6 7.5-12.4 6.5-12.3 4.4-9.7 3.8-10.5 3.5-12 2.4-12 1.5-11.5 0.3-5.5 0.2-6-0.1-6-0.4-5.5-1.4-11.5-2.5-12-3.4-12-3.9-10.5-4.4-9.9-6.7-12.6-7.3-12.1z"/>
<path fill="#00a5ff" d="M116.3 920l290 0 0 290-290 0 0-35.7 7.5-12.3 6.7-12.5 4.4-10 3.9-10.5 3.5-12 2.5-12 0.9-6 0.6-6 0.4-5.5 0.1-6-0.1-6-0.4-5.5-0.6-6-0.9-6-2.5-12-3.4-12-3.9-10.5-4.4-10-6.7-12.5-7.6-12.5z"/>
<path fill="#00a9ff" d="M116.3 920l290 0 0 290-290 0 0-34.8 7.4-12.2 6.8-12.5 4.5-10 4.1-11 3.5-12 1.5-6.5 1.2-6 0.8-6 0.7-6 0.4-6 0.1-5.5-0.1-5.5-0.4-6-0.6-6-0.9-6-1.1-6-1.5-6.5-3.5-12-4.1-11-4.5-10-6.7-12.5-7.6-12.4z"/>
<path fill="#00adff" d="M116.3 920l290 0 0 290-290 0 0-33.9 7.7-12.6 6.8-12.6 4.7-10.4 4.1-11 1.8-6 1.8-6.5 2.5-12 0.9-6 0.6-6 0.4-6 0.1-5.5-0.1-6-0.4-6-0.6-6-0.9-6-2.6-12-1.6-6-2-6.5-4.1-11-4.6-10.1-7-12.9-7.5-12.3z"/>
<path fill="#00b1ff" d="M116.3 920l290 0 0 290-290 0 0-33 7.7-12.5 6.8-12.5 4.8-10.5 4.3-11.5 2-6.5 1.6-6 2.6-12 0.9-6 0.6-6 0.4-6 0.2-6-0.1-6-0.4-6-0.7-6-0.9-6-1.1-6-1.6-6.5-1.7-6.5-1.9-6-4.3-11.5-4.7-10.2-6.7-12.3-7.8-12.7z"/>
<path fill="#00b5ff" d="M116.3 920l290 0 0 290-290 0 0-32.1 7.7-12.4 7.1-13 4.8-10.5 4.3-11.5 3.6-12.5 1.6-6.5 1.1-6 0.9-6 0.7-6 0.4-6 0.1-6-0.1-6-0.4-6-0.6-6-0.9-6-1.2-6-1.5-6.5-1.8-6.5-2-6.5-4.3-11.4-4.9-10.6-6.8-12.5-7.8-12.6z"/>
<path fill="#00b9ff" d="M116.3 920l290 0 0 290-290 0 0-31.2 7.9-12.8 7.1-12.8 4.9-10.7 4.3-11.5 2-6.5 1.8-6.5 1.4-6 1.3-6.5 0.9-6 0.7-6 0.4-6 0.1-6-0.1-6-0.4-6-0.7-6-0.9-6-1.1-6-1.5-6.5-1.8-6.5-2.1-6.5-4.2-11.5-5-10.9-7-12.7-8-12.9z"/>
<path fill="#00bdff" d="M116.3 920l290 0 0 290-290 0 0-30.3 7.9-12.7 7.1-12.8 5-10.8 4.5-11.9 2-6.5 1.8-6.5 1.6-6.5 1.2-6 1-6.5 0.6-6 0.4-6 0.2-6-0.2-6-0.4-6-0.6-6-1-6.5-1.3-6.5-1.4-6-1.8-6.5-2.1-6.5-4.5-12-5-10.9-7-12.7-8-12.8z"/>
<path fill="#00c1ff" d="M116.3 920l290 0 0 290-290 0 0-29.4 8-12.7 7.1-12.9 5.1-11 4.6-12 2.1-6.5 1.8-6.5 1.5-6.5 1.3-6.5 1-6.5 0.7-6 0.4-6 0.1-6-0.1-6-0.4-6-0.6-6-1-6.5-1.3-6.5-1.6-6.5-1.8-6.5-2.1-6.5-4.5-12-5.1-11-7.2-13-8-12.8z"/>
<path fill="#00c5ff" d="M116.3 920l290 0 0 290-290 0 0-28.4 8.2-13.1 7.2-13 5.1-11 4.6-12 2.1-6.5 1.8-6.5 1.6-6.5 1.3-6.5 1-6 0.7-6.5 0.5-6.5 0.1-6-0.1-6-0.5-6.5-0.7-6.5-1-6-1.3-6.5-1.5-6.5-1.9-6.5-2.1-6.5-4.5-12-5.1-11.1-7.2-12.9-8.3-13.3z"/>
<path fill="#00c9ff" d="M116.3 920l290 0 0 290-290 0 0-27.5 8.2-13 7.3-13.1 5.3-11.4 4.6-12 2.2-7 1.9-6.5 1.6-6.5 1.3-6.5 1-6.5 0.7-6 0.5-6.5 0.1-6-0.1-6-0.5-6.5-0.7-6.5-1-6-1.3-6.5-1.6-6.5-1.8-6.5-2.3-7-4.7-12.5-5.2-11.1-7.2-12.9-8.3-13.2z"/>
<path fill="#00cdff" d="M116.3 920l290 0 0 290-290 0 0-26.6 8.2-12.9 7.3-13 5.4-11.5 4.8-12.5 2.1-6.5 2-7 1.6-6.5 1.4-7 1.1-6.5 0.7-6 0.4-6.5 0.2-6-0.2-6-0.4-6.5-0.7-6-1-6.5-1.3-6.5-1.7-7-2-7-2.2-6.5-4.7-12.5-5.4-11.5-7.3-13-8.3-13.1z"/>
<path fill="#00d1ff" d="M116.3 920l290 0 0 290-290 0 0-25.7 8.4-13.3 7.4-13 5.4-11.5 4.8-12.5 2.3-7 1.9-6.5 1.7-7 1.3-6.5 1.1-6.5 0.8-6.5 0.4-6.5 0.2-6-0.2-6-0.4-6.5-0.8-6.5-1-6.5-1.5-7-1.6-6.5-2-7-2.1-6.5-4.8-12.5-5.4-11.5-7.3-13-8.6-13.5z"/>
<path fill="#00d5ff" d="M116.3 920l290 0 0 290-290 0 0-24.8 8.7-13.7 7.3-12.9 5.5-11.6 4.8-12.5 2.3-7 2-7 1.8-7 1.3-6.5 1.1-6.5 0.8-6.5 0.4-6.5 0.2-6-0.2-6-0.4-6.5-0.8-6.5-1-6.5-1.5-7-1.6-6.5-2-7-2.3-7-4.9-12.6-5.5-11.7-7.5-13.2-8.5-13.4z"/>
<path fill="#00d9ff" d="M116.3 920l290 0 0 290-290 0 0-23.9 8.7-13.6 7.4-13 2.9-5.9 2.7-6.1 5.1-13 2.3-7 2-7 1.8-7 1.3-6.5 1.1-6.5 0.8-6.5 0.4-6.5 0.2-6-0.2-6-0.4-6.5-0.8-6.5-1.1-6.5-1.3-6.5-1.7-7-2.1-7-2.4-7.5-5.1-13-2.7-6-2.9-5.9-7.5-13.1-8.5-13.3z"/>
<path fill="#0df" d="M116.3 920l290 0 0 290-290 0 0-22.9 8.7-13.6 7.4-13 2.9-5.8 2.8-6.2 2.7-6.5 2.6-7 2.3-7 2.2-7.5 1.7-7 1.4-6.5 1.1-6.5 0.8-6.5 0.4-6.5 0.2-6-0.2-6-0.4-6.5-0.8-6.5-1.1-6.5-1.3-6.5-1.8-7-2-7-2.4-7.5-5.2-13.3-2.8-6.2-3-6-7.4-13-8.8-13.8z"/>
<path fill="#00e1ff" d="M116.3 920l290 0 0 290-290 0 0-22 9-14 7.4-13 3-6 2.7-6 2.7-6.5 2.6-7 2.3-7 2.2-7.5 1.8-7 1.5-7 1.1-6.5 0.8-6.5 0.4-6.5 0.2-6-0.1-6-0.5-6.5-0.8-6.5-1.2-7-1.5-7-1.7-7-2.1-7-2.5-7.5-2.6-7-2.7-6.4-2.7-6.1-3-6-7.5-13-8.8-13.7z"/>
<path fill="#00e5ff" d="M116.3 920l290 0 0 290-290 0 0-21.1 9-13.9 7.5-13.1 3-6 2.9-6.4 5.3-13.5 2.5-7.5 2.1-7 1.8-7 1.5-7 1.2-7 0.8-6.5 0.5-6.5 0.1-6-0.1-6-0.5-6.5-0.8-6.5-1.2-7-1.5-7-1.8-7-2-7-2.5-7.5-5.3-13.5-3-6.5-3-6.1-3-5.5-4.7-7.9-8.8-13.6z"/>
<path fill="#00e9ff" d="M116.3 920l290 0 0 290-290 0 0-20.1 5.5-8.4 5.3-8.5 4.3-7.5 3.7-7 3.7-8 3.3-8 3.1-8.5 2.7-8.5 3.1-11.5 2.3-11.5 1.3-10.5 0.5-10.5-0.2-6-0.5-6.5-0.8-6.5-1.1-7-1.6-7-1.8-7-2.2-7.5-2.5-7.5-2.6-7-2.9-7-3-6.5-3-6-7.5-13-9.1-14.1z"/>
<path fill="#00edff" d="M116.3 920l290 0 0 290-290 0 0-19.2 5.5-8.3 5.3-8.5 4.4-7.5 3.6-7 3.7-7.9 3.4-8.1 3.1-8.5 2.8-8.5 3.3-12 2.4-11.5 1.3-11 0.5-10.5-0.1-6-0.5-6.5-0.8-6.5-1.2-7-1.5-7-2-7.5-2.3-7.5-2.5-7.5-2.6-7-2.9-7-3-6.5-3-6-2.9-5.3-4.6-7.7-9.4-14.5z"/>
<path fill="#00f1ff" d="M116.3 920l290 0 0 290-290 0 0-18.3 5.8-8.7 5.3-8.5 4.1-7 3.7-7 3.7-8 3.6-8.5 3.2-8.5 2.8-8.5 3.3-12 2.4-11.5 1.5-11 0.3-5.5 0.2-5.5-0.2-6-0.5-6.5-0.8-6.5-1.2-7-1.5-7-2-7.5-2.4-8-2.6-7.5-2.6-7-3-7-2.9-6.5-3.2-6.3-3-5.5-4.6-7.7-9.4-14.4z"/>
<path fill="#00f5ff" d="M116.3 920l290 0 0 290-290 0 0-17.3 5.8-8.7 5.3-8.5 4.1-7 3.7-7 3.6-7.6 3.6-8.4 3.2-8.5 3.1-9 3.5-12.5 2.5-12 1.5-11 0.4-5.5 0.1-5.5-0.1-6.5-0.6-6.5-0.8-6.5-1.3-7-1.5-7-2-7.5-2.3-7.5-2.8-8-2.8-7.5-3-7-3-6.5-3.2-6.4-3-5.4-4.6-7.7-9.4-14.4z"/>
<path fill="#00f9ff" d="M116.3 920l290 0 0 290-290 0 0-16.4 5.8-8.6 5.3-8.5 4.4-7.5 3.5-6.6 3.8-7.9 3.6-8.5 3.2-8.5 3.1-9 3.6-12.5 2.6-12 1-6 0.6-5.5 0.4-5.5 0.1-5.5-0.2-6.5-0.5-6.5-0.9-7-1.2-6.5-1.7-7.5-2.1-7.5-2.3-7.5-2.8-8-2.8-7.5-3-7-3-6.6-3.2-6.4-3.3-5.8-4.5-7.5-9.5-14.5z"/>
<path fill="#00fdff" d="M116.3 920l290 0 0 290-290 0 0-15.4 5.7-8.6 5.4-8.5 4.4-7.4 3.5-6.6 3.8-8 3.7-8.5 3.3-8.5 3.1-9 3.8-13 2.8-12.5 0.9-5.5 0.7-6 0.4-5.5 0.1-5.5-0.2-6.5-0.5-6.5-0.9-6.5-1.3-7-1.6-7-2.1-8-2.5-8-2.8-8-2.9-7.5-3-7-3.2-7-3.3-6.5-3.1-5.5-4.5-7.5-9.7-14.8z"/>
<path fill="#02fffd" d="M116.3 920l290 0 0 290-290 0 0-14.5 5.7-8.5 5.4-8.5 4.4-7.4 3.5-6.6 3.9-8 3.7-8.5 3.5-9 3.1-9 4-13.5 2.8-12.5 1-6 0.7-5.5 0.4-5.5 0.1-5.5-0.2-6.5-0.5-6.5-0.9-6.5-1.3-7-1.8-7.5-2.2-8-2.5-8-2.6-7.5-2.9-7.5-3.2-7.5-3.2-7-3.4-6.7-3.3-5.8-4.5-7.5-9.7-14.7z"/>
<path fill="#06fff9" d="M116.3 920l290 0 0 290-290 0 0-13.5 5.7-8.5 5.4-8.5 4.4-7.3 3.6-6.7 3.9-8 3.7-8.5 3.5-9 3.2-9 4.2-14 1.7-6.5 1.3-6.5 1-6 0.7-5.5 0.4-5.5 0.2-5.5-0.2-6.5-0.6-6.5-0.9-6.5-1.4-7.5-2-8-2.1-7.5-2.5-8-2.9-8-2.9-7.5-3.2-7.5-3.3-7-3.4-6.7-3.2-5.8-4.6-7.5-9.7-14.7z"/>
<path fill="#0afff5" d="M116.3 920l290 0 0 290-290 0 0-12.6 5.7-8.4 5.7-9 4.2-7 3.8-7 3.9-8 3.7-8.5 3.6-9 3.2-9 4.3-14 1.6-6.5 1.4-6.5 1.1-6 0.7-5.5 0.5-6 0.1-5.5-0.2-6.5-0.6-6.5-0.9-6.5-1.4-7-1.7-7.5-2.3-8-2.5-8-3.1-8.5-3.1-8-3.2-7.5-3.5-7.5-3.3-6.5-3.2-5.6-4.8-7.9-9.7-14.6z"/>
<path fill="#0efff1" d="M116.3 920l290 0 0 290-290 0 0-11.6 6-8.9 5.7-9 3.9-6.5 3.8-7 3.9-8 3.8-8.5 3.6-9 3.3-9 2.4-7.5 2.2-7.5 1.7-6.5 1.4-6.5 1.1-6 0.8-6 0.4-5.5 0.2-5.5-0.2-6.5-0.6-6.5-1-6.5-1.4-7-1.8-7.5-2.4-8.5-2.6-8-3-8.5-3.2-8-3.2-7.5-3.3-7.1-3.5-6.9-3.4-6-4.3-7-10.3-15.6z"/>
<path fill="#12ffed" d="M116.3 920l290 0 0 290-290 0 0-10.6 6-8.9 5.8-9 4.2-7 3.5-6.5 3.9-8 3.8-8.5 3.6-9 3.4-9 4.6-14.5 1.9-7 1.6-7 1.1-6 0.8-6 0.5-6 0.1-5.5-0.2-6.5-0.6-6.5-0.9-6.5-1.4-7-2-8-2.3-8-2.8-8.5-3.3-9-3.2-8-3.2-7.5-3.4-7.2-3.5-6.8-3.4-6-4.3-7-10.3-15.6z"/>
<path fill="#16ffe9" d="M116.3 920l290 0 0 290-290 0 0-9.7 6-8.8 5.8-9 3.9-6.5 3.8-7 4-8 3.8-8.5 3.5-8.5 3.5-9.5 5.1-15.5 1.9-7 1.6-7 1.2-6 0.8-6 0.5-6 0.1-5.5-0.2-6.5-0.6-6.5-1-6.5-1.4-7-2-8-2.5-8.5-2.9-8.5-3.1-8.5-3.2-8-3.4-8-3.6-7.5-3.6-7-3.4-6-4.3-7-10.3-15.5z"/>
<path fill="#1affe5" d="M116.3 920l290 0 0 290-290 0 0-8.7 6-8.8 5.8-9 3.9-6.5 3.8-6.9 4-8 3.9-8.6 3.7-9 3.6-9.5 2.9-8.5 2.5-8 2.1-7.5 1.5-6.5 1.1-6 0.7-5.5 0.5-6 0.2-5.5-0.2-6-0.5-6.5-1-6.5-1.3-6.5-2-8-2.6-8.5-2.9-9-3.5-9.5-3.4-8.5-3.3-7.5-3.5-7.5-3.6-7-3.4-5.9-4.3-7.1-10.7-16z"/>
<path fill="#1effe1" d="M116.3 920l290 0 0 290-290 0 0-7.7 6-8.8 5.8-9 4-6.5 3.7-6.8 4-8 4-8.7 3.7-9 3.7-9.5 5.4-16 2.1-7.5 1.8-7 1.1-6 0.9-6 0.5-6 0.2-6-0.2-6-0.6-6.5-0.9-6.5-1.3-6.5-2.1-8-2.6-8.5-3-9-3.5-9.5-3.4-8.5-3.5-8-3.5-7.5-3.8-7.3-3.5-6.2-4.3-7-10.7-16z"/>
<path fill="#2fd" d="M116.3 920l290 0 0 290-290 0 0-6.7 6-8.8 5.8-9 4-6.5 3.7-6.7 4-7.9 4.1-8.9 4-9.5 3.7-9.5 5.6-16.5 2.3-8 1.6-6.5 1.2-6 0.9-6 0.5-6 0.2-6-0.2-6.5-0.6-6.5-1-6.5-1.4-6.5-2.1-8-2.6-8.5-3.1-9-3.6-9.5-3.4-8.5-3.7-8.5-3.6-7.5-3.8-7.4-3.5-6.1-4.3-7-10.7-16z"/>
<path fill="#26ffd9" d="M116.3 920l290 0 0 290-290 0 0-5.7 6-8.8 5.8-9 4.2-6.8 3.7-6.7 4.1-8 4.1-9 3.8-9 3.9-10 3.3-9 2.8-8.5 2.2-7.5 1.5-6 1.3-6.5 0.9-6 0.5-6 0.1-6-0.1-6.5-0.6-6.5-1-6.5-1.5-7-1.8-6.5-2.9-9.5-3.1-9-3.8-10-3.7-9-3.7-8.5-3.9-8-3.6-7-3.5-6.1-4.3-6.9-10.7-16z"/>
<path fill="#2affd5" d="M116.3 920l290 0 0 290-290 0 0-4.7 6-8.8 6-9.2 4-6.5 3.8-6.8 4-8 4-8.5 4-9.5 4-10 6.4-18 2.1-7 1.7-6.5 1.3-6.5 0.9-6 0.6-6.5 0.1-6-0.1-6.5-0.6-6.5-1-6.5-1.5-7-1.8-6.5-2.7-8.5-3.5-10-3.6-9.5-3.6-9-3.8-8.5-3.8-8-3.9-7.6-3.5-6.2-4.1-6.7-5.6-8.5-5.8-8.5z"/>
<path fill="#2effd1" d="M116.3 920l290 0 0 290-290 0 0-3.7 7-10.3 7-10.8 4-6.9 4.2-7.8 7-15 7-17 3.5-9.5 3.5-10 1.8-6 1.6-6 1.3-6.5 1-6.5 0.5-6 0.2-6.5-0.1-6.5-0.7-7-1-6.5-1.5-7-2-7-2.4-7.5-3.6-10-3.6-9.5-3.9-9.5-4-9-3.8-8-3.9-7.5-3.6-6.4-4.1-6.6-5.6-8.5-5.8-8.5z"/>
<path fill="#32ffcd" d="M116.3 920l290 0 0 290-290 0 0-2.7 7-10.2 6.8-10.6 3.7-6.2 4-7.3 3.7-7.5 3.7-8 7.3-17.5 4-10.5 3.5-10 1.9-6 1.6-6 1.3-6.5 1-6.5 0.7-6.5 0.2-6.5-0.2-6.5-0.7-7-1-6.5-1.5-7-1.7-6-2.1-6.5-3.9-11-4-10.5-3.9-9.5-4-9-4.1-8.5-3.9-7.5-3.6-6.5-4.1-6.5-5.9-9-5.8-8.5z"/>
<path fill="#36ffc9" d="M116.3 920l290 0 0 290-290 0 0-1.7 6.7-9.8 6.5-10 3.8-6.2 3.7-6.8 3.8-7.5 4-8.5 7.9-18.5 7.7-20.5 1.9-6 1.6-6 1.6-7 1-6.5 0.7-7 0.2-6.5-0.2-6.5-0.7-7-1.1-7-1.5-7-1.7-6-2.1-6.5-8-21-4.1-10-4-9-4.1-8.5-4.1-8-3.7-6.5-4-6.5-5.9-9-5.9-8.5z"/>
<path fill="#3affc5" d="M116.3 920l290 0 0 290-290 0 0-0.7 7.1-10.3 7.1-11 6.1-10.5 4.1-8 4-8.5 4.2-9.5 4.1-10 7.9-20.5 2.1-6.5 1.7-6 1.5-7 1-6.5 0.7-7 0.2-6.5-0.2-6.5-0.7-7-1.1-7-1.5-7-1.7-6-2.1-6.5-7.9-20.5-4.4-10.5-4.2-9.5-4-8.5-4.2-8-3.8-6.7-3.9-6.3-6.1-9.3-6-8.7z"/>
<path fill="#3effc1" d="M116.3 920l290 0 0 290-289.8 0 5.9-8.5 6.2-9.5 4.1-6.5 3.6-6.4 4.2-8.1 4.1-8.5 4.4-10 4.6-11 7.7-19.5 2.1-6.5 1.8-6.5 1.6-7 1.1-7 0.7-7 0.2-6.5-0.2-6.5-0.6-7-1.1-7-1.6-7-1.8-6.5-2.2-6.5-7.8-20-4.4-10.5-4.4-10-4.4-9-4.1-8-3.9-6.8-3.9-6.2-6.1-9.3-6-8.7z"/>
<path fill="#42ffbd" d="M116.3 920l290 0 0 290-289.1 0 6.6-9.5 6.5-10 3.5-5.9 3.7-6.6 4.5-9 4.5-9.5 4.6-10.5 9.4-23 2.2-6 2-6.5 1.8-6.5 1.3-6.5 1-6.5 0.6-6.5 0.1-6.5-0.2-6.5-0.7-7-1-6.5-1.6-7-1.8-6.5-2.3-7-7.4-18.5-4.8-11.5-4.5-10-4.4-9.2-4.3-8.3-3.7-6.6-3.7-5.9-6.5-10-6.3-9z"/>
<path fill="#46ffb9" d="M116.3 920l290 0 0 290-288.3 0 6.5-9.5 6.3-9.8 4-6.7 4.1-7.5 4.7-9.5 4.8-10.5 11.8-28 2.5-6.5 2-6 1.7-6 1.5-6 1.1-6 0.7-5.5 0.5-6 0.1-5.5-0.2-6.5-0.7-6.5-1-6.5-1.4-6.5-1.8-6.5-2.1-6.5-2.2-6-9.3-22.5-5.1-11.5-4.8-10-4.4-8.6-3.8-6.9-3.7-6-6.9-10.5-6.6-9.6z"/>
<path fill="#4affb5" d="M116.3 920l290 0 0 290-287.6 0 6.5-9.5 6.1-9.5 4-6.8 3.9-7.2 4.5-9 4.8-10.5 12.5-29 2.4-6.5 2.1-6 1.7-6 1.4-6 1.1-6 0.8-6 0.4-6 0.1-5.5-0.2-5.5-0.5-6-0.9-6-1.2-6-1.5-6-1.8-6-2.1-6-2.6-6.5-12.3-28.5-4.9-10.5-4.8-9.5-3.9-7.2-4-6.6-7-10.7-7-10.1z"/>
<path fill="#4effb1" d="M116.3 920l290 0 0 290-286.9 0 11.9-17.9 4-6.8 4.2-7.8 4.5-9 4.7-10 13-30 2.5-6.5 2-6 1.7-6 1.5-6 1.1-6 0.7-6 0.5-6 0.1-5.5-0.2-5.5-0.6-6-0.8-6-1.2-6-1.6-6-1.8-6-2.1-6-2.5-6.5-13.4-30.5-4.7-10-4.6-9-4-7.3-4-6.6-7-10.7-7-10z"/>
<path fill="#52ffad" d="M116.3 920l290 0 0 290-286.1 0 11.6-17.6 4-6.9 4-7.4 4.3-8.6 4.9-10.5 13.6-31 2.5-6.5 2-6 1.7-6 1.4-6 1.1-6 0.7-6 0.5-6 0-5.5-0.2-6-0.6-5.5-0.9-6-1.2-6-1.5-6-1.9-6-2.1-6-2.6-6.5-14-31.5-4.8-10-4.6-9-3.9-7-3.9-6.5-7-10.6-7-10.1z"/>
<path fill="#56ffa9" d="M116.3 920l290 0 0 290-285.4 0 11.2-17 4.1-7 4-7.5 8.9-18.5 11.5-25.5 3-7 2.4-6.5 2-6 1.7-6 1.4-6 1-6 0.8-6 0.3-5.5 0.1-6-0.3-5.5-0.6-6-0.9-6-1.3-6-1.5-6-1.9-6-2.2-6-2.6-6.5-14.4-32-5-10.5-4.4-8.5-3.9-7-4-6.6-7-10.6-7-10z"/>
<path fill="#5affa5" d="M116.3 920l290 0 0 290-284.7 0 10.7-16.2 4-6.9 4-7.4 8.7-18 12.2-26.5 2.9-7 2.5-6.5 2-6 1.9-6.5 1.3-6 1.1-6 0.7-6 0.4-6 0-5.5-0.2-6-0.6-5.5-0.9-6-1.3-6-1.6-6-1.8-6-2.4-6.5-2.6-6.5-15.6-34-4.6-9.5-4.4-8.5-3.9-7-3.8-6.2-7-10.6-7-10z"/>
<path fill="#5effa1" d="M116.3 920l290 0 0 290-283.9 0 10.1-15.5 4.1-7 4-7.5 9-18.5 11.9-25.5 3.6-8.5 2.5-6.5 1.9-6 1.9-6.5 1.3-6 1-6 0.7-6 0.4-5.5 0-6-0.3-5.5-0.6-6-1-6-1.2-6-1.6-6-1.9-6-2.4-6.5-2.7-6.5-16-34.5-4.6-9.5-4.4-8.5-4-7-3.8-6.3-7.1-10.7-6.9-9.9z"/>
<path fill="#62ff9d" d="M116.3 920l290 0 0 290-283.2 0 9.7-14.8 4-6.9 4.2-7.8 6.4-13 13.7-29 4.8-11 2.4-6.5 2.2-6.5 1.6-6 1.4-6 1-6 0.7-6 0.4-6 0-5.5-0.3-5.5-0.6-6-1-6-1.3-6-1.6-6-2-6.5-2.4-6.5-2.7-6.5-17.2-36.5-8.6-17-4-7-3.6-5.9-7.1-10.6-6.9-10z"/>
<path fill="#6f9" d="M116.3 920l290 0 0 290-282.4 0 9.4-14.5 4-7 4-7.5 5.7-11.5 14.8-31 5.1-11.5 2.4-6.5 2.1-6.5 1.6-6 1.4-6 1-6 0.7-6 0.3-6 0-5.5-0.3-5.5-0.7-6-1-6-1.3-6-1.6-6-2.1-6.5-2.5-6.5-2.7-6.5-17.8-37.5-8.6-16.8-3.8-6.7-3.7-6-7-10.5-7-10z"/>
<path fill="#6aff95" d="M116.3 920l290 0 0 290-281.7 0 8.7-13.5 4-6.9 4.1-7.6 5.5-11 15.5-32 5.2-12 2.5-6.5 1.9-6 1.8-6.5 1.4-6 1-6 0.6-6 0.4-6 0-5.5-0.3-5.5-0.7-6-1-6-1.3-6-1.7-6-2.1-6.5-2.4-6.5-2.7-6.5-19-39.5-8.2-15.9-3.7-6.6-3.8-6.1-7-10.5-7-10z"/>
<path fill="#6eff91" d="M116.3 920l290 0 0 290-281 0 8.5-13.1 3.9-6.9 4.1-7.5 21.1-43 5.5-12.5 2.5-6.5 2.1-6.5 1.6-6 1.4-6 1-6 0.6-6 0.4-6 0-6-0.4-5.5-0.7-6-1-6-1.3-6-1.7-6-2.1-6.5-2.5-6.5-2.7-6.5-3.1-6.5-16.6-34-8.1-15.6-4-6.9-3.5-5.7-7.2-10.8-6.8-9.7z"/>
<path fill="#72ff8d" d="M116.3 920l290 0 0 290-280.2 0 8.2-12.8 7.8-14.2 21.4-43 3-6.5 2.7-6.5 2.5-6.5 1.9-6 1.8-6.5 1.4-6 1-6 0.7-6 0.3-6 0-6-0.4-6-0.7-6-1.1-6-1.4-6-1.7-6-2.1-6.5-2.5-6.5-2.8-6.5-3.3-7-6-11.9-11.3-23.1-7.7-14.8-3.9-6.7-3.6-5.8-7.1-10.7-6.9-9.8z"/>
<path fill="#76ff89" d="M116.3 920l290 0 0 290-279.5 0 4.5-6.8 3.5-5.7 7.7-14 14.3-28.9 7.2-14.1 3.3-7 2.9-7 2.4-6.5 2-6 1.8-6.5 1.3-6 1-6 0.6-6 0.3-6 0-6-0.9-10-0.8-5-1.1-5.5-2.9-10.5-4-11-3-7-3.5-7.5-7.1-13.8-11.4-23.2-6.1-11.6-4-7.1-4-6.5-7.2-10.8-7.3-10.4z"/>
<path fill="#7aff85" d="M116.3 920l290 0 0 290-278.7 0 7.3-11.5 7.7-14 13.7-27.5 8.3-16 3.5-7.5 2.9-7 2.5-6.5 2.1-6.5 1.6-6 1.3-6 1-6 0.6-6 0.3-6 0-6-0.3-5-0.6-5-0.9-5.5-1-5-1.4-5.5-1.7-5.5-4-11-3-7-3.6-7.5-7.6-14.7-11.8-23.8-5.8-11-4-7-4-6.5-7.4-11-7-10.1z"/>
<path fill="#7eff81" d="M116.3 920l290 0 0 290-277.9 0 6.9-11.1 7.7-13.9 13.3-26.6 8.8-16.9 3.6-7.5 3.1-7.5 2.5-6.5 2.1-6.5 1.7-6.5 1.3-6 1-6 0.6-6 0.3-6-0.1-6-0.3-5-0.7-5.5-0.8-5-1.2-5.5-1.5-5.5-1.7-5.5-4.1-11-3.1-7-3.6-7.5-7.9-15.1-12.2-24.4-5.6-10.5-4.2-7.3-3.8-6.2-7.2-10.7-7-10z"/>
<path fill="#81ff7e" d="M116.3 920l290 0 0 290-277.2 0 6.7-10.7 7.3-13.3 13.2-26.2 9.2-17.3 3.8-8 3.4-8 2.4-6.5 2.1-6.5 1.8-6.5 1.3-6 0.9-6 0.7-6 0.2-6-0.1-6-0.3-5.5-0.6-5-0.9-5-1.2-5.5-1.4-5.5-1.7-5.5-4.4-11.5-3.3-7.5-3.7-7.5-7.7-14.6-12.1-23.9-6.4-12.1-4-6.9-4-6.4-7.1-10.6-6.9-9.8z"/>
<path fill="#85ff7a" d="M116.3 920l290 0 0 290-276.4 0 6.4-10.4 7.1-13.1 12.9-25.3 10-18.7 4-8.5 3.4-8 2.4-6.5 2.1-6.5 1.7-6.5 1.3-6 0.9-6 0.6-6 0.3-6-0.1-6-0.4-5-0.7-5.5-0.9-5.5-1.3-5.5-1.5-5.5-1.7-5.5-4.5-11.5-3.1-7-3.7-7.5-8.3-15.5-12.2-24-6.4-12-3.9-6.7-4-6.4-7.3-10.9-6.7-9.5z"/>
<path fill="#89ff76" d="M116.3 920l290 0 0 290-275.6 0 4.6-7.5 5.3-9.5 15.7-30.4 8.8-16.1 5.1-10.5 4.3-10 2.5-6.5 2-6.5 1.7-6 1.4-6.5 0.9-6 0.6-6 0.2-6-0.1-6-0.3-5-0.7-5.5-1-5.5-1.2-5.5-1.5-5.5-2-6-4.4-11.5-3.2-7-3.7-7.5-9.4-17.3-12.1-23.7-6.2-11.5-4.1-7-3.6-5.7-7.2-10.8-6.8-9.6z"/>
<path fill="#8dff72" d="M116.3 920l290 0 0 290-274.9 0 4.4-7.2 4.7-8.3 15.8-30.5 9.3-17 5.5-11 4.3-10 2.4-6.5 2.1-6.5 1.7-6.5 1.3-6 1-6.5 0.6-6 0.2-6-0.1-6-0.5-5.5-0.7-5.5-1-5.5-1.3-5.5-1.6-5.5-2-6-4.5-11.5-3.2-7-3.8-7.5-9.7-17.7-12.3-23.8-6.2-11.5-4-6.9-3.5-5.5-7.1-10.6-6.9-9.8z"/>
<path fill="#91ff6e" d="M116.3 920l290 0 0 290-274.1 0 4.1-6.9 4.3-7.6 15.7-30.1 10.2-18.4 5.4-11 4.3-10 2.5-6.5 2.1-6.5 1.7-6.5 1.3-6 1-6.5 0.6-6 0.2-6-0.2-6-0.4-5.5-0.7-5.5-1.1-5.5-1.3-5.5-1.5-5.5-2-6-2.3-6-2.7-6.5-3.3-7-3.5-7-10.3-18.6-12.7-24.4-6-11-7.3-12.1-7.4-10.9-6.6-9.4z"/>
<path fill="#95ff6a" d="M116.3 920l290 0 0 290-273.4 0 7.8-13.5 15.1-28.8 11.5-20.7 5.2-10.5 4.6-10.5 2.4-6.5 2.1-6.5 1.8-6.5 1.4-6.5 1-6.5 0.5-6 0.2-6-0.2-6-0.5-5.5-0.7-5.5-1.1-5.5-1.4-6-1.7-5.5-2-6-2.3-6-2.8-6.5-3.3-7-3.6-7-10.6-19-12.8-24.5-6.2-11.3-7-11.5-7.2-10.7-6.8-9.6z"/>
<path fill="#9f6" d="M116.3 920l290 0 0 290-272.6 0 6.9-12 15.2-28.9 12.4-22.1 5.4-11 4.4-10 2.6-7 2.1-6.5 1.7-6.5 1.3-6 0.9-6.5 0.6-6 0.2-6-0.2-6-0.5-5.5-0.7-5.5-1.1-5.5-1.5-6-1.7-6-2.1-6-2.4-6-2.8-6.5-3.3-7-3.6-7-11.2-19.8-12.9-24.7-6.1-11-7-11.5-14-20.3z"/>
<path fill="#9dff62" d="M116.3 920l290 0 0 290-271.9 0 7.7-13.5 14.2-27 8.1-14 4.6-8.5 5.5-11 4.6-10.5 2.5-7 2.1-6.5 1.7-6.5 1.3-6 0.9-6.5 0.5-6 0.2-6-0.2-6-0.5-5.5-0.9-6-1.1-5.5-1.5-6-1.9-6-2.1-6-2.4-6-2.9-6.5-7-14-11.5-20.2-13.3-25.3-5.8-10.5-6.9-11.2-14-20.3z"/>
<path fill="#a1ff5e" d="M116.3 920l290 0 0 290-271.2 0 7.1-12.5 14.1-26.6 8.7-14.9 4.6-8.5 5.8-11.5 4.5-10.5 2.6-7 2.1-6.5 1.7-6.5 1.3-6 0.9-6.5 0.5-6 0.2-6-0.2-6-0.5-5.5-0.9-6-1.1-5.5-1.5-6-1.9-6-2.3-6.5-2.6-6.5-2.9-6.5-6.9-13.5-12.1-21.1-13.5-25.4-6-10.9-6.9-11.1-13.6-19.7z"/>
<path fill="#a5ff5a" d="M116.3 920l290 0 0 290-270.4 0 6.4-11.5 14-26.2 9-15.3 5.2-9.5 5.6-11 4.7-11 2.7-7 2-6.5 1.7-6.5 1.3-6 0.9-6.5 0.6-6 0.1-6.5-0.2-6-0.6-5.5-0.9-6-1.2-6-1.6-6-1.9-6-2.4-6.5-2.7-6.5-2.9-6.5-7-13.5-12.4-21.5-13.6-25.5-5.9-10.6-6.7-10.9-13.8-19.9z"/>
<path fill="#a9ff56" d="M116.3 920l290 0 0 290-269.7 0 5.9-10.5 13.3-24.9 9.8-16.6 5.5-10 5.8-11.5 4.9-11 2.6-7 2-6.5 1.8-6.5 1.2-6 1-6.5 0.5-6 0.2-6.5-0.3-6-0.6-6-0.9-6-1.3-6-1.6-6-2-6-2.4-6.5-2.7-6.5-3.2-7-6.7-13-13.6-23.3-12.7-23.7-5.2-9.5-7.6-12.4-14-20.3z"/>
<path fill="#adff52" d="M116.3 920l290 0 0 290-269 0 5.3-9.5 13.2-24.6 10.4-17.4 5.8-10.5 5.9-11.5 4.8-11 2.6-7 2.1-6.5 1.7-6.5 1.3-6.5 1-6.5 0.5-6 0.1-6-0.3-6.5-0.6-6-1-6-1.3-6-1.7-6-2.1-6.5-2.4-6.5-2.8-6.5-3.3-7-6.5-12.5-14.2-24.1-13.3-24.9-5.6-10-6.6-10.6-14-20.3z"/>
<path fill="#b1ff4e" d="M116.4 920l289.9 0 0 290-268.3 0 17.8-32.7 10.7-17.8 6.2-11 6.1-12 4.8-11 2.6-7 2.1-6.5 1.8-6.5 1.3-6.5 0.9-6.5 0.5-6 0.2-6-0.3-6.5-0.6-6-1-6-1.4-6-1.8-6.5-2.1-6.5-2.5-6.5-3-7-3.4-7-3.8-7.5-4.5-8-13.3-22.4-13.2-24.6-6-10.5-6.6-10.5z"/>
<path fill="#b5ff4a" d="M117.3 920l289 0 0 290-267.5 0 17-31.3 11.3-18.7 6.5-11.5 6.1-12 4.8-11 2.7-7 2.1-6.5 1.7-6.5 1.4-6.5 0.9-6.5 0.5-6 0.1-6-0.2-6.5-0.7-6-1-6-1.3-6-1.7-6-2.1-6.5-2.5-6.5-3-7-3.3-7-4.1-8-4.5-8-14.2-23.8-13.1-24.2-5.9-10.5-6-9.6z"/>
<path fill="#b9ff46" d="M118.2 920l288.1 0 0 290-266.8 0 16.3-29.9 11.6-19.1 6.8-12 6.2-12 5.1-11.5 2.6-7 2.1-6.5 1.8-6.5 1.3-6.5 0.9-6 0.6-6.5 0.1-6-0.3-6.5-0.6-6-1-6-1.3-6-1.7-6-2.1-6.5-2.5-6.5-3-7-3.4-7-4.1-8-4.7-8.5-14.9-24.7-13.2-24.3-5.8-10.3-6-9.6z"/>
<path fill="#bdff42" d="M119.1 920l287.2 0 0 290-266.1 0 15.6-28.5 12.2-20 6.9-12 6.2-12 5.2-11.5 2.6-7 2.2-6.5 1.7-6.5 1.4-6.5 1-6.5 0.5-6 0.2-6-0.2-6.5-0.6-6-1-6-1.3-6-1.8-6.5-2.2-6.5-2.5-6.5-3-7-3.3-7-4.4-8.5-5.1-9-15.2-25.1-13.3-24.4-5.7-10-6-9.7z"/>
<path fill="#c1ff3e" d="M120 920l286.3 0 0 290-265.3 0 14.8-27.1 12.3-19.9 7.5-13 6.5-12.5 5.1-11.5 2.7-7 2.2-6.5 1.7-6.5 1.4-6.5 1-6.5 0.6-6 0.1-6-0.2-6.5-0.6-6-1-6-1.3-6-1.8-6.5-2-6-2.5-6.5-3-7-3.3-7-4.7-9-5.1-9-16.1-26.5-13.4-24.5-5.6-9.8-5.5-8.9z"/>
<path fill="#c5ff3a" d="M120.9 920l285.4 0 0 290-264.6 0 14.1-25.7 12.9-20.8 7.5-13 6.6-12.5 5.2-11.5 2.7-7 2.4-7 1.7-6.5 1.4-6.5 1-6.5 0.6-6 0.1-6-0.2-6.5-0.6-6-1-6-1.3-6-1.7-6-2.1-6.5-2.5-6.5-3-7-3.4-7-4.6-9-5.4-9.5-16.8-27.4-13.5-24.6-5.5-9.6-5.5-8.9z"/>
<path fill="#c9ff36" d="M121.9 920l284.4 0 0 290-263.9 0 13.9-25.2 12.7-20.3 7.9-13.5 6.6-12.5 5.5-12 2.7-7 2.4-7 1.8-6.5 1.4-6.5 1-6.5 0.5-6 0.2-6-0.3-6.5-0.6-6-1-6-1.3-6-1.7-6-2.1-6.5-2.5-6.5-3-7-3.4-7-5-9.5-5.6-10-17.2-27.8-13.6-24.7-5.4-9.5-5.5-8.8z"/>
<path fill="#cdff32" d="M122.8 920l283.5 0 0 290-263.1 0 13.1-23.7 13.1-20.8 8.2-14 6.9-13 5.5-12 2.7-7 2.4-7 1.8-6.5 1.4-6.5 1-6.5 0.6-6 0.1-6-0.2-6.5-0.7-6-0.9-6-1.4-6-1.6-6-2.2-6.5-2.5-6.5-3-7-3.4-7-5-9.5-6-10.5-17.8-28.7-13.7-24.8-5.3-9.3-5.1-8.2z"/>
<path fill="#d1ff2e" d="M123.7 920l282.6 0 0 290-262.4 0 12.4-22.3 13.4-21.2 8.3-14 7-13 5.8-12.5 2.8-7 2.4-7 1.8-6.5 1.5-6.5 1-6.5 0.6-6 0.2-6-0.2-6.5-0.6-6-1-6-1.3-6-1.8-6.5-2.2-6.5-2.5-6.5-2.8-6.5-3.3-7-5.3-10-6-10.5-5.8-9.5-9.5-14.8-3.5-5.8-13.8-24.9-5.2-9.1-5-8.1z"/>
<path fill="#d5ff2a" d="M124.6 920l281.7 0 0 290-261.6 0 11.6-20.9 13.8-21.6 8.9-15 7-13 5.8-12.5 2.8-7 2.4-7 1.9-6.5 1.4-6.5 1.1-6.5 0.6-6 0.2-6.5-0.3-6-0.6-6-0.9-6-1.3-6-1.7-6-2.2-6.5-2.4-6.5-3.1-7-3.3-7-5.3-10-6.6-11.5-19.2-30.5-19-34-5-8.1z"/>
<path fill="#d9ff26" d="M125.5 920l280.8 0 0 290-260.9 0 6.9-12.5 4.5-7.8 13.6-21.2 9.4-15.5 7.2-13.5 5.9-12.5 2.8-7 2.4-7 1.9-6.5 1.4-6.5 1.1-6.5 0.5-6 0.2-6.5-0.2-6-0.6-6-0.9-6-1.4-6-1.6-6-2-6-2.5-6.5-3-7-3.4-7-5.2-10-6-10.5-7.4-12-12.2-18.9-20-35.6-5-8.1z"/>
<path fill="#df2" d="M126.5 920l279.8 0 0 290-260.1 0 10.6-18.8 14.3-22.2 9.4-15.5 7.6-14 5.8-12.5 2.9-7 2.4-7 1.8-6.5 1.5-6.5 1.1-6.5 0.6-6 0.2-6.5-0.3-6-0.6-6-0.9-6-1.4-6-1.6-6-2-6-2.5-6.5-3.1-7-3.3-7-5.3-10-6-10.5-8-13-12.6-19.4-4.5-7.7-15.3-27.4-4.7-7.7z"/>
<path fill="#e1ff1e" d="M127.4 920l278.9 0 0 290-259.4 0 9.9-17.4 14.7-22.6 9.7-16 7.7-14 3.2-6.5 2.9-6.5 2.8-7 2.5-7 1.9-6.5 1.4-6.5 1.1-6.5 0.6-6 0.2-6-0.2-6.5-0.6-6-1-6-1.4-6-1.6-6-2.2-6.5-2.6-6.5-2.8-6.5-3.4-7-5-9.5-6-10.5-8.7-14-13.2-20.3-4.5-7.7-15-26.9-4.9-8.1z"/>
<path fill="#e5ff1a" d="M128.4 920l277.9 0 0 290-258.6 0 5.6-10 4-6.7 14.3-21.8 10.1-16.5 8-14.5 6.2-13 2.8-7 2.5-7 1.9-6.5 1.6-6.5 1.1-6.5 0.6-6.5 0.2-6-0.2-6.5-0.6-6-1-6-1.3-6-1.7-6-2.2-6.5-2.6-6.5-2.8-6.5-3.4-7-5-9.5-6.1-10.5-8.7-14-14.7-22.6-18.5-32.8-4.9-8.1z"/>
<path fill="#e9ff16" d="M129.3 920l277 0 0 290-257.8 0 8.8-15.3 15-22.7 10.1-16.5 8.1-14.5 3.5-7 3-6.5 2.9-7 2.5-7 1.9-6.5 1.5-6.5 1.1-6.5 0.6-6 0.3-6.5-0.2-6-0.6-6-0.9-6-1.4-6-1.6-6-2-6-2.5-6.5-3.1-7-3.4-7-5-9.5-6.3-11-9.4-15-15.1-23.1-4.5-7.7-14-25.1-4.5-7.4z"/>
<path fill="#edff12" d="M130.3 920l276 0 0 290-257 0 8-13.8 15.4-23.2 10.5-17 8.4-15 6.3-13 2.9-7 2.5-7 2-6.5 1.6-6.5 1.1-6.5 0.7-6.5 0.3-6.5-0.2-6-0.6-6-1-6-1.3-6-1.7-6-2.2-6.5-2.5-6.5-2.9-6.5-3.4-7-6.1-11.5-8-13.5-7.9-12.5-12.4-18.6-3-4.8-17.5-31z"/>
<path fill="#f1ff0e" d="M131.2 920l275.1 0 0 290-256.2 0 7.7-13.1 15.2-22.9 11-17.5 8.4-15 3.6-7 3-6.5 2.9-7 2.6-7 2-6.5 1.6-6.5 1.1-6.5 0.7-6.5 0.3-6.5-0.2-6-0.6-6-1-6-1.3-6-1.7-6-2.2-6.5-2.6-6.5-2.9-6.5-3.4-7-6.4-12-7.8-13-8.2-13-13.1-19.6-3-4.7-17-30.2z"/>
<path fill="#f5ff0a" d="M132.1 920l274.2 0 0 290-255.4 0 6.9-11.6 15.7-23.4 11-17.5 8.8-15.5 3.6-7 3.3-7 2.9-7 2.6-7 2.1-7 1.6-6.5 1.1-6.5 0.6-6 0.3-6.5-0.2-6-0.6-6-1-6-1.3-6-1.7-6-2.1-6-2.5-6.5-3.1-7-3.4-7-6.8-12.5-8.1-13.5-8.7-13.5-13.1-19.6-3-4.7-16.7-29.7z"/>
<path fill="#f9ff06" d="M133.1 920l273.2 0 0 290-254.5 0 6-10.1 16.4-24.4 11-17.5 8.9-15.5 3.9-7.5 3.1-6.5 3-7 2.6-7 2.2-7 1.6-6.5 1.2-6.5 0.7-6.5 0.2-6.5-0.2-6-0.6-6-1-6-1.3-6-1.7-6-2.1-6-2.5-6.5-3.2-7-3.4-7-6.5-12-8.4-14-8.7-13.5-14.2-21.1-3-4.7-4.5-7.7-12-21.5z"/>
<path fill="#fdff02" d="M134 920l272.3 0 0 290-253.7 0 5.7-9.3 16.3-24.2 11.5-18 5-8.5 4.5-8 3.6-7 3.3-7 3-7 2.6-7 2.2-7 1.5-6.5 1.2-6.5 0.6-6 0.3-6.5-0.2-6-0.6-5.5-0.9-6-1.4-6-1.7-6-2-6-2.5-6.5-3.1-7-3.5-7-7.1-13-8.4-14-9.1-14-14.6-21.6-3-4.7-4.5-7.7-11.7-21z"/>
<path fill="#fffd00" d="M134.9 920l271.4 0 0 290-252.8 0 4.8-7.8 16.7-24.7 11.6-18 5.1-8.5 4.5-8 3.9-7.5 3.4-7 3-7 2.7-7 2.2-7 1.6-6.5 1.2-6.5 0.7-6 0.3-6-0.2-6.5-0.6-6-0.9-6-1.4-6-1.7-6-2.2-6.5-2.6-6.5-3-6.5-3.4-7-7.1-13-8.5-14-9.4-14.5-15.4-22.6-3-4.8z"/>
<path fill="#fff900" d="M135.8 920l270.5 0 0 290-251.9 0 4.4-7 18.7-27.5 10.2-16 5.1-8.5 4.6-8 3.9-7.5 3.4-7 3.1-7 2.6-7 2.2-7 1.7-6.5 1.2-6.5 0.7-6 0.3-6.5-0.2-6-0.6-6-0.9-5.5-1.3-6-1.7-6-2.2-6.5-2.6-6.5-2.9-6.5-3.4-7-7.2-13-9.1-15-9.4-14.5-15.7-22.9-3.5-5.5z"/>
<path fill="#fff500" d="M136.7 920l269.6 0 0 290-251 0 3.5-5.5 18.8-27.5 10.9-17 5.5-9 4.6-8 3.9-7.5 3.4-7 3.1-7 2.7-7 2.2-7 1.7-6.5 1.2-6.5 0.7-6 0.3-6.5-0.2-6-0.6-6-0.9-6-1.4-6-1.8-6-2.2-6.5-2.6-6.5-3-6.5-3.5-7-7.2-13-9.2-15-9.8-15-16.1-23.5-3.5-5.4-4.5-7.7z"/>
<path fill="#fff100" d="M137.6 920l268.7 0 0 290-250 0 21.1-31 12-18.5 5.2-8.5 4.9-8.5 4-7.5 3.7-7.5 3.1-7 2.7-7 2.3-7 1.6-6.5 1.3-6.5 0.7-6 0.2-6-0.1-6.5-0.5-5.5-1-6-1.4-6-1.7-6-2.2-6.5-2.7-6.5-2.9-6.5-3.5-7-7.5-13.5-9.5-15.5-9.9-15-16.9-24.6-3.5-5.4-5-8.5z"/>
<path fill="#ffed00" d="M138.5 920l267.8 0 0 290-249 0 20.6-30 12.7-19.5 5.5-9 4.6-8 4.3-8 3.5-7 3.3-7.5 2.7-7 2.1-6.5 1.7-6.5 1.2-6.5 0.7-6 0.3-6.5-0.2-6-0.5-5.5-0.9-6-1.4-6-1.7-6-2.1-6-2.6-6.5-3.2-7-3.5-7-7.6-13.5-9.6-15.5-10.5-16-17.4-25.2-3-4.6-5-8.4z"/>
<path fill="#ffe900" d="M139.4 920l266.9 0 0 290-248 0 19.7-28.5 13.5-20.5 5.5-9 5-8.5 4.3-8 3.7-7.5 3.2-7 2.7-7 2.1-6.5 1.7-6.5 1.2-6.5 0.7-6.5 0.3-6-0.2-6.5-0.6-5.5-1-6-1.2-5.5-1.8-6-2.1-6-2.6-6.5-3.2-7-3.6-7-7.6-13.5-9.9-16-10.6-16-18.2-26.3-3-4.6-5.5-9.3z"/>
<path fill="#ffe500" d="M140.3 920l266 0 0 290-246.9 0 20.1-29 13.5-20.5 5.6-9 4.9-8.5 4.4-8 3.7-7.5 3.1-7 2.7-7 2.1-6.5 1.6-6 1.2-6.5 0.7-6.5 0.2-6.5-0.2-6-0.5-5.5-1-6-1.2-5.5-1.8-6-2.1-6-2.7-6.5-3.2-7-3.6-7-7.9-14-10-16-11-16.5-18.7-26.9-3-4.6-5.5-9.3z"/>
<path fill="#ffe100" d="M141.2 920l265.1 0 0 290-245.7 0 20.1-29 13.9-21 5.5-9 5-8.5 4.4-8 3.5-7 3.1-7 2.7-7 2.1-6.5 1.5-6 1.2-6.5 0.7-6.5 0.3-6.5-0.2-6-0.5-5.5-1-6-1.4-6-1.7-6-2.2-6-2.7-6.5-3-6.5-3.6-7-8-14-10.1-16-11.7-17.5-21.7-31.3-5.5-9.2z"/>
<path fill="#fd0" d="M142.1 920l264.2 0 0 290-244.6 0 20.9-30 13.5-20.5 5.6-9 5-8.5 4.4-8 3.5-7 3.1-7 2.6-6.5 2-6.5 1.5-6 1.2-6.5 0.7-6.5 0.3-6.5-0.2-6-0.6-5.5-0.9-6-1.4-6-1.7-6-2.2-6-2.5-6-3.3-7-3.6-7-8-14-10.5-16.5-11.5-17-22.8-32.9-5.5-9.2z"/>
<path fill="#ffd900" d="M143.1 920l263.2 0 0 290-243.4 0 20.6-29.5 13.9-21 5.7-9 5-8.5 4.4-8 3.7-7.5 3-6.5 2.5-6.5 2-6.5 1.6-6.5 1.2-6.5 0.6-6.5 0.2-6.5-0.2-6-0.5-5.5-1-6-1.4-6-1.8-6-1.9-5.5-2.5-6-3.4-7-3.6-7-8.1-14-10.5-16.5-11.9-17.5-23.7-34.1-5.5-9.1z"/>
<path fill="#ffd500" d="M144 920l262.3 0 0 290-242.2 0 21-30 14-21 5.9-9.5 5-8.5 4.2-7.5 3.7-7.5 2.9-6.5 2.5-6.5 2-6.5 1.4-6 1.2-6.5 0.6-6.5 0.2-6-0.2-6.5-0.6-5.5-0.9-6-1.4-6-1.8-6-2.1-6-2.5-6-3.1-6.5-3.4-6.5-8.2-14-10.9-17-12.5-18.5-23.8-33.9-5.5-9.1z"/>
<path fill="#ffd100" d="M144.9 920l261.4 0 0 290-241 0 21.4-30.5 13.7-20.5 5.7-9 5-8.5 4.5-8 3.6-7 2.9-6.5 2.4-6.5 2-6.5 1.6-6.5 1.1-6.5 0.7-6.5 0.2-6.5-0.2-6-0.6-5.5-0.9-6-1.4-6-1.7-6-2.2-6-2.5-6-2.6-5.5-3.6-7-8.5-14.5-11-17-12.3-18-25.3-36.1-5-8.3z"/>
<path fill="#ffcd00" d="M145.9 920l260.4 0 0 290-239.8 0 21.4-30.5 14.2-21 10.5-17 4.5-8 3.3-6.5 2.9-6.5 2.5-6.5 2-6.5 1.6-6.5 1.2-6.5 0.7-6.5 0.2-6.5-0.2-6.5-0.6-5.5-0.9-6-1.4-6-1.7-6-2.1-6-2.5-6-2.8-6-3.2-6-8.5-14.5-11-17-13-19-25.8-36.6-5-8.1z"/>
<path fill="#ffc900" d="M146.8 920l259.5 0 0 290-238.6 0 21.9-31 13.8-20.5 10.6-17 4.3-7.5 3.3-6.5 3.2-7 2.4-6.5 2.1-6.5 1.6-6.5 1.2-7 0.6-6.5 0.2-6.5-0.2-6.5-0.6-5.5-1-6-1.4-6-1.7-6-2-5.5-2.4-6-2.8-6-3.2-6-8.6-14.5-11.1-17-13.4-19.5-26.7-37.8-4.5-7.3z"/>
<path fill="#ffc500" d="M147.8 920l258.5 0 0 290-237.3 0 21.9-31 13.9-20.5 5.8-9 5.2-8.5 3.7-6.5 3.4-6.5 3.1-7 2.5-6.5 2.2-7 1.6-6.5 1.2-7 0.6-6.5 0.2-6.5-0.2-6.5-0.6-5.5-1-6-1.4-6-1.7-6-2.1-6-2.5-6-2.8-6-3.2-6-8.7-14.5-11.1-17-12.9-18.5-28.3-40-4.5-7.3z"/>
<path fill="#ffc100" d="M148.8 920l257.5 0 0 290-236.1 0 22.4-31.5 14-20.5 5.8-9 5.3-8.5 3.4-6 3-6 3.2-7 2.5-6.5 2.2-7 1.6-6.5 1.2-7 0.7-6.5 0.2-7-0.2-6.5-0.6-6-1.1-6-1.3-6-1.8-6-2.1-6-2.5-6-2.8-6-3.5-6.5-8.2-13.5-11.6-17.5-12.9-18.5-28.8-40.5-4.5-7.2z"/>
<path fill="#ffbd00" d="M149.7 920l256.6 0 0 290-234.8 0 23.5-33 13.7-20 10.5-16.5 3.4-6 3-6 3.2-7 2.6-7 2.2-7 1.5-6.5 1.2-7 0.7-6.5 0.2-6.5-0.3-6.5-0.6-6-1-6-1.4-6-1.7-6-2.2-6-2.6-6.5-2.9-6-3.4-6.5-8-13-11-16.5-12.6-18-31.2-43.8-4-6.3z"/>
<path fill="#ffb900" d="M150.8 920l255.5 0 0 290-233.5 0 23.6-33 14.2-20.5 9.6-15 3.6-6.4 3.1-6.1 3.2-7 2.6-7 2.2-7 1.7-7 1.2-7 0.6-6.5 0.2-7-0.3-6.5-0.6-6-1.1-6-1.4-6-1.9-6.5-2.2-6-2.7-6.5-2.9-6-3.5-6.5-6.1-10-9.3-14-13.9-20-33.4-46.6-4-6.2z"/>
<path fill="#ffb500" d="M151.8 920l254.5 0 0 290-232.1 0 24.7-34.5 14.2-20.5 8.7-13.5 3.3-6 3.1-6 3.2-7 2.6-7 2.2-7 1.7-7 1.3-7 0.7-7 0.1-7-0.2-6.5-0.7-6-1.1-6.5-1.4-6-2-6.5-2.2-6-2.7-6.5-3.1-6.5-3.6-6.5-5.5-9-9.4-14-13-18.5-35.8-50-3.5-5.3z"/>
<path fill="#ffb100" d="M152.9 920l253.4 0 0 290-230.8 0 25.6-35.5 13.9-20 4.3-6.5 3.7-6 3.4-6 3.1-6 3.4-7.5 2.6-7 2.2-7 1.7-7 1.2-7 0.7-7 0.2-6.5-0.3-7-0.6-6-1.2-6.5-1.4-6-1.9-6.5-2.4-6.5-2.7-6.5-3.2-6.5-3.5-6.5-5.5-9-8.8-13-12.4-17.5-37.8-52.6-3.5-5.2z"/>
<path fill="#ffad00" d="M154 920l252.3 0 0 290-229.4 0 26.7-37 14-20 7.3-11.5 5.9-11 3.4-7.5 2.6-7 2.3-7 1.7-7 1.2-7 0.7-7 0.3-7-0.3-7-0.7-6-1.1-6.5-1.5-6.5-2-6.5-2.3-6.5-2.8-6.5-3.2-6.5-3.8-7-5.5-9-8.2-12-51.8-71.9z"/>
<path fill="#ffa900" d="M155.1 920l251.2 0 0 290-228.1 0 27.3-37.5 13.5-19 7.2-11.5 3.4-6 2.7-5.5 3.4-7.5 2.7-7 2.3-7.5 1.7-7 1.1-7 0.7-7 0.2-7-0.3-7-0.7-6.5-1.2-6.5-1.6-6.5-2-6.5-2.4-6.5-2.8-6.5-3.2-6.5-3.9-7-5.5-9-7.3-10.5-54.7-75.8z"/>
<path fill="#ffa500" d="M156.3 920l250 0 0 290-226.6 0 27.8-38 12.3-17.3 3.8-5.7 3.7-6.1 3.3-5.9 3.1-6 3.3-7.5 2.7-7 2.3-7.5 1.7-7 1.3-7.5 0.7-7 0.2-7-0.3-7-0.8-6.5-1.1-6.5-1.6-6.5-2-6.5-2.4-6.5-3-7-3.2-6.5-3.9-7-5.2-8.5-5.8-8.5-45.8-62.9-11.5-16.1z"/>
<path fill="#ffa100" d="M157.5 920l248.8 0 0 290-225.2 0 29.4-40 10.1-14 4.2-6.3 3.8-6.2 3.3-6 3.1-6 3.4-7.5 2.8-7.5 2.4-7.5 1.6-7 1.3-7.5 0.7-7 0.2-7-0.3-7-0.8-6.5-1.1-6.5-1.6-6.5-2.1-7-2.5-6.5-3-7-3.4-7-3.9-7-5-8-5.4-8-42.5-57.9z"/>
<path fill="#ff9d00" d="M158.9 920l247.4 0 0 290-223.8 0 31.5-42.5 7.6-10.5 4.2-6.3 3.8-6.2 3.7-6.5 3-6 3.4-7.5 2.9-7.5 2.3-7.5 1.8-7 1.3-7.5 0.7-7 0.2-7.5-0.3-7-0.8-6.5-1.1-6.5-1.6-6.5-2.1-7-2.6-7-3.1-7-3.4-7-3.9-7-5.2-8.5-5.9-8.5-38.1-51.6z"/>
<path fill="#f90" d="M160.2 920l246.1 0 0 290-222.3 0 33.6-45 5-7 4.3-6.5 4-6.5 3.7-6.5 3.3-6.5 3.4-7.5 2.8-7.5 2.4-7.5 1.8-7.5 1.2-7.5 0.7-7 0.2-7.5-0.4-7-0.7-6.5-1.3-7-1.6-6.5-2.2-7-2.7-7-3-7-3.5-7-3.9-7-5.3-8.5-6-8.7-36-48.3z"/>
<path fill="#ff9500" d="M161.7 920l244.6 0 0 290-220.8 0 33.1-44 5-7 4.7-7 4-6.5 3.7-6.5 3.3-6.5 3.3-7.5 2.9-7.5 2.4-7.5 1.8-7.5 1.3-7.5 0.7-7.5 0.2-7.5-0.3-7-0.8-6.5-1.3-7-1.6-6.5-2.2-7-2.6-7-3-7-3.5-7-4.2-7.5-5.6-9-6.2-9-34.8-46.3z"/>
<path fill="#ff9100" d="M163.1 920l243.2 0 0 290-219.2 0 31.8-42 5.8-8 4.6-6.9 4.1-6.6 3.9-6.9 3.3-6.6 3.6-8 2.9-7.5 2.3-7.5 1.9-7.5 1.2-7.5 0.8-7.5 0.1-7.5-0.3-7-0.8-6.5-1.2-7-1.8-7-2.2-7-2.6-7-3.3-7.5-3.5-7-4.2-7.5-5.7-9.1-6.5-9.3-33.5-44.3z"/>
<path fill="#ff8d00" d="M164.6 920l241.7 0 0 290-217.7 0 31-40.5 6.1-8.5 4.7-7 4.4-7 3.9-7 3.3-6.5 3.6-8 2.9-7.5 2.4-7.5 1.8-7.5 1.3-7.5 0.8-7.5 0.2-7.5-0.4-7.5-0.8-7-1.3-7-1.7-7-2.3-7-2.6-7-3.3-7.5-3.6-7-4.1-7.5-6-9.5-6.6-9.5-33-43.3z"/>
<path fill="#ff8900" d="M166.1 920l240.2 0 0 290-216.1 0 30-39 6.6-9 5-7.4 4.4-7.1 3.9-7 3.6-7 3.5-8 2.9-7.5 2.3-7.5 1.9-7.5 1.3-7.5 0.7-7.5 0.2-7.5-0.3-7.5-0.8-7-1.3-7-1.8-7-2.2-7-2.6-7-3.3-7.5-3.8-7.5-4.2-7.5-6.2-10-7-10-32.2-41.9-12.5-16.8z"/>
<path fill="#ff8500" d="M167.6 920l238.7 0 0 290-214.5 0 13-16.9 15.7-20.1 7.3-9.9 5-7.4 4.5-7.2 4.2-7.5 3.6-7 3.6-8 2.8-7.5 2.5-8 1.9-7.5 1.3-7.5 0.7-7.5 0.2-7.5-0.3-7.5-0.8-7-1.3-7-1.8-7-2.3-7.5-2.7-7-3.3-7.5-3.8-7.5-4.2-7.5-6.3-10.2-7.2-10.3-31.8-41.1-12.5-16.7z"/>
<path fill="#ff8100" d="M169.2 920l237.1 0 0 290-212.8 0 12.3-15.9 15.5-19.6 7.5-10.2 5.2-7.8 4.7-7.5 4.2-7.5 3.6-7 3.6-8 3-8 2.5-8 1.9-7.5 1.2-7.5 0.8-7.5 0.2-7.5-0.3-7.5-0.8-7-1.3-7-1.8-7-2.3-7.5-2.9-7.5-3.3-7.5-3.8-7.5-4.4-8-6.6-10.5-7.4-10.5-31.5-40.5-12-15.9z"/>
<path fill="#ff7e00" d="M170.8 920l235.5 0 0 290-211.1 0 11.6-14.9 15-18.9 8.3-11.2 5.4-8 4.6-7.5 4.3-7.5 3.8-7.5 3.5-8 3.1-8 2.5-8 1.8-7.5 1.3-8 0.7-7.5 0.2-7.5-0.4-7.5-0.8-7-1.3-7-1.8-7-2.4-7.5-2.8-7.5-3.4-7.5-3.7-7.5-4.5-8-6.9-11-7.8-11-30.7-39.2-12-15.9z"/>
<path fill="#ff7a00" d="M172.4 920l233.9 0 0 290-209.4 0 25.4-32 8.9-12 5.4-8 5-8 4.2-7.5 3.8-7.5 3.6-8 3.1-8 2.5-8 1.9-8 1.3-8 0.7-7.5 0.2-7.5-0.4-7.5-0.8-7-1.4-7.5-1.8-7-2.4-7.5-2.9-7.5-3.3-7.5-4.1-8-4.5-8-7.2-11.5-8.2-11.5-30.1-38.1-12-15.9z"/>
<path fill="#ff7600" d="M174 920l232.3 0 0 290-207.6 0 24.1-30.1 9.6-12.9 5.7-8.5 4.9-8 4.5-8 3.8-7.5 3.6-8 3-8 2.5-8 1.9-8 1.4-8 0.7-7.5 0.1-7.5-0.3-7.5-0.9-7-1.4-7.5-1.9-7.5-2.4-7.5-2.9-7.5-3.4-7.5-4-8-4.5-8-7.6-12-8.4-11.9-5.1-6.6-13.9-17.1-11-14-11.5-15.1z"/>
<path fill="#ff7200" d="M175.7 920l230.6 0 0 290-205.8 0 23-28.5 5.3-7 5-6.9 5.8-8.6 4.9-8 4.5-8 4.1-8 3.5-8 3-8 2.5-8 1.9-8 1.3-8 0.7-7.5 0.2-7.5-0.4-7.5-0.8-7-1.4-7.5-1.9-7.5-2.4-7.5-2.9-7.5-3.6-8-4-8-4.5-8-7.9-12.5-8.9-12.5-5.7-7.3-13-15.9-10.5-13.3-11.5-15z"/>
<path fill="#ff6e00" d="M177.4 920l228.9 0 0 290-204 0 22-27 5.5-7.2 5.3-7.3 5.7-8.5 5.2-8.5 4.5-8 4.1-8 3.5-8 3-8 2.5-8 2-8 1.3-8 0.8-7.5 0.2-8-0.4-7.5-0.8-7-1.4-7.5-1.9-7.5-2.4-7.5-2.9-7.5-3.6-8-4-8-4.8-8.5-8.2-13-9.2-13-6-7.7-13-15.8-10.5-13.2-10.5-13.7z"/>
<path fill="#ff6a00" d="M179.1 920l227.2 0 0 290-202.1 0 20.6-25.1 6-7.8 5.5-7.6 6-9 5.3-8.5 4.7-8.5 4-8 3.7-8.5 3-8 2.5-8 1.8-7.5 1.3-8 0.7-7.5 0.2-8-0.3-7.5-0.9-7.5-1.5-7.5-1.9-7.5-2.4-7.5-2.9-7.5-3.5-8-4.1-8-4.8-8.5-8.5-13.5-9.6-13.5-6.6-8.5-12.7-15.3-10-12.5-10.5-13.6z"/>
<path fill="#f60" d="M180.9 920l225.4 0 0 290-200.1 0 19.6-23.8 6.3-8.2 5.7-8 6.1-9 5.2-8.5 4.7-8.5 4.3-8.5 3.7-8.5 2.9-8 2.5-8 1.9-8 1.3-8 0.7-7.5 0.1-8-0.4-7.5-0.9-7.5-1.5-7.5-1.9-7.5-2.4-7.5-3.2-8-3.6-8-4-8-4.8-8.5-8.7-13.7-10-14-6.9-8.8-12.6-15.2-9.5-11.7-10-12.9z"/>
<path fill="#ff6200" d="M182.7 920l223.6 0 0 290-198.1 0 18.6-22.5 6.5-8.5 6.1-8.5 6-9 5.5-9 4.7-8.5 4.3-8.5 3.6-8.5 3-8 2.4-8 1.9-8 1.3-8 0.7-7.5 0.2-8-0.4-7.5-1-7.5-1.4-7.5-2-7.5-2.6-8-3.1-8-3.6-8-4.1-8-4.8-8.5-4.3-7-4.9-7.5-10.4-14.5-7.1-9.1-12.5-14.9-9-11.1-9.5-12.2z"/>
<path fill="#ff5e00" d="M184.6 920l221.7 0 0 290-196.1 0 17.6-21.1 6.8-8.9 6.4-9 6-9 5.5-9 5-9 4.2-8.5 3.6-8.5 3-8 2.4-8 1.9-8 1.3-8 0.6-7.5 0.2-8-0.4-7.5-0.9-7.5-1.5-7.5-1.9-7.5-2.6-8-3.1-8-3.6-8-4.3-8.5-4.8-8.5-4.6-7.5-5-7.5-5.2-7.5-5.5-7.5-7.5-9.5-13-15.5-8.5-10.5z"/>
<path fill="#ff5a00" d="M186.4 920l219.9 0 0 290-193.9 0 10.1-12 6.9-8.5 7.2-9.5 6.4-9 5.9-9 5.5-9 4.9-9 4.2-8.5 3.6-8.5 3-8 2.4-8 1.8-8 1.3-8 0.7-7.5 0.2-8-0.4-7.5-1-7.5-1.4-7.5-1.9-7.5-2.6-8-3.1-8-3.8-8.5-4.4-8.5-4.8-8.5-4.6-7.5-5.2-8-5.5-7.9-5.6-7.6-7.9-10-21-25.3z"/>
<path fill="#ff5600" d="M188.4 920l217.9 0 0 290-191.8 0 9-10.5 7.3-9.1 7.1-9.4 6.7-9.5 6.3-9.5 5.4-9 4.9-9 4.1-8.5 3.7-8.5 2.9-8 2.4-8 1.8-8 1.3-8 0.7-7.5 0.2-8-0.4-7.5-1-7.5-1.5-8-2-7.5-2.6-8-3.1-8-3.9-8.5-4.3-8.5-4.8-8.5-4.9-8-5.2-8-5.8-8.3-6-8.1-8.3-10.6-20.7-24.7z"/>
<path fill="#ff5200" d="M190.3 920l216 0 0 290-189.5 0 8.5-10 7.5-9.4 7.2-9.6 6.7-9.5 6.1-9.5 5.4-9 4.9-9 4.1-8.5 3.6-8.5 3.1-8.5 2.3-8 1.9-8 1.2-8 0.7-7.5 0.1-8-0.5-7.5-0.9-7.5-1.6-8-2-7.5-2.6-8-3.2-8-3.8-8.5-4.4-8.5-4.8-8.5-4.9-8-5.5-8.5-6-8.5-6.2-8.5-8.9-11.3-20-23.8z"/>
<path fill="#ff4e00" d="M192.4 920l213.9 0 0 290-187.2 0 8.2-9.8 7.7-9.7 7.3-9.8 6.7-9.7 6.1-9.5 5.3-9 4.9-9 4-8.5 3.6-8.5 2.8-8 2.4-8 1.8-8 1.3-8 0.6-7.5 0.1-8-0.4-7.5-1-7.5-1.5-8-2-7.5-2.7-8-3.1-8-3.8-8.5-4.4-8.5-5-9-5.2-8.5-5.6-8.5-6.3-9-6.3-8.5-9.3-11.9-20-23.7z"/>
<path fill="#ff4a00" d="M194.4 920l211.9 0 0 290-184.8 0 8.2-10 7.6-9.7 7.2-9.8 6.6-9.5 6-9.5 5.3-9 4.8-9 4-8.5 3.6-8.5 2.8-8 2.4-8 1.8-8 1.2-8 0.7-7.5 0.1-8-0.4-7.5-1-7.5-1.4-7.5-2.1-8-2.7-8-3.3-8.5-3.9-8.5-4.3-8.5-5.1-9-5.2-8.5-5.9-9-6.2-9-7-9.5-9-11.4-18-21.2z"/>
<path fill="#ff4600" d="M196.6 920l209.7 0 0 290-182.5 0 8.2-10 7.7-10 7.1-9.7 6.5-9.6 5.8-9.2 5.6-9.5 4.7-9 4-8.5 3.5-8.5 2.8-8 2.3-8 1.8-8 1.2-8 0.6-7.5 0.1-7.5-0.4-7.5-1-7.5-1.6-8-1.9-7.5-2.7-8-3.1-8-3.8-8.5-4.6-9-5-9-5.5-9-5.9-9-6.6-9.5-6.9-9.5-10.2-13-17.7-20.8z"/>
<path fill="#ff4200" d="M198.8 920l207.5 0 0 290-180.1 0 8.1-10 7.6-10 7.2-10 6.4-9.5 6-9.5 5.2-9 4.7-9 4.2-9 3.5-8.5 2.7-8 2.3-8 1.7-8 1.2-8 0.6-7.5 0-7.5-0.4-7.5-1-7.5-1.6-8-2-7.5-2.7-8-3.2-8-3.8-8.5-4.6-9-5-9-5.5-9-6.2-9.5-6.9-10-7.4-10-11-14-16.5-19.4z"/>
<path fill="#ff3e00" d="M201 920l205.3 0 0 290-177.7 0 8-10 7.6-10 7.1-10 6.3-9.5 6-9.5 5.4-9.5 4.7-9 3.9-8.5 3.4-8.5 2.8-8 2.3-8 1.7-8 1.2-8 0.6-7.5 0-7.5-0.5-7.5-0.9-7.5-1.7-8-2.1-8-2.7-8-3.2-8-3.8-8.5-4.6-9-5.1-9-5.8-9.5-6.2-9.5-6.9-10-7.7-10.5-11.8-15-15.8-18.5z"/>
<path fill="#ff3a00" d="M203.3 920l203 0 0 290-175.3 0 8.3-10.5 7.5-10 7-10 6.3-9.5 5.8-9.5 5.2-9 4.6-9 3.9-8.5 3.5-8.5 2.7-8 2.3-8 1.7-8 1.2-8 0.6-7.5 0-7.5-0.4-7.5-1-7.5-1.6-8-2.1-7.5-2.6-8-3.4-8.5-3.8-8.5-4.6-9-5-9-5.8-9.5-6.5-10-7.2-10.5-7.8-10.6-13-16.6-15-17.5z"/>
<path fill="#ff3600" d="M205.7 920l200.6 0 0 290-172.9 0 8.2-10.5 7.4-10 7-10 6.3-9.5 5.8-9.5 5.3-9.5 4.6-9 3.9-8.5 3.4-8.5 2.8-8 2.2-8 1.6-7.5 1.2-8 0.5-7.5 0.1-7.5-0.5-7.5-1-7.5-1.6-8-2-7.5-2.7-8-3.1-8-3.8-8.5-4.6-9-5-9-6-10-6.8-10.5-7.3-10.6-7.9-10.9-7.1-9.3-7-8.8z"/>
<path fill="#ff3200" d="M208.2 920l198.1 0 0 290-170.5 0 8-10.3 7.5-10.2 7-10 6.5-10 5.7-9.5 5-9 4.6-9 4.1-9 3.4-8.5 2.7-8 2.2-8 1.6-7.5 1.1-7.5 0.5-7.5 0.1-7.5-0.5-7.5-1-7.5-1.6-8-2-7.5-2.7-8-3.1-8-3.9-8.5-4.5-9-5-9-6-10-6.7-10.5-7.5-10.9-8-11.1-8-10.6-7.5-9.4z"/>
<path fill="#ff2e00" d="M210.8 920l195.5 0 0 290-168 0 8-10.4 7.3-10.1 6.9-10 6.5-10 5.7-9.5 5.3-9.5 4.5-9 3.9-8.5 3.2-8 2.7-8 2.2-8 1.6-7.5 1.2-7.5 0.6-7.5 0.1-7.5-0.5-7.5-0.9-7.5-1.5-7.5-2-7.5-2.6-8-3.3-8.5-3.8-8.5-4.5-9-5-9-5.9-10-7.1-11-7.4-11-8.3-11.5-8.4-11.2-8-10.2z"/>
<path fill="#ff2a00" d="M213.4 920l192.9 0 0 290-165.5 0 8-10.5 7.2-10 6.8-10 6.4-10 5.7-9.5 5-9 4.6-9 4.1-9 3.2-8 2.7-8 2.2-8 1.7-7.5 1.1-7.5 0.6-7.5 0.1-7.5-0.5-7.5-0.9-7.5-1.5-7.5-2-7.5-2.6-8-3.1-8-3.8-8.5-4.5-9-4.9-9-5.9-10-7-11-7.7-11.4-8.3-11.6-8.9-12-8.8-11.3-5.5-6.6z"/>
<path fill="#ff2600" d="M216.2 920l190.1 0 0 290-163 0 7.9-10.5 7.5-10.5 6.7-10 6.4-10 5.7-9.5 5.2-9.5 4.5-9 3.8-8.5 3.2-8 2.7-8 2.2-8 1.6-7.5 1.1-7.5 0.6-7.5 0-7.5-0.4-7-1-7.5-1.4-7.5-2-7.5-2.5-7.5-3.1-8-3.8-8.5-4.2-8.5-5.1-9.5-5.9-10-7-11-7.3-11-8.5-12-9.2-12.5-9.2-12-6.5-8z"/>
<path fill="#f20" d="M219.1 920l187.2 0 0 290-160.5 0 7.9-10.5 7.4-10.5 6.7-10 6.3-10 5.9-10 5.2-9.5 4.5-9 3.8-8.5 3.2-8 2.7-8 2.1-7.5 1.5-7.5 1.1-7.5 0.6-7.5 0.1-7.5-0.5-7-0.8-7-1.5-7.5-2-7.5-2.6-8-2.9-7.5-3.8-8.5-4.2-8.5-4.9-9-5.8-10-6.5-10.5-7.3-11-8.3-12-9.4-12.9-9.5-12.5-8-10z"/>
<path fill="#ff1e00" d="M222 920l184.3 0 0 290-157.9 0 7.7-10.5 7.4-10.5 6.7-10 6.3-10 5.6-9.5 5.5-10 4.5-9 3.8-8.5 3.2-8 2.7-8 2-7.5 1.6-7.5 1.1-7.5 0.6-7 0.1-7.5-0.4-7-0.9-7-1.4-7.5-1.9-7.5-2.5-7.5-3-8-3.6-8-3.9-8-4.8-9-5.8-10-6.5-10.5-7.5-11.5-7.9-11.5-9.3-12.9-9.5-12.8-9-11.5z"/>
<path fill="#ff1a00" d="M224.9 920l181.4 0 0 290-155.3 0 7.7-10.5 7.3-10.5 6.9-10.5 6.3-10 5.9-10 5.1-9.5 4.5-9 3.9-8.5 3.1-8 2.5-7.5 2.1-7.5 1.6-7.5 1.1-7.5 0.6-7 0.1-7.5-0.4-7-0.9-7-1.3-7-1.9-7.5-2.3-7-2.8-7.5-3.5-8-4.1-8.5-4.6-8.5-5.7-10-6.4-10.5-7.1-11-7.8-11.5-9.1-12.8-9.7-13.2-9.3-12.2z"/>
<path fill="#ff1600" d="M227.8 920l178.5 0 0 290-152.6 0 7.5-10.5 7.3-10.5 6.9-10.5 6.2-10 5.9-10 5.2-9.5 4.5-9 3.9-8.5 3.1-8 2.6-7.5 2.1-7.5 1.6-7.5 1.1-7.5 0.6-7 0.1-7-0.4-7-0.8-7-1.3-7-1.8-7-2.4-7.5-2.8-7.5-3.3-7.5-3.8-8-4.5-8.5-5.7-10-6.4-10.5-7.1-11-7.7-11.5-9-12.9-9.5-13.1-9.5-12.6z"/>
<path fill="#ff1200" d="M230.6 920l175.7 0 0 290-150 0 7.9-11 7.5-11 6.9-10.5 6.5-10.5 5.8-10 4.9-9 4.2-8.5 3.9-8.5 3.1-8 2.6-7.5 2.1-7.5 1.5-7 1-7 0.7-7.5 0.1-7-0.4-7-0.8-6.5-1.3-7-1.7-7-2.2-7-2.8-7.5-3.3-7.5-3.8-8-4.5-8.5-5.7-10-6.4-10.5-7-11-7.7-11.5-9-13-9.3-13-9.8-13.2z"/>
<path fill="#ff0e00" d="M233.5 920l172.8 0 0 290-147.3 0 7.9-11 7.4-11 6.8-10.5 6.8-11 5.6-9.5 5.2-9.5 4.2-8.5 3.7-8 3.2-8 2.5-7.5 2.1-7.5 1.6-7 1.1-7.5 0.6-7 0.1-7-0.4-7-0.8-6.5-1.2-6.5-1.8-7-2.2-7-2.8-7.5-3.2-7.5-3.9-8-4.2-8-5.4-9.5-6.4-10.5-7.3-11.5-7.7-11.5-18.2-26.1z"/>
<path fill="#ff0a00" d="M236.3 920l170 0 0 290-144.5 0 7.8-11 7.4-11 7.4-11.5 7.1-11.5 5.6-9.5 4.6-8.5 4.2-8.5 3.7-8 3.2-8 2.6-7.5 2.1-7.5 1.5-7 1.1-7 0.6-7 0.1-7-0.4-6.5-0.7-6.5-1.3-6.5-1.7-7-2.2-7-2.7-7-3.2-7.5-3.6-7.5-4.5-8.5-4.9-8.5-6-10-8-12.5-7.5-11.5-18.3-26.3z"/>
<path fill="#ff0600" d="M239.2 920l167.1 0 0 290-141.7 0 8-11.5 7.1-10.5 8.4-13 6.5-10.5 5.5-9.5 4.9-9 4.1-8 3.6-8 3.2-8 2.6-7.5 2-7 1.6-7 1.1-7 0.6-7 0.1-7-0.3-6.5-0.8-6.5-1.3-6.5-1.7-6.5-2.2-7-2.7-7-3-7-3.6-7.5-4.3-8-5.1-9-5.8-9.5-16.2-25-17.9-26z"/>
<path fill="#ff0200" d="M242 920l164.3 0 0 290-138.8 0 7.9-11.5 7.7-11.5 8.4-13 6.5-10.5 5.6-9.5 4.7-8.5 4.3-8.5 3.4-7.5 3.1-7.5 2.6-7.5 2.1-7 1.6-7 1.2-7 0.6-6.5 0.1-7-0.3-6.5-0.8-6.5-1.2-6-1.6-6.5-2.3-7-2.7-7-3-7-3.7-7.5-4.3-8-4.8-8.5-6.1-10-16.3-25-17.9-26z"/>
<path fill="#fd0000" d="M244.9 920l161.4 0 0 290-135.9 0 8.2-12 9-13.5 7.5-11.5 6.5-10.5 5.3-9 4.7-8.5 4.4-8.5 3.5-7.5 3.1-7.5 2.7-7.5 2.1-7 1.7-7 1.1-6.5 0.6-6.5 0.2-6.5-0.3-6.5-0.8-6-1.2-6.5-1.6-6-2.1-6.5-2.5-6.5-3-7-3.7-7.5-4.3-8-4.5-8-5.5-9-14-21.5-19.4-28.5z"/>
<path fill="#f90000" d="M247.7 920l158.6 0 0 290-133 0 18.6-27.5 13.1-20.5 5.4-9 4.8-8.5 4.4-8.5 3.6-7.5 3.2-7.5 2.8-7.5 2.2-7 1.6-6.5 1.1-6.5 0.7-6.5 0.2-6.5-0.3-6-0.7-6-1.2-6-1.6-6-2.2-6.5-2.5-6.5-3.1-7-3.8-7.5-4.1-7.5-8.9-15-12-18.5-22.4-33z"/>
<path fill="#f50000" d="M250.6 920l155.7 0 0 290-129.9 0 19.6-29 12.9-20 5.7-9.5 4.9-8.5 4.5-8.5 3.6-7.5 3.3-7.5 2.7-7 2.3-7 1.7-6.5 1.1-6 0.7-6 0.2-6-0.3-6-0.7-5.5-1.2-6-1.7-6-2.1-6-2.6-6.5-3-6.5-3.5-7-4.4-8-8.5-14-11.1-17-25.9-38z"/>
<path fill="#f10000" d="M253.5 920l152.8 0 0 290-126.8 0 21.1-31 13-20 5.8-9.5 5.2-9 4.4-8 4-8 3.4-7.5 2.7-6.5 2-6 1.5-5.5 1.1-6 0.7-6 0.2-6-0.3-6-0.7-5.5-1-5-1.4-5-1.7-5-2.6-6-3.3-7-3.6-7-4.5-8-8.3-13.5-10.5-16z"/>
<path fill="#ed0000" d="M256.4 920l149.9 0 0 290-123.6 0 22.4-32.5 13.8-21 6.6-10.5 5.6-9.5 5.1-9 4.2-8 2.5-5.5 2.1-5.5 1.7-5.5 1.4-6 0.8-5.5 0.6-6 0.1-5.5-0.3-5.5-0.7-5-1-5-1.3-5-1.7-5-1.9-4.5-2.1-4.5-7.1-12.5-8.5-13.5-10.6-16-30.1-43.1z"/>
<path fill="#e90000" d="M259.4 920l146.9 0 0 290-120.3 0 22.7-32.5 13.9-20.5 17.2-26.5 4.8-8.5 2.6-5.5 2.4-6 1.9-6 1.4-6 1.1-6 0.6-6 0.1-6-0.3-6-0.5-4.5-0.9-4.5-1.1-4.5-1.4-4.5-1.7-4.5-1.9-4.5-2.3-4.5-2.6-4.5-17-25-38.2-53.7z"/>
<path fill="#e50000" d="M262.4 920l143.9 0 0 290-116.9 0 51.9-73 3.9-6 3.7-6.5 2.9-6 2.6-6.5 2.2-6.5 1.5-6 1.1-6 0.7-6.5 0.1-6.5-0.3-6-0.6-5-0.8-4.5-1.3-5-1.5-4.5-1.9-5-2.1-4.5-2.6-5-2.7-4.5-4.8-7-18.6-24.7-29.5-40.1-11-15.6z"/>
<path fill="#e10000" d="M265.4 920l140.9 0 0 290-113.2 0 31.7-43.5 8-10.6 11.7-14.9 4.7-7 4.4-7.5 3.2-6.5 2.7-6.5 2.3-6.5 1.7-6.5 1.2-6.5 0.8-6.5 0.2-6.5-0.3-6.5-0.6-5-0.9-4.5-1.3-5-1.7-5-2-5-2.3-5-2.7-5-3.1-5-3-4.5-3.4-4.5-10.6-12.7-8-10-12-15.5-12.5-16.6-16.5-22.8z"/>
<path fill="#d00" d="M268.4 920l137.9 0 0 290-109.4 0 14.9-20.2 13-17 8-10 10.2-11.8 4.8-6 5.6-8 5.1-8.5 3.6-7 3-7 2.5-7 1.9-6.5 1.4-7 0.7-6.5 0.3-6.5-0.4-6.5-0.6-5-1.1-5-1.4-5-1.7-5-2.1-5-2.7-5.5-2.8-5-3.5-5.5-3.9-5.5-4.2-5.5-4.7-5.4-9-9.8-6-7-9.5-11.7-11-14-10-13.3-9-12.4z"/>
<path fill="#d90000" d="M271.5 920l134.8 0 0 290-105.4 0 13.9-18.3 11.5-14.5 8-9.3 11-11.9 5.5-6.5 6.9-9.5 6.3-10 4-7.5 3.2-7 2.7-7 2.2-7 1.6-7 0.8-6.5 0.3-6.5-0.3-6.5-0.7-5-1.1-5-1.5-5-2-5.5-2.5-5.5-2.9-5.5-3.3-5.5-3.6-5.5-5.1-7-5.8-7-5.2-5.8-9-9.1-6.5-7-8.5-9.9-9.5-11.7-10.5-13.6-10-13.4-8-11.4z"/>
<path fill="#d50000" d="M274.6 920l131.7 0 0 290-101.1 0 12.1-15.5 10.5-12.6 7.5-8.2 11.1-11.2 7.5-8.5 4.4-5.5 4-5.5 3.8-5.5 3.9-6 4.6-8 4-8 3.3-7.5 2.5-7 1.7-6.5 1.1-6.5 0.3-6-0.2-6-0.7-4.5-1.3-5-1.6-5-2.3-5.5-2.8-5.5-3.4-6-3.7-6-4.2-6-6.5-8.5-7.3-8.5-7.1-7.5-10.1-9.6-5.5-5.6-7.5-8.3-8.5-10-10.5-13.1-10.5-13.9-9-12.5z"/>
<path fill="#d10000" d="M277.8 920l128.5 0 0 154.7-1-0.3-1-0.6-2.5-2.8-13.3-19.5-6.9-9.5-8-10.5-8.4-10-6.7-7.5-7.3-7.5-6.3-6-9.1-8.2-6-5.9-8-8.7-8.5-9.9-9.5-11.7-9-11.8-8.5-11.8zM406.3 1088.7l0 121.3-96.5 0 10-12.3 8.5-9.8 7-7.3 9.2-8.6 5.9-6 6.8-7.5 6.7-8 8.3-11 8.3-12 7.6-12 13.7-22.7 2.5-3.1 1-0.8z"/>
<path fill="#cd0000" d="M281 920l125.3 0 0 128.8-3-0.4-3.5-1.3-4-2.5-4-3.2-7-6.7-17.7-18.7-10-10-9.6-9-12.2-10.6-7.5-7.3-5.5-5.8-6-6.8-12-14.5-12-15.8zM406.3 1119.3l0 90.7-91.4 0 8.4-9.9 8-8.6 5-4.9 12.4-11.1 10.3-10.5 9.4-10.5 17.4-20.7 6-6.5 4.5-4 3.5-2.4 2-0.9 1.5-0.5z"/>
<path fill="#c90000" d="M284.3 920l122 0 0 116.1-4-0.5-2-0.5-2.5-1-4.5-2.5-5.5-3.9-8.5-7.3-25.7-23.9-7.5-6.5-9.3-7.6-5.5-5-5.5-5.5-5.5-5.8-12-14-12.5-16zM406.3 1135.5l0 74.5-85.9 0 6.9-7.5 6-6 4-3.6 10.5-8.9 9-8.5 7.5-7.5 16.5-17.1 7.5-7.1 5.5-4.2 4.5-2.6 2-0.8 2-0.5 2-0.2z"/>
<path fill="#c50000" d="M287.7 920l118.6 0 0 106.2-4.5-0.5-2.5-0.7-2.5-0.9-5-2.5-6-3.9-9-7-24-20.7-15.5-12.5-4-3.5-5-4.7-5.5-5.6-5.5-5.9-6-6.9-12-15zM406.3 1148.9l0 61.1-79.5 0 8.5-8.1 10.9-8.9 7.5-6.5 24.1-22.4 5-4.4 4-3.3 5.5-3.7 5-2.5 2.5-0.8 2-0.4 2.5-0.2z"/>
<path fill="#c10000" d="M291.2 920l115.1 0 0 97.7-2.5-0.1-2.5-0.4-5-1.5-5.5-2.6-6-3.6-5-3.5-6-4.6-22.7-18.4-16.3-12.9-5-4.5-5-4.8-5.5-5.8-5.5-6.1-11.5-14zM406.3 1161l0 49-71.8 0 17.6-14 25.2-21.8 8.5-6.5 6-3.6 5-2.2 2.5-0.6 2.5-0.4 2.5-0.1z"/>
<path fill="#bd0000" d="M294.8 920l111.5 0 0 90.1-5-0.5-5.5-1.5-5.5-2.4-6.5-3.7-5.5-3.7-7-5.1-35-27.1-4.5-3.8-5-4.6-5-5.1-5.5-5.9-11-13zM406.3 1172.5l0 37.5-61.7 0 9.2-7.2 21-17.1 6-4.4 5-3.3 6-3.2 5-1.8 2.5-0.6 2.5-0.2 2.5 0z"/>
<path fill="#b90000" d="M298.6 920l107.7 0 0 83.2-5.5-0.6-5.5-1.6-6-2.5-6.5-3.6-6-3.8-7-5-32-24-4.5-3.6-4.5-4.1-5-4.8-5-5.2-10-11.4zM406.3 1183.6l0 26.4-50.7 0 19.7-15.1 6-4.1 5.5-3.2 5.5-2.5 5-1.4 4.5-0.5z"/>
<path fill="#b50000" d="M302.5 920l103.8 0 0 76.8-5.5-0.7-5.5-1.5-6-2.4-7-3.7-6.5-4-7.5-5.2-29.5-21.6-4-3.1-4.5-3.9-9-8.7-9.5-10.5zM406.3 1194.7l0 15.3-38.7 0 6.7-4.8 6-3.8 5-2.8 4.5-2 4.5-1.5 4-0.8 4-0.1z"/>
<path fill="#b10000" d="M306.5 920l99.8 0 0 70.7-4-0.4-4.5-1-4.5-1.5-5-2.1-5-2.5-6-3.5-6-3.9-7.5-5.2-25.5-18.5-7.5-6.1-6-5.6-6-6.2-6-6.7zM406.3 1205.9l0 4.1-23.1 0 6.6-2.8 3-1 3-0.6 3-0.4 2.5 0 2.5 0.2z"/>
<path fill="#ad0000" d="M310.8 920l95.5 0 0 64.9-4-0.4-4.5-1-4.5-1.4-4.5-1.9-5-2.4-5-2.8-12-7.6-27.5-19.7-6.5-5.1-5.5-4.9-5.5-5.5-5.5-5.9z"/>
<path fill="#a90000" d="M315.3 920l91 0 0 59.4-4-0.5-4-0.9-4-1.2-4.5-1.7-4.5-2.1-5-2.6-11-6.7-15-10.3-15-10.8-4.5-3.5-4.5-3.8-5-4.7-5-5.1z"/>
<path fill="#a50000" d="M320 920l86.3 0 0 54.1-3.5-0.5-4-0.8-4-1.2-4-1.5-4.5-1.9-4.5-2.3-10-5.8-14-9.4-21-15.1-8.3-7.1z"/>
<path fill="#a10000" d="M325.1 920l81.2 0 0 49-3.5-0.5-4-0.9-7.5-2.5-8-3.6-9-5-7-4.4-7.5-5.1-20.5-14.6-7-5.7z"/>
<path fill="#9d0000" d="M330.5 920l75.8 0 0 44-7-1.3-7-2.3-7.5-3.2-8.5-4.6-10.5-6.5-12.5-8.6-15-11z"/>
<path fill="#900" d="M336.5 920l69.8 0 0 39.2-6.5-1.3-6.5-2-7-3-8-4.1-8.5-5.1-9.5-6.3-12-8.5z"/>
<path fill="#950000" d="M343.1 920l63.2 0 0 34.5-6-1.2-6.5-2.1-7-2.9-7-3.6-7.5-4.3-8.5-5.5-9.5-6.6z"/>
<path fill="#910000" d="M349.7 920l56.6 0 0 30-5.5-1.2-6-1.9-6.5-2.7-6.5-3.2-7-3.9-7.5-4.7-8.5-5.8z"/>
<path fill="#8d0000" d="M356.3 920l50 0 0 25.5-5.5-1.2-5.5-1.8-5.5-2.2-6-2.9-6-3.3-6.5-3.9-7-4.6z"/>
<path fill="#890000" d="M363 920l43.3 0 0 21.2-4.5-1.1-5-1.6-5-1.9-5.5-2.5-5.5-2.9-5.5-3.2z"/>
<path fill="#850000" d="M369.9 920l36.4 0 0 16.9-4-1-4.5-1.4-8.5-3.5-9.5-4.9z"/>
<path fill="#810000" d="M377.1 920l29.2 0 0 12.8-7-2.1-7-2.7-7.5-3.6z"/>
<path fill="#800000" d="M384.7 920l21.6 0 0 8.7-5-1.5-5.5-2-5.5-2.4z"/>
<path fill="#800000" d="M393.3 920l13 0 0 4.7-6.5-2.1z"/>
</g>
<rect x="116.3" y="920" width="290" height="290" fill="none" stroke="#262626" stroke-width="1"/>
<path d="M188.8 920v3M188.8 1210v-3M261.3 920v3M261.3 1210v-3M333.8 920v3M333.8 1210v-3M116.3 1065h3M406.3 1065h-3" stroke="#262626" stroke-width="1" fill="none"/>
<text x="116.3" y="1245.6" font-size="30.5" text-anchor="middle">1.25</text>
<text x="188.8" y="1245.6" font-size="30.5" text-anchor="middle">1.75</text>
<text x="261.3" y="1245.6" font-size="30.5" text-anchor="middle">2.25</text>
<text x="333.8" y="1245.6" font-size="30.5" text-anchor="middle">2.75</text>
<text x="406.3" y="1245.6" font-size="30.5" text-anchor="middle">3.25</text>
<text x="107.3" y="931.9" font-size="30.5" text-anchor="end">77.8</text>
<text x="107.3" y="1076.9" font-size="30.5" text-anchor="end">75.8</text>
<text x="107.3" y="1221.9" font-size="30.5" text-anchor="end">73.8</text>
<text x="233.8" y="893" font-size="35.5" font-style="italic">N<tspan font-size="28" dx="-0.8" dy="16.6">x/s</tspan></text>
<text x="248.3" y="1284.7" font-size="35.0" font-style="italic">α<tspan font-size="28" dx="1" dy="15.5">t</tspan></text>
<text transform="translate(29 1131.5) rotate(-90)" font-size="33.5"><tspan font-style="italic">θ</tspan><tspan font-size="24" font-style="italic" dy="11" dx="0">i</tspan><tspan dy="-11" dx="-0.5">(degree)</tspan></text>
<rect x="440.6" y="920" width="14.5" height="290" fill="url(#jet)" stroke="#262626" stroke-width="1"/>
<text x="461.7" y="952.5" font-size="27.5">-2</text>
<text x="461.7" y="996.8" font-size="27.5">-4</text>
<text x="461.7" y="1041.7" font-size="27.5">-6</text>
<text x="461.7" y="1086" font-size="27.5">-8</text>
<text x="461.7" y="1130.6" font-size="27.5">-10</text>
<text x="461.7" y="1175.7" font-size="27.5">-12</text>
<path d="M455.1 942.1h-3M455.1 986.4h-3M455.1 1031.3h-3M455.1 1075.6h-3M455.1 1120.2h-3M455.1 1165.3h-3" stroke="#262626" stroke-width="1" fill="none"/>
<text x="458.2" y="1246.2" font-size="27.5"><tspan font-size="38" dy="5" dx="-2">×</tspan><tspan dy="-5" dx="-1.5">10</tspan><tspan font-size="21.5" dy="-13.8" dx="2">-3</tspan></text>
<g class="w" font-size="29.1">
<text x="133.5" y="1182.7">Δ</text>
<text x="153.8" y="1182.7" font-style="italic">ϕ</text>
<text x="175.4" y="1182.7" font-size="32.0" dy="1.3">=</text>
<text x="200.1" y="1182.7">90</text>
<text x="229.4" y="1182.7" font-size="17.7" dy="-8.3">°</text>
<text x="240.6" y="1182.7">;</text>
<text x="251.3" y="1182.7" font-style="italic">α</text>
<text x="278.5" y="1182.7" font-size="32.0" dy="1.3">=</text>
<text x="301.9" y="1182.7">5</text>
<text x="317.4" y="1182.7" font-size="17.7" dy="-8.3">°</text>
</g>
<text x="357.3" y="1192.8" font-size="40" class="w">(c)</text>
</g>
<g id="pd">
<g clip-path="url(#cd)">
<rect x="710.2" y="49" width="290" height="290" fill="#00009f"/>
<path fill="#0000af" d="M710.2 49l290 0 0 290-290 0 0-139.5 4.1-0.5 0.9-0.5-0.6-0.5-2.2-0.5-2.2-0.2z"/>
<path fill="#0000bf" d="M710.2 49l290 0 0 290-290 0 0-138.5 5.7-0.5 3.2-0.5 1.7-0.5 0.4-0.5-0.8-0.5-1.7-0.5-4-0.7-4.5-0.4z"/>
<path fill="#0000cf" d="M710.2 49l290 0 0 290-290 0 0-137.8 11.8-1.2 1.9-0.5 0.8-0.5 0.1-0.5-0.7-0.5-1.3-0.5-2.1-0.5-6.5-0.9-4-0.4z"/>
<path fill="#0000df" d="M710.2 49l290 0 0 290-290 0 0-137.2 13.2-1.3 2.3-0.5 1.3-0.5 0.6-0.5-0.1-0.5-0.7-0.5-2.9-1-5.7-1-8-0.9z"/>
<path fill="#0000ef" d="M710.2 49l290 0 0 290-290 0 0-136.7 14-1.3 4.5-1 1.1-0.5 0.4-0.5-0.2-0.5-0.8-0.5-2.8-1-2-0.5-6.2-1-8-0.9z"/>
<path fill="#00f" d="M710.2 49l290 0 0 290-290 0 0-136.2 11.5-1 5.5-0.8 4.2-1 1-0.5 0.2-0.5-0.3-0.5-2-1-4.1-1.1-5.5-1-10.5-1.3z"/>
<path fill="#0010ff" d="M710.2 49l290 0 0 290-290 0 0-135.7 12-1.1 6-0.8 5.5-1.2 1.2-0.7 0.1-0.5-0.4-0.5-2.2-1-5.7-1.5-6-1.1-10.5-1.2z"/>
<path fill="#0020ff" d="M710.2 49l290 0 0 290-290 0 0-135.2 13.4-1.3 7.2-1 4.9-1.1 0.9-0.4 0.6-0.5 0-0.5-0.4-0.5-2.2-1-5.9-1.5-7.5-1.4-11-1.4z"/>
<path fill="#0030ff" d="M710.2 49l290 0 0 290-290 0 0-134.7 14-1.4 9-1.3 4.8-1.1 1-0.5 0.4-0.5-0.1-0.5-1.4-1-2.9-1-4.1-1-8.7-1.7-12-1.5z"/>
<path fill="#0040ff" d="M710.2 49l290 0 0 290-290 0 0-134.3 15-1.5 9.5-1.3 5-1.2 1.4-0.7 0.3-0.5-0.2-0.5-1.4-1-2.9-1-4-1-10.2-2-12.5-1.7z"/>
<path fill="#0050ff" d="M710.2 49l290 0 0 290-290 0 0-133.8 16-1.7 10.8-1.5 4.2-1 1.5-0.7 0.4-0.3 0.2-0.5-0.2-0.5-1.5-1-2.8-1-3.9-1-11.2-2.2-13.5-1.9z"/>
<path fill="#0060ff" d="M710.2 49l290 0 0 290-290 0 0-133.2 17.5-2.1 11-1.5 4.8-1.2 1.2-0.7 0.3-0.3 0.2-0.5-0.3-0.5-1.6-1-2.7-1-4.4-1.2-12.5-2.4-13.5-2z"/>
<path fill="#0070ff" d="M710.2 49l290 0 0 290-290 0 0-132.7 20-2.4 9.6-1.4 3.4-0.7 2.4-0.8 0.8-0.5 0.5-0.5 0-0.5-1-1-2.1-1-6.6-1.9-12.5-2.5-14.5-2.2z"/>
<path fill="#0080ff" d="M710.2 49l290 0 0 290-290 0 0-132.2 30.5-4 5.7-1.3 1.3-0.6 0.9-0.9-0.1-0.5-0.3-0.5-1.6-1-2.6-1-4.3-1.2-14.5-3-15-2.3z"/>
<path fill="#008fff" d="M710.2 49l290 0 0 290-290 0 0-131.6 26.5-3.5 5.8-0.9 3.7-0.8 2.1-0.7 1-0.5 0.6-0.5 0.2-0.5-0.1-0.5-0.3-0.5-1.5-1-2.5-1-5-1.4-15.5-3.2-15-2.5z"/>
<path fill="#009fff" d="M710.2 49l290 0 0 290-290 0 0-131 27.5-3.8 6.5-1 3.1-0.7 2.4-0.8 1.2-0.7 0.5-0.5 0.2-0.5-0.5-1-1.4-1-2.5-1-5-1.5-15.5-3.3-16.5-2.8z"/>
<path fill="#00afff" d="M710.2 49l290 0 0 290-290 0 0-130.3 7.3-1.2 21.2-2.9 7-1.2 3-0.7 2.1-0.7 1.7-1 0.4-0.5 0.1-0.5-0.5-1-2.3-1.4-2.8-1.1-3.7-1.1-7-1.6-9.5-2-17-3z"/>
<path fill="#00bfff" d="M710.2 49l290 0 0 290-290 0 0-129.6 8.2-1.4 22.3-3.2 6.5-1.2 3-0.7 2.3-0.9 1.5-1 0.4-1-0.6-1-2.3-1.5-2.8-1.1-4-1.2-15.5-3.5-19-3.5z"/>
<path fill="#00cfff" d="M710.2 49l290 0 0 290-290 0 0-128.8 9-1.7 22-3.3 7-1.2 3.5-1 2.4-1 1.3-1 0.4-1-0.6-1-2.3-1.5-3.2-1.3-3.5-1.1-12-2.8-24-4.8z"/>
<path fill="#00dfff" d="M710.2 49l290 0 0 290-290 0 0-128 8-1.6 24-3.8 7-1.3 4-1.2 2.5-1.1 1.2-1 0.3-1-0.7-1-2.2-1.5-3.6-1.5-4-1.3-12.5-3-24-4.9z"/>
<path fill="#00efff" d="M710.2 49l290 0 0 290-290 0 0-127.1 9.4-1.9 23.1-3.8 7-1.4 4-1.2 2.8-1.1 1.5-1 0.6-1 0-0.5-0.7-1-1.7-1.2-3.5-1.6-4.5-1.6-11.5-2.9-26.5-5.7z"/>
<path fill="#0ff" d="M710.2 49l290 0 0 290-290 0 0-126 11.4-2.5 22.1-3.9 6.5-1.3 4-1.1 3.1-1.2 1.9-1.1 0.8-0.9 0.1-0.5 0-0.5-0.7-1-2.2-1.5-4-1.8-4.5-1.5-11.5-3-27-6.1z"/>
<path fill="#10ffef" d="M710.2 49l290 0 0 290-290 0 0-124.8 11.4-2.7 23.1-4.3 6.5-1.5 4.5-1.3 3.5-1.4 2-1.4 0.5-0.6 0.1-0.5-0.1-0.5-0.8-1-2.2-1.5-4-1.8-5.5-2-11-2.9-28-6.7z"/>
<path fill="#20ffdf" d="M710.2 49l290 0 0 290-290 0 0-123.4 12-3.1 24-4.8 6-1.5 5-1.6 4-1.6 1.5-1 0.5-0.6 0.3-0.9-0.1-0.5-0.8-1-2.3-1.5-4.6-2.1-6-2.2-10.5-3-29-7.2z"/>
<path fill="#30ffcf" d="M710.2 49l290 0 0 290-290 0 0-121.8 5.7-1.7 7.8-2 23.5-5.2 7.5-2 5-1.7 3.5-1.6 1.4-1 0.4-0.5 0.2-1-0.1-0.5-0.8-1-2.2-1.5-4.9-2.3-6.5-2.5-10-2.9-30.5-8.2z"/>
<path fill="#40ffbf" d="M710.2 49l290 0 0 290-290 0 0-119.8 6.8-2.2 7.1-2 23.6-5.7 7-2.1 6-2 3.5-1.5 1.8-1.2 0.7-0.8 0.3-0.7-0.1-0.5-0.4-1-1-1-1.5-1-4.8-2.3-7.5-3-9-2.9-32.5-9.3z"/>
<path fill="#50ffaf" d="M710.2 49l290 0 0 290-290 0 0-117.2 6.2-2.3 6.1-2 8.5-2.5 17.7-4.7 12-4 3.5-1.4 2.7-1.4 1.3-1.2 0.6-1.3-0.2-1-0.7-1-2.7-2-3.5-1.7-8.5-3.6-8.5-3-34.5-10.8z"/>
<path fill="#60ff9f" d="M710.2 49l290 0 0 290-290 0 0-113.8 6.4-2.7 6.7-2.5 9-3 15.9-4.9 15-5.5 3.5-1.5 2.5-1.6 1.4-1.5 0.2-1-0.2-1-0.7-1-2.7-2.1-4-2.1-9-4-9-3.5-22.8-7.8-12.2-4.4z"/>
<path fill="#70ff8f" d="M710.2 49l290 0 0 290-290 0 0-108.8 6.4-3.2 7.9-3.5 7.6-3 15.6-5.7 17.5-7.4 3.5-1.8 2.5-1.6 1.4-1.5 0.5-1.5-0.6-1.5-2.1-2-3.2-2.1-4-2.1-16.5-7.6-23.6-9.2-12.9-5.4z"/>
<path fill="#80ff80" d="M710.2 49l290 0 0 290-290 0 0-100.4 7.3-4.6 7.2-4 7.9-4 15.1-7.1 19.5-10.2 4-2.4 2.6-1.8 1.5-1.5 0.6-1.5-0.3-1.5-1.7-2-3.7-2.7-5.5-3.4-17-9.2-23.7-11.2-13.8-7.1z"/>
<path fill="#8fff70" d="M710.2 49l290 0 0 290-290 0 0-81.2 7.4-6.8 7.9-6.5 6.6-5 14.6-10.4 11.9-9.6 13.2-10 4.9-3.5 1.1-1 0.9-1.1 0.6-1.4 0.1-1-0.4-2-1.5-2-11.3-8.8-19.5-14.4-16.4-10.8-7.9-5.5-12.2-9.3z"/>
<path fill="#9fff60" d="M1000.2 87.5l0 251.5-113.3 0-6.7-1.9-7-2.4-7.5-3-9-3.9-6-3-5.5-3-5.5-3.4-5.5-3.8-5.5-4.2-5.5-4.9-3-3-3.5-4.1-4-5.5-4-6.1-4-7-3.5-6.7-2.5-5.6-2.7-7-3-9-3.3-10.8-2.7-11.7-3.1-17-0.5-4-0.4-4 0-4 0.3-3.5 0.6-4.5 1.5-7 2.8-11.2 1.5-4.6 2.5-6.4 5-11.7 3.5-6.6 5.5-8.1 6-7.6 3-3.3 3-2.9 5-4 8.5-5.4 9.5-4.9 10-4.2 11.5-3.9 13.5-3.9 8.5-1.9 7.5-1.2 16.5-2.1 15.5-1.4 10-0.6 32-1.1 18-0.4z"/>
<path fill="#afff50" d="M1000.2 245.2l-31-0.3-35-0.7-16-0.5-17.5-1-14.5-1-14-1.5-17-2.4-14-2.6-12.5-2.9-9.5-3-4-1.5-4.5-2.1-4.5-2.4-4.5-2.7-3-2.1-3-2.6-3-3-3-3.5-1.6-2.4-1.2-2.5-0.5-2 0.1-2 0.5-1.5 1.2-2.1 1.5-1.9 1.5-1.5 2.5-2.1 2.5-1.8 5-2.9 7.5-2.9 8.5-2.5 7-1.4 10.5-1.6 10.5-1.1 12-1.1 19-1.2 13.5-0.6 39.5-0.8 71-0.3z"/>
<path fill="#bfff40" d="M1000.2 233.6l-30-0.2-32.5-0.5-17-0.4-16.5-0.7-17-0.9-12.5-1-16-1.7-14-1.9-12-2.1-11-2.4-8-2.4-8-3.2-6.5-3.3-3-2-2.5-2.1-2-2.1-1.2-1.7-0.9-2-0.1-1.5 0.3-1 0.8-1.5 1.1-1.3 1.5-1.4 4-2.6 4.5-1.9 7-2.1 7-1.6 6.5-1 11.5-1.2 23-1.6 32-1.2 39-0.5 72.5-0.1z"/>
<path fill="#cfff30" d="M1000.2 228.2l-55.5-0.5-19.5-0.4-18-0.6-17.5-0.8-11.5-0.8-16-1.4-14.5-1.6-13-1.9-11.5-2.1-7.5-1.8-8-2.6-7-3-2.5-1.4-2-1.4-2-1.8-1.3-1.6-0.6-1.5-0.1-1.5 0.3-1 0.7-1 1-1 1.5-1.2 4-2 4.5-1.5 6.5-1.6 6.5-1.1 6.5-0.8 11-0.9 22-1.2 32-0.9 39-0.3 72.5-0.1z"/>
<path fill="#dfff20" d="M794.5 202l0.3-1 0.6-1 2.3-1.8 3-1.4 5-1.5 5.5-1.2 6.5-1 7-0.8 9.5-0.6 21.5-1 32.5-0.8 38.5-0.2 73.5-0.1 0 35.2-53-0.4-36.5-0.8-30-1.4-13.5-1-16-1.5-12-1.5-12-1.9-8-1.5-7.5-2-7.5-2.7-3-1.3-2.5-1.4-2-1.4-1.4-1.5-0.7-1.5z"/>
<path fill="#efff10" d="M796.7 202l0.8-1.5 2.2-1.6 3.5-1.4 5-1.3 5.5-1 6.5-0.9 16-1.1 21.5-0.8 30.5-0.7 38-0.1 74-0.1 0 31-51-0.4-39-0.8-28.5-1.2-13.5-1-16-1.4-12.5-1.4-11-1.6-8.5-1.5-7.5-1.8-7.5-2.5-5-2.3-1.5-1.1-1.1-1-0.8-1.5z"/>
<path fill="#ff0" d="M1000.2 220.8l-51.5-0.4-36.5-0.7-31-1.3-27-2-11.5-1.2-11-1.4-9.5-1.6-7-1.5-7-2.1-5.2-2.1-1.8-1-1.2-1-0.8-1-0.3-1 0.3-1 0.3-0.5 1.2-0.9 1-0.6 3.5-1.3 4.5-1.1 5.5-0.9 6-0.8 16.5-1 19.5-0.7 30.5-0.5 112.5-0.2z"/>
<path fill="#ffef00" d="M801.3 202.5l0.4-1 0.5-0.5 1.7-1 3.3-1.2 5-1.1 5-0.8 5.5-0.6 17-1 19-0.5 29.5-0.5 112-0.1 0 25.2-47.5-0.3-40-0.8-29-1.1-27-1.8-12-1.2-11-1.3-10-1.5-6-1.2-7-1.9-5-1.9-3.3-1.9-0.9-1z"/>
<path fill="#ffdf00" d="M803.8 202.5l0.6-1 2.3-1.3 3-1 4.5-0.9 9.5-1.2 17.5-0.9 18-0.5 29-0.5 112-0.1 0 23.1-48-0.3-36.5-0.6-30-1-25-1.7-11.5-1-12-1.3-10.5-1.4-7-1.3-7-1.7-5.2-1.9-1.8-1-1.3-1-0.6-1z"/>
<path fill="#ffcf00" d="M806.3 202.5l0.8-1 1.9-1 3.5-1 4.2-0.8 10.5-1.1 17-0.8 22.5-0.5 22-0.3 111.5 0 0 21.3-48.5-0.3-36-0.6-30.5-1.1-24-1.5-22.5-2.1-10.5-1.4-8-1.4-6.5-1.7-4.5-1.7-2.4-1.5-0.5-1z"/>
<path fill="#ffbf00" d="M808.8 203l0.1-0.5 0.3-0.5 1.7-1 3.3-1 3.5-0.7 10.5-1 15.5-0.8 18-0.4 26.5-0.4 112 0 0 19.8-42-0.3-38.5-0.6-31-0.9-23-1.4-24-2.1-10.5-1.3-8-1.3-5.5-1.1-4.8-1.5-3-1.5-1-1z"/>
<path fill="#ffaf00" d="M811.3 203l0.2-0.5 0.5-0.5 1.7-0.8 2.5-0.8 4-0.7 11-1 15.5-0.6 42.5-0.7 111-0.1 0 18.4-45-0.2-35.5-0.6-31-0.9-20.5-1.2-24.5-2-9.5-1.2-8.5-1.3-6-1.2-4.5-1.3-2.8-1.3-1-1z"/>
<path fill="#ff9f00" d="M813.9 203l0.8-0.8 1.3-0.7 2.7-0.7 4-0.7 11.5-0.9 16-0.7 39.5-0.6 110.5 0 0 17.2-42-0.3-37-0.5-31.5-0.9-19.5-1.1-24.5-2-9.5-1.1-8-1.1-6.5-1.3-4.6-1.3-1.9-0.9-0.9-0.6-0.3-0.5z"/>
<path fill="#ff8f00" d="M816.7 203.5l0.1-0.5 0.4-0.5 0.9-0.5 2.6-0.8 3.5-0.5 11-1 16-0.7 38.5-0.6 110.5 0 0 16.1-38.5-0.2-37-0.5-27-0.7-22-1-24-1.8-18-2-7-1.2-5.1-1.1-3.4-1.2-1.2-0.8z"/>
<path fill="#ff8000" d="M819.6 203.5l0.2-0.5 0.7-0.5 1.2-0.5 6-1.1 11-0.8 16.5-0.7 35-0.5 110 0 0 15.1-38-0.2-36.5-0.5-26.5-0.7-22-0.9-24-1.8-17.2-1.9-7.3-1.2-5.5-1.3-2.6-1-0.7-0.5z"/>
<path fill="#ff7000" d="M822.9 203.5l0.3-0.5 2.5-0.9 6.5-1 11-0.7 15.5-0.6 32.5-0.4 109 0 0 14.1-37.5-0.2-36.5-0.5-26-0.7-22-0.9-22.5-1.6-17.5-1.9-7.5-1.2-4.2-1-2.7-1-0.7-0.5z"/>
<path fill="#ff6000" d="M826.6 203.5l0.6-0.5 2-0.6 7.5-1.1 11.5-0.7 17-0.5 40-0.3 95 0 0 13.2-37.5-0.2-36-0.4-25.5-0.7-21.5-0.9-22.5-1.5-16.4-1.8-6.3-1-4.6-1-2.7-1-0.6-0.5z"/>
<path fill="#ff5000" d="M830.3 204l0.2-0.5 1.7-0.7 2.5-0.5 4-0.5 11.5-0.8 16.5-0.5 18-0.3 115.5 0 0 12.4-37-0.2-35-0.5-24-0.5-20.5-0.8-21.5-1.4-17-1.7-6.9-1-4.1-0.9-2.2-0.6-1.1-0.5z"/>
<path fill="#ff4000" d="M1000.2 212.2l-70-0.6-22.5-0.5-23-0.9-19-1.2-16.5-1.5-6.9-1-4.9-1-2.7-1-0.4-0.5 0.4-0.5 1.4-0.5 2.6-0.5 4.5-0.5 11-0.6 18-0.6 42-0.3 86 0z"/>
<path fill="#ff3000" d="M838.6 204l0.8-0.5 1.9-0.5 7.4-0.8 11-0.6 17-0.4 41.5-0.3 82 0 0 10.9-70-0.6-22.5-0.5-22-0.9-19.5-1.2-16.1-1.6-8.7-1.5-1.7-0.5-0.9-0.5z"/>
<path fill="#ff2000" d="M843.2 204.5l0.1-0.5 1.2-0.5 2.8-0.5 4.4-0.4 10-0.6 16-0.5 41-0.3 81.5 0.1 0 10.1-69-0.6-21.5-0.5-20.5-0.7-17.5-1-15-1.4-8.8-1.2-3.9-1z"/>
<path fill="#ff1000" d="M848 204.5l0.4-0.5 1.9-0.5 4.9-0.6 11-0.6 15-0.4 40-0.3 79 0 0 9.4-68.5-0.6-21-0.4-20-0.7-16-0.9-15-1.4-5.5-0.7-4.1-0.8-1.5-0.5z"/>
<path fill="#f00" d="M853.2 204.5l1-0.5 2.5-0.4 6-0.6 10.1-0.5 11.9-0.3 38.5-0.3 77 0 0 8.8-67-0.6-20-0.4-19.5-0.7-16-0.9-12.9-1.1-7.4-1-2.4-0.5-1.4-0.5z"/>
<path fill="#ef0000" d="M859 205l0.1-0.5 1.7-0.5 4-0.5 8.4-0.5 13-0.4 37.5-0.3 76.5 0 0 8-62.5-0.5-36-0.9-15.5-0.7-12-0.8-11.6-1.4-2.3-0.5z"/>
<path fill="#df0000" d="M864.9 205l0.6-0.5 6.2-0.8 17.5-0.8 36-0.3 75 0 0 7.4-59.5-0.5-37-0.9-15-0.7-12.7-0.9-7.9-1-2.2-0.5z"/>
<path fill="#cf0000" d="M871.3 205l1.3-0.5 5.1-0.6 7.7-0.4 11.3-0.2 30.5-0.3 73-0.1 0 6.7-54.5-0.4-36-0.8-18.5-0.8-8.7-0.6-8.5-1-2.1-0.5z"/>
<path fill="#bf0000" d="M878.6 205l2.3-0.5 6.8-0.5 21.2-0.5 91.3-0.2 0 6-51.5-0.4-37.5-0.9-14.5-0.6-12.3-0.9-3.7-0.5-2-0.5z"/>
<path fill="#af0000" d="M886.9 205.5l0.8-0.5 5.2-0.5 18.3-0.6 21.5-0.2 67.5-0.1 0 5.3-41-0.3-35.3-0.6-23.7-1-10.5-0.9z"/>
<path fill="#9f0000" d="M1000.2 208.5l-42-0.3-34.4-0.7-19.5-1-4.5-0.5-1.3-0.5 2.9-0.5 4.3-0.2 17-0.5 77.5-0.3z"/>
<path fill="#8f0000" d="M1000.2 208.1l-27.5-0.2-30.5-0.5-14.6-0.4-9.7-0.5-4.5-0.5 0.1-0.5 7.1-0.5 7.6-0.2 33.6-0.3 38.4-0.1z"/>
<path fill="#800000" d="M1000.2 207.5l-43.8-0.5-15.3-0.5-5.9-0.5 6.1-0.5 12.9-0.2 46-0.4z"/>
</g>
<rect x="710.2" y="49" width="290" height="290" fill="none" stroke="#262626" stroke-width="1"/>
<path d="M782.7 49v3M782.7 339v-3M855.2 49v3M855.2 339v-3M927.7 49v3M927.7 339v-3M710.2 194h3M1000.2 194h-3" stroke="#262626" stroke-width="1" fill="none"/>
<text x="710.2" y="374.6" font-size="30.5" text-anchor="middle">1.25</text>
<text x="782.7" y="374.6" font-size="30.5" text-anchor="middle">1.75</text>
<text x="855.2" y="374.6" font-size="30.5" text-anchor="middle">2.25</text>
<text x="927.7" y="374.6" font-size="30.5" text-anchor="middle">2.75</text>
<text x="1000.2" y="374.6" font-size="30.5" text-anchor="middle">3.25</text>
<text x="701.2" y="60.9" font-size="30.5" text-anchor="end">77.8</text>
<text x="701.2" y="205.9" font-size="30.5" text-anchor="end">75.8</text>
<text x="701.2" y="350.9" font-size="30.5" text-anchor="end">73.8</text>
<text x="827.7" y="22" font-size="35.5" font-style="italic">N<tspan font-size="28" dx="-0.8" dy="16.6">x/s</tspan></text>
<text x="842.2" y="413.7" font-size="35.0" font-style="italic">α<tspan font-size="28" dx="1" dy="15.5">t</tspan></text>
<text transform="translate(622.9 260.5) rotate(-90)" font-size="33.5"><tspan font-style="italic">θ</tspan><tspan font-size="24" font-style="italic" dy="11" dx="0">i</tspan><tspan dy="-11" dx="-0.5">(degree)</tspan></text>
<rect x="1034" y="49" width="14.5" height="290" fill="url(#jet)" stroke="#262626" stroke-width="1"/>
<text x="1055.1" y="85.6" font-size="27.5">0.05</text>
<text x="1055.1" y="200.3" font-size="27.5">0</text>
<text x="1055.1" y="315.8" font-size="27.5">-0.05</text>
<path d="M1048.5 75.2h-3M1048.5 189.9h-3M1048.5 305.4h-3" stroke="#262626" stroke-width="1" fill="none"/>
<g class="w" font-size="28.1">
<text x="730" y="300.5">Δ</text>
<text x="749.1" y="300.5" font-style="italic">ϕ</text>
<text x="769.5" y="300.5" font-size="30.9" dy="1.3">=</text>
<text x="792.9" y="300.5">0</text>
<text x="806.5" y="300.5" font-size="17.1" dy="-8">°</text>
<text x="817" y="300.5">;</text>
<text x="827.1" y="300.5" font-style="italic">α</text>
<text x="852.7" y="300.5" font-size="30.9" dy="1.3">=</text>
<text x="874.9" y="300.5">0.2</text>
<text x="910.6" y="300.5" font-size="17.1" dy="-8">°</text>
</g>
<text x="946.7" y="322.7" font-size="40" class="w">(d)</text>
</g>
<g id="pe">
<g clip-path="url(#ce)">
<rect x="710.3" y="481.8" width="290" height="290" fill="#00008f"/>
<path fill="#00009f" d="M710.3 481.8l290 0 0 290-290 0 0-134.6 1.6-1.9 0.5-1 0.3-1.5-0.5-2-0.6-1-1.3-1.4z"/>
<path fill="#0000af" d="M710.3 481.8l290 0 0 290-290 0 0-132.7 1.8-1.3 1.4-1.5 0.9-1.5 0.4-2-0.5-2-0.9-1.5-1.4-1.5-1.7-1.3z"/>
<path fill="#0000bf" d="M710.3 481.8l290 0 0 290-290 0 0-131.2 2.9-1.8 2.1-2 1.1-2 0.3-2-0.4-2-1.2-2-2.1-2-2.7-1.8z"/>
<path fill="#0000cf" d="M710.3 481.8l290 0 0 290-290 0 0-129.9 3.5-1.9 2.6-2.2 0.9-1.1 0.7-1.4 0.4-1 0.1-1.5-0.2-1.4-0.4-1.1-1.7-2.5-2.4-2-3.5-2.1z"/>
<path fill="#0000df" d="M710.3 481.8l290 0 0 290-290 0 0-128.7 4.5-2.3 1.5-1.1 1.6-1.4 1.7-2.5 0.5-1.5 0.1-1.5-0.2-1.5-0.6-1.5-1.8-2.5-3.1-2.5-4.2-2.3z"/>
<path fill="#0000ef" d="M710.3 481.8l290 0 0 290-290 0 0-127.6 2.5-1 2.5-1.3 3.5-2.6 1.3-1.5 1-1.5 0.5-1.5 0.3-1.5-0.2-1.5-0.6-2-1-1.5-1.2-1.5-1.7-1.5-2.1-1.5-4.8-2.4z"/>
<path fill="#00f" d="M710.3 481.8l290 0 0 290-290 0 0-126.5 3-1.2 2.5-1.2 2-1.3 2-1.5 1.7-1.8 0.9-1.5 0.7-1.5 0.3-2-0.1-1.5-0.6-2-1.3-2-1.3-1.5-1.8-1.6-2.5-1.7-2.5-1.4-3-1.3z"/>
<path fill="#0010ff" d="M710.3 481.8l290 0 0 290-290 0 0-125.4 3-1.2 3-1.4 2.5-1.5 2-1.5 1.5-1.5 1.5-2 0.8-2 0.3-2-0.2-2-0.7-2-1.2-1.8-1.5-1.7-2-1.7-2.6-1.8-2.9-1.6-3.5-1.5z"/>
<path fill="#0020ff" d="M710.3 481.8l290 0 0 290-290 0 0-124.4 3.5-1.3 3-1.4 3-1.7 2.2-1.7 2-2 1.3-2 0.8-2 0.2-2-0.2-2-0.8-2.3-1.1-1.7-1.9-2.2-2.2-1.8-3.1-2-3.2-1.7-3.5-1.4z"/>
<path fill="#0030ff" d="M710.3 481.8l290 0 0 290-290 0 0-123.4 4-1.4 3.5-1.6 3-1.8 2.4-1.8 1.9-2 1.4-2 0.7-2 0.4-2.5-0.3-2.4-0.7-2.1-1.3-2.1-2-2.2-2.5-2-3-1.9-3.5-1.8-4-1.6z"/>
<path fill="#0040ff" d="M710.3 481.8l290 0 0 290-290 0 0-122.3 4-1.4 3.9-1.8 3.5-2 2.6-2 1.9-2 1.3-2 0.9-2.5 0.3-2.5-0.2-2.5-0.7-2.1-1.4-2.4-1.7-2-2.9-2.4-3.3-2.1-4-2-4.2-1.7z"/>
<path fill="#0050ff" d="M710.3 481.8l290 0 0 290-290 0 0-121.3 4.5-1.6 4-1.8 3.5-2 3-2.2 1.9-2.1 1.5-2.5 0.9-2.5 0.2-2.5-0.2-2.5-0.8-2.5-1.5-2.6-2-2.3-3-2.4-3.5-2.1-4-2-4.5-1.8z"/>
<path fill="#0060ff" d="M710.3 481.8l290 0 0 290-290 0 0-120.3 4.5-1.5 4-1.7 4-2.2 3-2.2 2.4-2.6 1.4-2.5 0.9-2.5 0.4-3-0.4-3-0.8-2.5-1.8-3-2.1-2.4-3-2.3-3.9-2.3-4.1-2-4.5-1.7z"/>
<path fill="#0070ff" d="M710.3 481.8l290 0 0 290-290 0 0-119.2 4.5-1.5 4.5-2 4-2.1 3-2.2 2.4-2.5 1.8-3 1.1-3 0.3-3-0.3-3-1-3-1.8-3-2.2-2.5-2.8-2.2-4-2.5-4.5-2.1-5-2z"/>
<path fill="#0080ff" d="M710.3 481.8l290 0 0 290-290 0 0-118.2 5-1.6 5-2.2 4.4-2.5 2.6-2 2.3-2.5 1.8-3 1.1-3 0.5-3.5-0.5-3.5-1.1-3-1.8-3-2.6-3-2.7-2.1-4.5-2.7-4.5-2.1-5-1.9z"/>
<path fill="#008fff" d="M710.3 481.8l290 0 0 290-290 0 0-117.1 5-1.6 5-2.2 4.5-2.4 2.9-2.2 2.6-2.8 2-3.2 1.3-3.5 0.4-3.5-0.5-3.5-1.2-3.4-2-3.3-2.5-2.9-3-2.4-4.5-2.7-5-2.3-5-1.9z"/>
<path fill="#009fff" d="M710.3 481.8l290 0 0 290-290 0 0-115.9 5.5-1.9 5-2.1 4.5-2.5 3-2.3 3-3.3 2-3.4 1.3-3.6 0.4-3.5-0.4-3.5-1.3-3.6-2-3.4-3-3.5-3-2.4-4.5-2.7-5-2.4-5.5-2.1z"/>
<path fill="#00afff" d="M710.3 481.8l290 0 0 290-290 0 0-114.8 5.5-1.8 5.5-2.4 4.5-2.5 3-2.3 3-3.3 2.4-3.9 1.3-3.5 0.4-2 0.1-2-0.4-3.5-1.4-4-2.4-3.9-3-3.4-3-2.5-4.5-2.7-5.5-2.6-5.5-2.1z"/>
<path fill="#00bfff" d="M710.3 481.8l290 0 0 290-290 0 0-113.6 6-2 5.5-2.4 4.5-2.5 3.1-2.5 3.2-3.5 2.5-4 1.5-4 0.3-2 0.1-2-0.1-2-0.4-2-1.5-4-2.4-4-3.3-3.7-3.5-2.9-4-2.3-5.5-2.7-6-2.3z"/>
<path fill="#00cfff" d="M710.3 481.8l290 0 0 290-290 0 0-112.3 6-2.1 6-2.6 4-2.2 3.5-2.8 3.5-3.8 2.7-4.2 1.1-2.5 0.6-2 0.3-2 0.1-2-0.1-2-0.4-2-0.6-2-1.1-2.5-2.6-4.1-3.5-4-3.5-2.9-4-2.4-6-2.9-6-2.4z"/>
<path fill="#00dfff" d="M710.3 481.8l290 0 0 290-290 0 0-111 6.5-2.3 6.5-2.9 4-2.4 3.5-2.9 3.5-4 2.8-4.5 1.1-2.5 0.6-2 0.3-2 0.1-2-0.1-2-0.4-2-0.6-2-1.1-2.5-2.8-4.5-1.9-2.4-1.9-2.1-3.6-3-4-2.5-6-2.9-6.5-2.6z"/>
<path fill="#00efff" d="M710.3 481.8l290 0 0 290-290 0 0-109.6 7-2.5 6.5-3 4-2.5 3.5-2.9 3.9-4.5 2.9-4.5 1.1-2.5 0.6-2 0.4-2 0.2-2.5-0.2-2.5-0.5-2-0.7-2-1.1-2.5-1.4-2.5-1.8-2.5-3.9-4.5-3.5-3-4-2.5-6.5-3.3-6.5-2.6z"/>
<path fill="#0ff" d="M710.3 481.8l290 0 0 290-290 0 0-108.2 7-2.5 7-3.3 3.5-2.1 4-3.4 2.3-2.5 2.1-2.5 1.7-2.5 1.4-2.5 1.1-2.5 0.7-2 0.5-2.5 0.1-2-0.2-2-0.5-2.5-0.9-2.5-1.2-2.5-3.3-5-2-2.5-2.3-2.5-3.5-3.1-4-2.6-6.5-3.3-7-2.8z"/>
<path fill="#10ffef" d="M710.3 481.8l290 0 0 290-290 0 0-106.7 7-2.5 7-3.3 3.5-2.1 4-3.4 2.5-2.5 2.1-2.5 2.1-3 1.6-2.5 1.2-2.5 1-2.5 0.6-2.5 0.2-2-0.1-2-0.5-2.5-0.9-2.5-1.2-2.5-3.4-5.5-2.2-2.8-2.5-2.7-4-3.7-3.5-2.4-7-3.6-7.5-3.1z"/>
<path fill="#20ffdf" d="M710.3 481.8l290 0 0 290-290 0 0-105 7.5-2.8 7-3.4 3.5-2.2 4-3.4 2.6-2.7 2.5-3 2.2-3 1.9-3 1.6-3 0.7-2 0.6-2.5 0.2-2-0.2-2.5-0.6-2.5-0.7-2-1.6-3-3.9-6-2.4-3-2.8-3-3.6-3.3-4-2.8-7-3.7-7.5-3.2z"/>
<path fill="#30ffcf" d="M710.3 481.8l290 0 0 290-290 0 0-103.2 7.5-2.9 7-3.4 4-2.7 4-3.5 3-3.1 2.7-3.2 2.6-3.5 2.3-3.5 1.3-2.5 0.8-2 0.5-2.5 0.2-2-0.1-2-0.5-2.5-0.9-2.5-1.3-2.5-2.2-3.5-2.9-4-2.9-3.5-2.6-2.8-4-3.7-4-2.8-7.5-4-7-3z"/>
<path fill="#40ffbf" d="M710.3 481.8l290 0 0 290-290 0 0-101.3 7.5-3 7.5-3.8 4-2.7 4-3.6 3-3.1 3-3.5 3.9-5 1.7-2.5 1.3-2.5 1-2.5 0.4-2 0.3-2.5-0.2-2.5-0.6-2.5-1-2.5-1.3-2.5-1.6-2.5-4.2-5.5-5.7-6.6-4-3.7-4-3-7.5-4.1-7.5-3.3z"/>
<path fill="#50ffaf" d="M710.3 481.8l290 0 0 290-290 0 0-99.2 7.5-3.1 7.5-3.8 4-2.8 4-3.6 6.4-7 4.2-5 2.2-3 1.7-3 1-2.5 0.6-2.5 0.2-2.5-0.2-2.5-0.5-2.5-1-2.5-1.6-3-2.1-3-3.5-4.5-6.9-7.9-4.5-4.3-4-3-7.5-4.2-7.5-3.4z"/>
<path fill="#60ff9f" d="M710.3 481.8l290 0 0 290-290 0 0-96.9 7.5-3.2 7.5-4 4-2.8 4.5-4.1 10.5-11.5 3.4-4.5 1.8-3 1-2.5 0.7-2.5 0.3-3-0.2-2.5-0.7-3-1.1-2.5-1.6-3-3.7-5-10.4-11.9-4.5-4.3-4-3.1-7.5-4.2-7.5-3.6z"/>
<path fill="#70ff8f" d="M710.3 481.8l290 0 0 290-290 0 0-94.4 7.5-3.3 7.5-4.1 4.5-3.3 4.5-4.2 11.3-12.2 3.9-5 1.7-3 1.3-3 0.6-2.5 0.3-3-0.2-2.5-0.7-3-1.2-3-1.7-3-4.1-5.5-11.2-12.6-4.5-4.4-4.5-3.6-7.5-4.4-7.5-3.6z"/>
<path fill="#80ff80" d="M710.3 481.8l290 0 0 290-290 0 0-91.5 7.5-3.5 7.5-4.2 4-3 5-4.7 12.3-13.1 4.4-5.5 2.1-3.5 1.3-3 0.8-3 0.3-3-0.3-3-0.8-3-1.3-3-2-3.5-4.3-5.6-12.5-13.9-5-4.9-4-3.2-7.5-4.6-7.5-3.8z"/>
<path fill="#8fff70" d="M710.3 481.8l290 0 0 290-290 0 0-88.2 7.5-3.7 7.5-4.4 4-3.1 5-4.8 7-7.6 7-7.2 2.5-3 2.3-3 2.1-3.5 1.3-3 0.9-3.5 0.2-3-0.2-3-1-3.5-1.5-3.5-2.1-3.5-4.7-6-6.8-7.2-7-8-5-5-4-3.3-7.5-4.8-7.5-4z"/>
<path fill="#9fff60" d="M710.3 481.8l290 0 0 290-290 0 0-84.4 4.5-2.2 5-2.8 5-3.2 3-2.3 4.5-4.2 9-9.8 7.9-8.1 5-6 3.2-5 1.1-2.5 0.7-2.5 0.5-2.5 0.1-2.5-0.1-2.5-0.5-2.5-0.8-2.5-1.1-2.5-1.4-2.5-2-3-4.9-6-7.7-8.1-9-10.3-4.5-4.4-3-2.4-5-3.4-5-3.1-4.5-2.4z"/>
<path fill="#afff50" d="M710.3 481.8l290 0 0 290-290 0 0-79.8 4.5-2.4 5-3.1 5-3.3 3-2.4 4-3.9 9.5-10.7 10.6-10.9 4.8-6 1.6-2.5 1.3-2.5 1.1-2.5 0.7-2.5 0.5-2.5 0.1-3-0.1-2.5-0.5-2.5-0.9-3-1-2.5-2.9-5-4.8-6.2-10.5-11.2-9.5-11.2-4-4.1-3-2.5-5-3.6-4.5-2.9-5-3z"/>
<path fill="#bfff40" d="M710.3 481.8l290 0 0 290-290 0 0-74.3 4.5-2.6 5-3.3 5-3.6 3-2.6 4.5-4.7 9-10.6 9-9.3 4.5-5 4.2-5.5 1.5-2.5 1.5-3 1.1-3 0.6-2.5 0.4-2.5 0.2-3-0.2-2.5-0.5-3-0.7-2.5-1.1-3-1.5-3-1.5-2.5-4.5-6-4.5-5.2-8.5-9.1-9-11.1-4.5-4.9-3-2.7-5-3.8-5-3.6-4.5-2.8z"/>
<path fill="#cfff30" d="M710.3 481.8l290 0 0 290-290 0 0-67.4 4.5-2.8 4.5-3.3 5.5-4.3 2.5-2.3 4.5-5 9.5-11.9 11-11.8 5-5.8 4-5.7 1.5-2.7 1.4-3 1.1-3 0.7-3 0.5-3 0.1-2.5-0.1-2.5-0.4-3-0.7-3-1-3-1.3-3-1.6-3-4-6-5.2-6.3-11-12.2-9.5-12.4-4.5-5.2-2.5-2.4-5.5-4.6-4.5-3.4-4.5-3.1z"/>
<path fill="#dfff20" d="M710.3 481.8l290 0 0 290-290 0 0-58.1 4.5-3.3 4.5-3.6 5.5-4.9 2.5-2.5 4-4.9 10.5-14.3 12.5-14.1 5-6.2 2.2-3.1 2.1-3.5 1.7-3.4 1.3-3.1 1.1-3 0.8-3.5 0.4-3 0.2-3-0.1-3-0.5-3.5-0.9-3.5-1-3-1.3-3.1-1.7-3.4-4.3-6.8-5-6.4-12.5-14.8-10.5-14.7-4-5.1-2.5-2.7-5.5-5.1-4.5-3.8-4.5-3.5z"/>
<path fill="#efff10" d="M710.3 481.8l290 0 0 290-290 0 0-44.9 4-3.4 4.5-4.1 5-5.1 3-3.4 4.5-6.2 7.5-11.7 3-4.4 14.5-18 5-6.9 2.5-4 2.1-3.9 1.9-3.9 1.4-3.6 1.1-3.5 0.8-3.5 0.5-3.5 0.2-3.5-0.2-3.5-0.5-3.5-0.7-3.5-1.3-4-1.5-4-1.7-3.5-4.6-8-5-7.1-14.5-18.7-10.5-16.7-4.5-6.4-3-3.5-5-5.3-4.5-4.3-4-3.6z"/>
<path fill="#ff0" d="M710.3 481.8l290 0 0 290-290 0 0-23.5 4-4.1 4-4.6 4.5-5.5 3.5-4.6 4.5-7.4 8-15.1 3-5.2 16.2-23.5 5.8-9.5 2.7-5 2.3-4.7 1.8-4.3 1.6-4.5 1.1-4 0.9-4 0.5-4 0.2-4-0.2-4-0.5-4-0.8-4-1.3-4.5-1.6-4.5-1.9-4.5-4.8-9.6-5.5-9.2-16.5-24.7-3-5.4-8-15.4-4-6.9-3-4.2-5-6.5-4.5-5.3-4-4.3z"/>
<path fill="#ffef00" d="M716.6 481.8l283.7 0 0 290-276.4 0 2.9-5.6 2.8-6.4 9.2-23.6 3-7.1 4.6-9.3 14.2-27.5 5.5-12 4.5-10.5 3.9-11 2.5-9 0.9-4.5 0.7-4.5 0.2-4 0.1-4-0.3-4-0.5-4.5-1.9-9-3.2-10-4.4-11.5-4.1-9.5-4.7-10.3-13-25.7-5-10.3-3-7.3-8-21.1-4-9.4-4.5-8.6z"/>
<path fill="#ffdf00" d="M765 481.8l235.3 0 0 290-233.1 0 7.1-44.9 7.8-46.1 1.5-9.5 0.9-9 0.7-9.5 0.4-10.5 0-11-0.2-10-0.4-9-0.7-8.2-0.9-7.8-9.6-57.8z"/>
<path fill="#ffcf00" d="M1000.3 484.5l0 287.3-135.6 0-5.9-2.6-5.5-2.7-6.5-3.6-4.5-3.2-5-4.2-5-5-4.5-5.4-4.5-6.3-4.5-7.1-4.5-8-3.5-6.7-2-4.3-2.5-6.4-2.5-7.4-3.9-15.1-5.9-27-1.8-11-0.7-9 0.2-8.5 1.3-10 1.5-8 5.9-26.5 2.4-9.3 1.5-5 2.5-7.1 2.3-5.6 2.2-4.5 6-10.9 6-9.4 6-7.9 5.5-5.8 6-5.2 6-4.1 9-4.5 9.5-3.8 10-3.2 11-2.6 13.5-2.4 15.5-2.2 18-1.8 22-1.7 22.5-1.4z"/>
<path fill="#ffbf00" d="M1000.3 535.9l0 207.2-36-2.6-21-1.9-17-1.7-14.5-1.7-12.5-1.8-11.5-1.9-10-2-9-2.3-8.5-2.5-8.5-3-6.5-2.8-6-3.4-5.5-3.7-4.5-3.7-5-4.9-3.5-3.8-3.5-4.3-6.5-8.8-3.2-5.5-3.3-7.1-1.7-4.4-1.9-6-3.2-12-1.6-9-0.4-4-0.1-4 0.2-4 0.4-4 1.7-9 3.5-12.5 1.9-5.5 1.7-4.3 3.5-7 2-3.3 2-2.8 6.5-8.3 3.5-3.9 3.5-3.5 4.5-4 5-3.7 5.5-3.3 5.5-2.7 7-2.5 8.5-2.6 8.5-2 9-1.8 9.5-1.4 11-1.3 13.5-1.3 14-1 37-1.8z"/>
<path fill="#ffaf00" d="M1000.3 557.8l0 163.4-24.5-1.5-24-1.8-22-1.9-19-1.9-16-2.1-12.5-1.9-12-2.4-10.5-2.6-9.5-3-7-2.7-6.5-3.4-6.5-4.3-6.5-5.3-6.5-6.6-6.5-7.7-3.5-5.5-3-6.1-2.3-6.2-1.9-7-1.1-6.5-0.4-6 0.3-5.5 1-6 1.7-6.5 2.2-6.1 2.5-5.4 3-5.1 3-3.9 5.5-6.1 6-5.7 5.5-4.4 6-3.8 4.5-2.4 4.5-1.9 4.5-1.6 7-2 7.5-1.7 7.5-1.5 8-1.3 8.5-1.1 21-1.8 25-1.4 34.5-1.2z"/>
<path fill="#ff9f00" d="M1000.3 570.9l0 137.2-26-1.5-27.5-1.9-21.5-1.8-19-1.9-16-2-12.5-1.9-12-2.4-10.5-2.6-9-2.8-6.5-2.8-7-3.8-6.5-4.5-4-3.3-3.5-3.3-3.5-3.6-3-3.5-2-2.5-2-3.1-3-6-1.8-5.1-1.2-4.9-0.7-5.1 0-4.5 0.5-5 1-5 1.7-5 2-4.4 2.5-4.3 2.5-3.2 4.5-5 5-4.7 4.5-3.6 4.5-3.1 5-2.8 5-2.4 4.5-1.7 4-1.2 7-1.8 6.5-1.4 13.5-2.2 15.5-1.7 20.5-1.5 24.5-1.1 33.5-0.9z"/>
<path fill="#ff8f00" d="M1000.3 580l0 119-26.5-1.4-28.5-2-21.5-1.7-19-1.8-16-1.9-12-1.8-12-2.3-11-2.6-8.5-2.6-7-2.9-7-3.9-6.5-4.6-3.5-2.9-3-2.8-3-3.2-2.8-3.3-2.2-2.9-1.5-2.5-1.3-2.6-1.2-3-1-3.7-0.6-3.8-0.3-4 0.3-4 0.7-4 1.3-4 1.6-3.6 2-3.4 3-3.8 3.5-3.7 4-3.8 4.5-3.5 4.5-3 4-2.3 4.5-2.1 5-2 4-1.2 5.5-1.4 13-2.6 13.5-1.8 15.5-1.5 20-1.2 24-0.9 32-0.7z"/>
<path fill="#ff8000" d="M1000.3 586.8l0 105.4-25-1.3-28.5-1.9-21.5-1.6-19.5-1.8-16-1.8-12.5-1.7-11.5-2.1-11-2.6-9-2.5-7-2.8-7-3.7-6-4.1-6-5.1-2.8-2.9-2.5-3-2.2-3-1.5-2.5-1.3-2.5-1-3-0.8-3.5-0.2-3.5 0.2-3.5 0.5-3 1-3 1.4-3 1.8-3 2.3-3 3.1-3.4 3.5-3.2 3.5-2.9 4-2.7 4-2.3 4-2 4.5-1.8 4.5-1.5 10.5-2.5 12.5-2.1 13.5-1.7 15-1.2 20-1.1 23.5-0.8 30.5-0.6z"/>
<path fill="#ff7000" d="M1000.3 592.2l0 94.6-25.5-1.4-28-1.7-21.5-1.6-18.5-1.7-16.5-1.8-12-1.6-11.5-2-11-2.4-9-2.5-6.5-2.4-7-3.5-6-3.9-5.5-4.6-2.5-2.5-2.4-2.9-2.1-3-1.4-2.5-1.1-2.5-0.8-2.5-0.5-3-0.1-2.5 0.4-2.9 0.7-2.6 1.3-3 1.5-2.7 2-2.8 2.5-2.8 2.8-2.7 3-2.5 3.2-2.3 3.5-2.1 4-2.1 4-1.7 4-1.4 4-1.2 11-2.3 12-1.9 13-1.5 15.5-1.1 20-1 22.5-0.7 30-0.6z"/>
<path fill="#ff6000" d="M1000.3 682.3l-26.5-1.4-29.5-1.9-22-1.6-20.5-1.9-15.5-1.8-12.5-1.8-12-2.3-11-2.7-4.5-1.3-4-1.4-4-1.8-3.5-1.8-3.5-2.1-3-2.1-3-2.4-2.5-2.4-2.5-2.8-1.8-2.5-1.5-2.5-1.1-2.5-0.8-3-0.3-2.5 0.1-2.5 0.5-2.5 0.9-2.5 0.9-2 1.6-2.5 1.6-2 1.9-2.1 2.5-2.3 2.6-2.1 2.9-2 6-3.3 6.5-2.6 6.5-1.9 9.5-2 10.5-1.7 11.5-1.3 12-1 16.5-0.9 18.5-0.8 22.5-0.5 25.5-0.4 24.5-0.2z"/>
<path fill="#ff5000" d="M1000.3 678.4l-26-1.3-27-1.7-23.5-1.7-19-1.7-16-1.8-12.5-1.7-11.5-2.1-10.5-2.4-8.5-2.4-7-2.9-3.5-1.9-3-1.8-3-2.2-2.3-2-2.2-2.2-2-2.4-1.6-2.4-1.2-2.5-0.9-2.5-0.3-2.5 0-2.5 0.4-2 0.6-2 1.2-2.5 1.2-2 1.6-2 1.9-2 2.3-2 2.7-2 2.6-1.6 5.5-2.8 6-2.3 7.5-1.9 9-1.8 10-1.5 11.5-1.3 13-1 16-0.8 18.5-0.7 21.5-0.5 48.5-0.5z"/>
<path fill="#ff4000" d="M1000.3 675.1l-26-1.4-25.5-1.6-21.5-1.5-18.5-1.6-17-1.8-12-1.6-11.5-1.9-10-2.1-9.5-2.6-6.5-2.4-6-3.1-2.7-1.7-2.6-2-2.2-2-1.8-2-1.7-2.3-1.2-2.2-0.8-2.1-0.5-2.4 0-2.5 0.3-2 0.7-2 1-2 1.3-2 1.7-2 3.9-3.5 4.7-3 5.4-2.5 5.5-1.9 8-1.9 9.5-1.8 10-1.4 11-1.1 13.5-0.9 15-0.8 18-0.6 21.5-0.5 46.5-0.5z"/>
<path fill="#ff3000" d="M1000.3 672.1l-25.5-1.4-24.5-1.5-21.5-1.5-17.5-1.5-15.5-1.6-12.5-1.5-11-1.8-10-2-9-2.3-7.5-2.4-5.5-2.5-5.2-3.3-2.4-2-1.9-2-1.5-2-1.1-2-0.8-2-0.4-2-0.1-2 0.3-2 0.6-1.7 0.9-1.8 1.1-1.7 1.5-1.8 2-1.8 2-1.5 4.5-2.7 5-2.2 6-1.8 8-1.8 9.5-1.7 9.5-1.2 10.5-1 14-0.9 15-0.8 39-1 44-0.5z"/>
<path fill="#ff2000" d="M1000.3 669.3l-44-2.4-21.5-1.5-18.5-1.5-15-1.5-14-1.7-10.5-1.5-9.5-1.8-9-2.1-8.2-2.5-5.3-2.1-5-2.7-4-3.2-1.5-1.7-1.3-1.8-0.8-1.5-0.6-2-0.3-2 0.2-2 0.6-2 0.7-1.5 2.3-3 1.7-1.5 2-1.5 4.4-2.5 4.6-1.8 7-2 8-1.7 8.5-1.5 9.5-1.1 10-0.9 13.5-0.9 15.5-0.8 39-1 41.5-0.4z"/>
<path fill="#ff1000" d="M1000.3 666.8l-41.5-2.3-39-2.9-15-1.5-13.5-1.5-10.5-1.5-9-1.6-8.5-1.9-7.5-2.2-7-2.5-4.5-2.2-2.1-1.4-1.9-1.5-1.5-1.5-1.1-1.5-0.8-1.5-0.6-1.5-0.2-2 0.1-1.5 0.4-1.5 0.7-1.5 2-2.5 3-2.5 4.5-2.4 5.8-2.1 6.7-1.8 8-1.6 8.5-1.4 9.5-1.1 10.5-0.8 27.5-1.5 38.5-1 38.5-0.4z"/>
<path fill="#f00" d="M1000.3 664.5l-39-2.3-37-2.7-14.5-1.4-13-1.4-10.5-1.5-9-1.5-9-1.9-7.5-2-6-2.1-5.4-2.4-3.9-2.5-2.5-2.5-1.2-2.5-0.3-1.5 0-1.5 1-2.5 0.8-1.2 1.3-1.3 2.7-2 4.5-2.1 5.5-2 6.5-1.7 7.5-1.5 8.5-1.3 9-1 11-0.9 26.5-1.4 37-1 37-0.4z"/>
<path fill="#ef0000" d="M1000.3 662.2l-36-2-36-2.7-25.5-2.6-11.5-1.5-8.5-1.4-8-1.6-7-1.7-5.9-1.9-5.1-2.1-4-2.2-2.7-2.2-0.8-1-0.9-1.5-0.3-1.5 0-1 0.5-1.5 0.6-1 2-2 3.2-2 4.4-1.9 5-1.7 6-1.4 7-1.4 8-1.1 9-0.9 11-0.9 25.5-1.4 35-0.9 35-0.4z"/>
<path fill="#df0000" d="M1000.3 660.1l-34-2-33.5-2.6-24.5-2.5-19.5-2.7-7.9-1.5-6.3-1.5-5.3-1.6-4.9-1.9-3.8-2-2.6-2-1.4-2-0.3-1 0-1 0.2-1 0.5-1 2-2 2.8-1.7 4-1.7 5-1.6 5.5-1.3 7-1.2 7-0.9 19.5-1.8 24-1.3 33-1 33.5-0.4z"/>
<path fill="#cf0000" d="M1000.3 658l-31-1.9-31-2.4-23.4-2.4-18-2.5-8.1-1.4-6-1.4-6-1.7-3.9-1.5-3.1-1.5-2.6-2-0.9-1-0.4-1-0.1-1.5 0.4-1 0.7-1 1.9-1.5 2.9-1.5 3.6-1.3 4.2-1.2 5.8-1.2 13.5-1.9 18.5-1.6 22.5-1.2 30-1 30.5-0.4z"/>
<path fill="#bf0000" d="M1000.3 655.9l-28-1.8-28-2.2-20.3-2.1-17.2-2.3-6.7-1.2-7.2-1.5-4.6-1.2-4-1.3-3.4-1.5-2.2-1.5-1.3-1.5-0.3-1.5 0.8-1.5 1.9-1.5 3-1.4 3.3-1.1 4-1 5.3-1 13.4-1.8 17-1.4 21-1.2 26.5-0.9 27-0.4z"/>
<path fill="#af0000" d="M1000.3 653.8l-23.5-1.6-23.2-1.9-19.3-2-15-2-11.1-2-4.9-1.1-4.7-1.4-2.8-1.1-2.6-1.4-1.4-1.5-0.2-1 0.4-1 0.5-0.5 1.4-1 2.3-1 3.1-1 4.3-1 5.2-1 11.5-1.4 15.5-1.4 19.5-1 21.5-0.8 23.5-0.5z"/>
<path fill="#9f0000" d="M1000.3 651.5l-18.5-1.2-19-1.7-16.5-1.8-14.4-2-8.6-1.6-7.4-1.9-2.6-1-1.9-1-1.1-1-0.3-1 0.5-1 1.4-1 4-1.5 7-1.5 11.2-1.5 12.7-1.1 17-1.1 18-0.7 18.5-0.4z"/>
<path fill="#8f0000" d="M1000.3 649.1l-26.7-2.3-12.7-1.5-10.2-1.5-7.9-1.5-5.5-1.5-3.3-1.5-0.9-1-0.1-0.5 0.8-1 0.8-0.5 2.7-1 6.5-1.4 7.8-1.1 10.2-1 11.5-0.8 27-1.1z"/>
<path fill="#800000" d="M1000.3 646.1l-17-1.8-12.4-2-4.2-1-2.8-1-1.7-1-0.3-0.5 0.1-0.5 0.4-0.5 0.8-0.5 1.6-0.6 3.6-0.9 4.4-0.7 11.9-1.3 15.6-0.9z"/>
</g>
<rect x="710.3" y="481.8" width="290" height="290" fill="none" stroke="#262626" stroke-width="1"/>
<path d="M782.8 481.8v3M782.8 771.8v-3M855.3 481.8v3M855.3 771.8v-3M927.8 481.8v3M927.8 771.8v-3M710.3 626.8h3M1000.3 626.8h-3" stroke="#262626" stroke-width="1" fill="none"/>
<text x="710.3" y="807.4" font-size="30.5" text-anchor="middle">1.25</text>
<text x="782.8" y="807.4" font-size="30.5" text-anchor="middle">1.75</text>
<text x="855.3" y="807.4" font-size="30.5" text-anchor="middle">2.25</text>
<text x="927.8" y="807.4" font-size="30.5" text-anchor="middle">2.75</text>
<text x="1000.3" y="807.4" font-size="30.5" text-anchor="middle">3.25</text>
<text x="701.3" y="493.7" font-size="30.5" text-anchor="end">77.8</text>
<text x="701.3" y="638.7" font-size="30.5" text-anchor="end">75.8</text>
<text x="701.3" y="783.7" font-size="30.5" text-anchor="end">73.8</text>
<text x="827.8" y="454.8" font-size="35.5" font-style="italic">N<tspan font-size="28" dx="-0.8" dy="16.6">x/s</tspan></text>
<text x="842.3" y="846.5" font-size="35.0" font-style="italic">α<tspan font-size="28" dx="1" dy="15.5">t</tspan></text>
<text transform="translate(623 693.3) rotate(-90)" font-size="33.5"><tspan font-style="italic">θ</tspan><tspan font-size="24" font-style="italic" dy="11" dx="0">i</tspan><tspan dy="-11" dx="-0.5">(degree)</tspan></text>
<rect x="1034.2" y="481.8" width="14.5" height="290" fill="url(#jet)" stroke="#262626" stroke-width="1"/>
<text x="1055.3" y="513" font-size="27.5">0.01</text>
<text x="1055.3" y="594.2" font-size="27.5">0</text>
<text x="1055.3" y="675.3" font-size="27.5">-0.01</text>
<text x="1055.3" y="756.4" font-size="27.5">-0.02</text>
<path d="M1048.7 502.6h-3M1048.7 583.8h-3M1048.7 664.9h-3M1048.7 746h-3" stroke="#262626" stroke-width="1" fill="none"/>
<g class="w" font-size="29.8">
<text x="731.3" y="742.7">Δ</text>
<text x="752.4" y="742.7" font-style="italic">ϕ</text>
<text x="774.8" y="742.7" font-size="32.8" dy="1.3">=</text>
<text x="800.5" y="742.7">0</text>
<text x="815.5" y="742.7" font-size="18.1" dy="-8.5">°</text>
<text x="827.1" y="742.7">;</text>
<text x="838.2" y="742.7" font-style="italic">α</text>
<text x="866.5" y="742.7" font-size="32.8" dy="1.3">=</text>
<text x="888.1" y="742.7">1</text>
<text x="904.1" y="742.7" font-size="18.1" dy="-8.5">°</text>
</g>
<text x="947.5" y="753.3" font-size="40" class="w">(e)</text>
</g>
<g id="pf">
<g clip-path="url(#cf)">
<rect x="721.3" y="920" width="290" height="290" fill="#0000af"/>
<path fill="#0000bf" d="M721.3 920l290 0 0 290-290 0 0-90.9 0.8-10.6 0.3-10.5-0.3-10.5-0.8-10.6z"/>
<path fill="#0000cf" d="M721.3 920l290 0 0 290-290 0 0-80.2 1.1-7.8 0.8-8 0.4-8 0.2-8-0.2-8-0.4-8-0.8-8-1.1-7.8z"/>
<path fill="#0000df" d="M721.3 920l290 0 0 290-290 0 0-71.9 1.7-10.1 1.2-10 0.7-10 0.2-10-0.2-10-0.7-10-1.2-10-1.7-10.1z"/>
<path fill="#0000ef" d="M721.3 920l290 0 0 290-290 0 0-64.6 2.3-11.9 1.5-11.5 1-12 0.4-12-0.4-12-1-12-1.5-11.5-2.3-11.9z"/>
<path fill="#00f" d="M721.3 920l290 0 0 290-290 0 0-58.1 2.9-13.4 2-13.5 1.2-13.5 0.4-13.5-0.4-13.5-1.2-13.5-2-13.5-2.9-13.4z"/>
<path fill="#0010ff" d="M721.3 920l290 0 0 290-290 0 0-51.9 3.4-14.6 1.3-7.5 1.1-7.5 0.9-7.5 0.6-7.5 0.3-7.5 0.2-8-0.2-8-0.3-7.5-0.6-7.5-0.9-7.5-1.1-7.5-1.3-7.5-3.4-14.6z"/>
<path fill="#0020ff" d="M721.3 920l290 0 0 290-290 0 0-45.9 2.1-8.1 1.9-8.2 1.6-8.3 1.2-8 0.9-8 0.7-8.5 0.4-8.5 0.2-8.5-0.2-8.5-0.4-8.5-0.7-8.5-0.9-8-1.2-8-1.6-8.3-1.9-8.2-2.1-8.1z"/>
<path fill="#0030ff" d="M721.3 920l290 0 0 290-290 0 0-40.1 2.5-8.9 2-8.5 1.7-8.5 1.4-8.5 1.1-9 0.8-9.5 0.5-9.5 0.2-9.5-0.2-9.5-0.5-9.5-0.8-9.5-1.1-9-1.4-8.5-1.7-8.5-2-8.5-2.5-8.9z"/>
<path fill="#0040ff" d="M721.3 920l290 0 0 290-290 0 0-34.5 2.6-9 2.4-9.5 2-9.5 1.5-9 1.2-10 0.9-10 0.6-10 0.1-10.5-0.1-10.5-0.6-10-0.9-10-1.2-10-1.5-9-2-9.5-2.4-9.5-2.6-9z"/>
<path fill="#0050ff" d="M721.3 920l290 0 0 290-290 0 0-28.8 3-10 2.5-9.7 2-9.1 1.8-10.4 1.4-10.5 1-11 0.6-11 0.2-11.5-0.2-11.5-0.6-11-1-11-1.4-10.5-1.8-10.4-2-9.1-2.5-9.7-3-10z"/>
<path fill="#0060ff" d="M721.3 920l290 0 0 290-290 0 0-23.2 3.4-10.8 2.7-10.5 2.1-9.5 1.9-10.5 1.5-11.5 1.1-12 0.7-12 0.2-12-0.2-12-0.7-12-1.1-12-1.5-11.5-1.9-10.5-2.1-9.5-2.7-10.5-3.4-10.8z"/>
<path fill="#0070ff" d="M721.3 920l290 0 0 290-290 0 0-17.5 4-12.7 3.4-12.8 2.5-12.5 2.1-13.5 1.2-10.5 0.9-11 0.5-11 0.2-10.5-0.3-13-0.7-12.5-1.2-12.5-1.7-12.5-1.9-11-2.4-10.5-2.9-11-3.7-11.5z"/>
<path fill="#0080ff" d="M721.3 920l290 0 0 290-290 0 0-11.8 4.1-12.7 3.4-12.4 2.7-12.6 2.3-14 1.5-12 1-12 0.7-12.5 0.2-12-0.2-13.5-0.8-13.5-1.4-13.5-1.8-13.5-2.2-12-2.5-11.1-3.2-11.4-3.8-11.7z"/>
<path fill="#008fff" d="M721.3 920l290 0 0 290-290 0 0-6 4.2-12.5 3.5-12.5 2.8-12.8 2.5-14.2 1.8-13.5 1.2-13.5 0.8-13.5 0.3-13.5-0.3-14-0.9-14.5-1.4-14.5-2-14-2.4-13-2.6-11.7-3.3-11.8-4.2-12.5z"/>
<path fill="#009fff" d="M721.3 920l290 0 0 290-290 0 4.4-13 3.4-12 2.9-12.5 2.6-14 2.1-15 1.6-15.5 0.9-15 0.3-15-0.3-15-0.9-15-1.6-15.5-2.1-15-2.6-14-2.9-12.5-3.4-12-4.4-13z"/>
<path fill="#00afff" d="M721.3 920l290 0 0 290-287.8 0 4.3-13.6 3-11.4 2.9-14 2.5-14.5 2-15.5 1.5-15.5 0.8-15 0.2-15-0.4-15.5-1.1-15.5-1.7-16-2.3-15.5-2.9-15-3-12.9-3.5-12-4.5-13.2z"/>
<path fill="#00bfff" d="M721.3 920l290 0 0 290-285.7 0 3.7-12.3 3.2-13.2 2.9-15 2.6-16 1.9-16 1.2-15 0.7-15 0.1-15-0.6-15.5-1.2-16.5-1.9-16.5-2.5-16-2.9-15.1-3.2-13.4-3.7-12.5-4.6-13.4z"/>
<path fill="#00cfff" d="M721.3 920l290 0 0 290-283.6 0 3.4-12.5 3.3-14.5 2.9-16 2.4-16.5 1.8-16 1.1-15 0.5-15 0-15-0.7-16-1.4-16.5-2.1-17-2.7-17.5-3.1-15.5-3.3-13.7-3.6-12.3-4.9-13.9z"/>
<path fill="#00dfff" d="M721.3 920l290 0 0 290-281.6 0 3.5-14 3.2-15.5 2.8-16.5 2.3-17 1.6-16 1-15 0.4-14.5-0.2-14.5-0.8-16.5-1.5-17-2.3-18-3-18-3.3-16.5-3.5-14.5-3.8-12.5-4.8-13.8z"/>
<path fill="#00efff" d="M721.3 920l290 0 0 290-279.6 0 3.4-15 3.1-16.5 2.8-17.5 2.2-17 1.5-15.5 0.9-15 0.3-14.5-0.2-14.5-1-17-1.7-17.5-2.6-19-3.2-19-3.4-16.9-3.6-14.6-3.9-13.1-5-14.3z"/>
<path fill="#0ff" d="M721.3 920l290 0 0 290-277.8 0 3.4-16 3.2-17.5 2.8-18.5 2.1-17 1.4-15.5 0.8-14.5 0.2-14-0.3-14-1.1-17.5-1.9-18.5-2.7-19.5-3.5-20.5-3.7-18-3.9-15.9-3.9-13.1-5.1-14.4z"/>
<path fill="#10ffef" d="M721.3 920l290 0 0 290-276 0 3.5-17.5 3.2-18.5 2.9-19.5 2-17 1.3-14.5 0.8-14.5 0.1-13.5-0.4-13.5-1-15-1.6-15.5-2.2-17-2.9-18.5-4.5-24-4.7-20.6-4.2-14.9-3-9-3.3-9.3z"/>
<path fill="#20ffdf" d="M721.3 920l290 0 0 290-274.1 0 3.5-18.5 3.4-20 2.9-20 2.1-18 1.2-13.5 0.6-13.5 0.1-13-0.5-13.5-1.2-15.5-2.2-19-3.1-21.5-3.8-22-4.4-22.4-4.5-19.1-4-13.8-6-17.4z"/>
<path fill="#30ffcf" d="M721.3 920l290 0 0 290-272.3 0 3.6-19.5 3.5-21 3.3-22 1.8-14.5 1.1-14.5 0.6-13.5 0-13.5-0.6-14-1.4-17-2.3-18-4.6-29-5.1-28-4.1-19.4-4-16.3-3.6-12.3z"/>
<path fill="#40ffbf" d="M724.6 920l286.7 0 0 290-270.4 0 4.1-22.5 4.7-27.5 1.9-13 1.5-12.5 1.2-14 0.6-14 0.1-13.5-0.5-14-1.4-17-2.1-17.5-4.5-27-5-28-4.4-22.5-4.2-18.5-3.9-14.5z"/>
<path fill="#50ffaf" d="M727.9 920l283.4 0 0 290-268.5 0 8.6-47 2.1-13.5 1.6-13 1.2-14.5 0.7-14 0.1-14-0.4-14-0.9-12.5-1.4-13.5-1.9-14-2.5-15-7.9-43-4.7-23.5-4.8-21.5z"/>
<path fill="#60ff9f" d="M731 920l280.3 0 0 290-266.3 0 8.1-42.5 2.3-15 1.8-14 1.3-14.5 0.7-14.5 0.2-14-0.4-14.5-0.8-13-1.3-13-1.8-14-2.4-14.5-13.8-71.5-4.1-19.4z"/>
<path fill="#70ff8f" d="M734 920l277.3 0 0 290-264 0 4.7-23 3-16 2.5-16 1.9-15 1.4-15.5 0.8-14.5 0.2-14.5-0.4-14.5-0.8-13-1.3-13.5-1.8-14-2.3-14.5-3.1-16.5-4.8-23.6-7.7-39.4z"/>
<path fill="#80ff80" d="M736.8 920l274.5 0 0 290-261.2 0 4.1-19.5 3.3-18 2.5-16.5 2-15.5 1.3-15.5 0.8-15 0.2-15-0.4-14.5-0.9-13.5-1.3-13.5-1.7-14-2.4-15-3.9-21.5-6.9-32.6z"/>
<path fill="#8fff70" d="M739.7 920l271.6 0 0 290-258.1 0 3.9-19.5 3.3-18 2.4-16.5 1.9-15.5 1.3-15.5 0.7-15.5 0.1-15-0.4-15.5-0.9-14-1.3-14-1.8-14-2.4-15.5-4.4-24-8.8-41.2z"/>
<path fill="#9fff60" d="M742.7 920l268.6 0 0 290-254.7 0 3.8-20 3-17.5 2.4-16.5 1.7-16 1.3-16 0.6-15.5 0.1-15.5-0.5-16-0.9-14.5-1.4-14.5-1.9-15-2.4-16-2.4-13.5-2.9-15-9.3-42.8z"/>
<path fill="#afff50" d="M746.2 920l265.1 0 0 290-251.1 0 3.5-19 2.9-18 2.2-17 1.7-16.5 1.2-16.5 0.5-16 0.1-16-0.5-16-1-15.5-1.6-16-2-16-2.5-16.5-2.7-15.5-3.5-18z"/>
<path fill="#bfff40" d="M750.4 920l260.9 0 0 290-247.3 0 3.4-19.5 2.6-17.5 2-17 1.6-16.5 1-17 0.5-16.5 0-16.5-0.5-16.5-1-16-1.5-16.5-2-16.5-2.5-17-2.9-17.5-3.6-19-4.6-22z"/>
<path fill="#cfff30" d="M755.4 920l255.9 0 0 290-243.1 0 2.9-18.5 2.4-18 1.9-17.5 1.3-17 0.9-17 0.5-17-0.1-17-0.5-17-0.9-16.5-1.5-17-1.9-17-2.2-17-2.8-17.5-3.3-18.5-4-20.5z"/>
<path fill="#dfff20" d="M761 920l250.3 0 0 290-238.7 0 2.5-18 2-18 1.7-18 1.1-17.5 0.8-17.5 0.3-17.5-0.1-17.5-0.4-17.5-0.9-17-1.3-17-1.7-17.5-2.1-17.5-2.5-17.5-2.9-18.5-3.6-20z"/>
<path fill="#efff10" d="M767.3 920l244 0 0 290-234.1 0 2-18 1.7-18 1.3-18 0.9-17.5 0.6-18 0.3-18-0.1-18-0.4-18-0.8-17.5-1.1-17.5-1.4-17.5-1.8-18-2.2-18-2.5-18.5-3-19.5z"/>
<path fill="#ff0" d="M774.3 920l237 0 0 290-229.4 0 1.5-18 1.2-18 1-18 0.7-18.5 0.4-18.5 0.2-18-0.1-18.5-0.3-18-0.6-18-0.9-18-1.1-18-1.4-17.5-1.6-18-1.9-18-2.2-18.2z"/>
<path fill="#ffef00" d="M781.6 920l229.7 0 0 290-224.7 0 1.7-36.1 1.1-36.4 0.3-37-0.3-37-0.9-36.5-1.6-36-2.3-35.5z"/>
<path fill="#ffdf00" d="M788.9 920l222.4 0 0 290-220.2 0 0.8-37 0.5-36 0.2-35.5-0.2-35.5-0.4-36.5-0.7-37.5-1.1-36.5z"/>
<path fill="#ffcf00" d="M796.6 920l214.7 0 0 290-215.2 0-0.3-73 0-72.5 0.2-72.5z"/>
<path fill="#ffbf00" d="M806.8 920l204.5 0 0 290-209 0-1.5-35.7-0.9-37.3-0.4-37.5 0.3-37.5 0.9-37.5 1.5-36 2.1-35.5z"/>
<path fill="#ffaf00" d="M819.1 920l192.2 0 0 290-201.9 0-1.7-17.5-1.5-18-1.1-18.5-0.8-19.1-0.5-19.4-0.2-19 0.2-19.5 0.5-19 0.8-19 1.1-18.5 1.4-18 1.7-17.5 2-17.5 2.3-16.5 2.6-16.5z"/>
<path fill="#ff9f00" d="M832.2 920l179.1 0 0 290-194 0-2.8-17.5-2.3-18-1.8-18.5-1.2-18.5-0.8-19-0.3-19 0.2-19.5 0.7-19 1.2-18.5 1.7-17.5 2.1-17.5 2.6-17.5 3.1-17.5 3.7-17.5 4.3-18z"/>
<path fill="#ff8f00" d="M846.1 920l165.2 0 0 290-185.7 0-4-18.5-3.1-18-2.4-18-1.8-18.5-1-18.5-0.4-19 0.2-19 1-18.5 1.7-18.5 2.3-18 3-18 3.8-18.5 4.4-18.1 5.1-17.9 5.6-17z"/>
<path fill="#ff8000" d="M861.9 920l149.4 0 0 290-177.3 0-4.9-18.5-4-18.5-3.2-19-2.2-18.5-1.4-19-0.4-19 0.5-19 1.3-18.5 2.3-19 1.6-10 1.7-9.5 4.3-19 2.4-9.5 2.8-9.5 3-9.5 3-8.8 3.1-8.2 3.4-8.3 3.5-7.9 3.5-7.2 3.8-7.1z"/>
<path fill="#ff7000" d="M882.8 920l128.5 0 0 290-168.5 0-3.2-9-3-9.5-2.6-9.5-2.5-10-2-9.5-1.9-10-1.5-10-1.2-10-0.9-10-0.6-10-0.3-10 0-10 0.4-10 0.6-10 0.9-10 1.2-9.5 1.6-10.5 2-10.5 2.3-10.5 2.5-10 2.9-10 3.1-9.5 3.5-9.5 3.6-9 3.6-8 4-8 4-7.2 4.2-6.8 3.8-5.5 4-5.2 5.5-6.4z"/>
<path fill="#ff6000" d="M910 920l101.3 0 0 290-159.2 0-4.5-10.5-4.2-11-2.9-9-2.7-9.5-2.5-9.9-2-9.6-1.7-10-1.4-10-1-10-0.6-10-0.3-10 0.1-10 0.5-10 0.8-10 1.2-10 1.5-10 1.9-10 2.2-9.5 2.5-9.5 2.8-9.2 3.1-8.8 3.4-8.8 3.6-8.2 3.9-7.9 4-7.3 4-6.4 4-5.7 4.5-5.7 6-6.7 6.5-6.7 6-5.5 6.5-5.5 6.5-4.9z"/>
<path fill="#ff5000" d="M1011.3 920l0 290-148.7 0-2.9-5-3-5.5-2.9-6-2.6-6-4.9-12.7-4.3-13.8-3.3-14-2.5-14-1.6-14-0.9-14.5 0.1-14.5 0.8-14 1.7-14 2.6-14 3.4-13.9 4.1-13.1 4.9-12.8 5.5-11.8 5.5-9.9 3-4.6 3-4.3 7-8.5 8-8.5 9-8.3 9-7.2 9-6.1 4.5-2.6 5-2.7 5.5-2.5 10.5-4.3 18.4-6.9z"/>
<path fill="#ff4000" d="M1011.3 925.1l0 284.9-135.8 0-6.7-8.3-3-4.4-3-4.8-3-5.4-2.6-5.1-2.7-6-2.4-6-4.3-12.5-3.5-13-2.6-13.5-1.7-13.5-0.9-13.5 0.1-13.5 0.9-13.5 1.7-13 2.6-13 3.5-13 4.4-12.5 4.9-11.5 5-9.5 5.1-8 5.5-7.3 7.5-8.5 8-8 8-6.9 8.5-6.4 8.5-5.3 5-2.8 4.5-2.1 13.5-5.6 15.5-5.8 14.5-4.7 12-3.2 11.5-2.4 11-1.6z"/>
<path fill="#ff3000" d="M1011.3 940.3l0 269.7-120.8 0-8.2-8.2-8.1-9.3-5.9-8-2.8-4.5-2.7-4.7-2.5-5-2.5-5.5-2.1-5.3-2.2-6-3.5-12-2.7-12.5-1.7-12.5-0.9-13 0.1-13 1-13 0.9-6.5 1.1-6.5 2.9-12.5 3.6-11.8 2.1-5.7 2.4-5.6 4.5-9.1 5-8.3 5.5-7.5 7-8.2 7.5-7.7 8-7.1 8.5-6.4 8.5-5.5 4.5-2.4 5-2.5 13-5.3 15.5-5.8 14.5-4.7 12-3.2 11.5-2.4 11-1.7z"/>
<path fill="#ff2000" d="M1011.3 953.9l0 256.1-102.8 0-4.7-3.2-4.5-3.5-4.5-3.8-4.5-4.1-8-8.4-4-4.7-3.7-4.8-3.3-4.6-2.5-3.9-4.6-8.5-2.3-5-2-5-3.6-10.7-1.5-5.8-1.3-6-1.2-6.5-0.8-6-0.5-6-0.4-6.5-0.1-6.5 0.2-6 0.5-6.5 0.6-6 0.9-6 1.2-6 1.4-6 1.5-5.5 2-6 2-5.4 4-8.9 4.5-8 5.6-8.2 6.9-8.5 7.5-7.9 7.5-6.9 8-6.2 8.5-5.5 4.5-2.5 4.5-2.3 13-5.4 15.5-5.9 14.5-4.7 12.5-3.4 11.5-2.4 11-1.6z"/>
<path fill="#ff1000" d="M1011.3 966.4l0 243.6-77.3 0-11.7-5.1-8.5-4.6-4.5-2.8-4.5-3.2-4.5-3.6-4.5-3.9-4.5-4.3-4-4.2-4-4.6-3.5-4.4-3.5-4.9-3.5-5.4-2.6-4.5-2.4-4.7-2.1-4.8-2.1-5.5-1.7-5.5-1.5-5.5-1.2-5.5-1-6-0.7-5.5-0.5-6-0.2-6 0.1-6 0.3-6 0.6-5.5 0.8-6 1.1-5.5 1.3-5.5 1.6-5.5 3.5-9.5 4.1-8.5 5.2-8.5 6.1-8.5 6.8-7.9 7.5-7.4 8-6.7 8.5-5.9 4.5-2.7 5-2.6 11.5-5 16-6.3 15-5 12.5-3.4 12-2.6 11.5-1.7z"/>
<path fill="#f00" d="M1011.3 978l0 232-44.5 0-13-4.3-14-5.3-15-6.5-4.5-2.3-4-2.2-4.5-2.8-4-2.9-4-3.1-4-3.4-3.9-3.7-3.6-3.7-3.5-4-3.5-4.3-3.5-4.9-3-4.6-2.9-5-2.6-5-2-4.5-1.9-5-1.6-4.9-1.3-5.1-1.2-5.5-0.8-5.5-0.6-5.5-0.2-6 0-6 0.4-5.5 0.6-5.5 0.9-5.5 1.1-5 1.4-5 1.4-4.5 1.8-4.5 2-4.5 2.5-4.8 2.7-4.7 2.8-4.4 3-4.2 3.4-4.4 3.4-4 3.7-3.9 3.7-3.6 3.9-3.5 4.4-3.5 4-2.9 4-2.6 4.5-2.6 4.5-2.3 5-2.3 17.5-7.2 8-3 8-2.7 13-3.8 12.5-2.8 12-1.9z"/>
<path fill="#ef0000" d="M1011.3 988.9l0 218.2-6-0.4-6.5-0.7-12.5-2.1-13-3.1-13.5-4.2-8-2.9-8.5-3.4-9-3.9-9-4.1-4.5-2.4-4-2.4-4-2.6-3.9-2.9-4.1-3.4-4-3.7-3.8-3.9-3.7-4.3-3.3-4.2-3.2-4.6-3-4.9-2.4-4.5-2.4-5-2-5-1.7-5-1.3-5-1.1-5-0.7-5-0.5-5-0.2-5.5 0.2-5.5 0.5-5 0.7-5 1.1-5 1.3-5 1.7-5 2-5 2.4-5 2.4-4.5 3-4.9 3.2-4.6 3.3-4.2 3.7-4.3 3.8-3.9 4-3.7 4.1-3.4 3.9-2.9 4-2.6 4.2-2.5 4.3-2.3 9-4.1 9-3.9 8.5-3.4 8-2.9 13.5-4.2 13-3.1 12.5-2.1 6.5-0.7z"/>
<path fill="#df0000" d="M1011.3 999.4l0 197.2-11.5-1-12-2-12-2.8-12.5-3.9-14-5.3-14.5-6.5-12-6.1-4.5-2.8-4-2.8-4-3.2-3.5-3.1-3.5-3.5-3.2-3.6-2.8-3.5-3-4.2-2.5-3.9-2.4-4.4-2.1-4.3-1.8-4.2-1.5-4.5-1.3-4.5-1-4.5-0.7-4.5-0.4-4.5-0.2-5 0.2-5 0.4-4.5 0.7-4.5 1-4.5 1.3-4.5 1.5-4.5 1.8-4.2 2.1-4.3 2.4-4.4 2.5-3.9 3-4.2 2.8-3.5 3.2-3.6 3.5-3.5 3.5-3.1 4-3.2 4-2.8 4.5-2.8 12-6.1 14.5-6.5 14-5.3 12.5-3.9 12-2.8 12-2z"/>
<path fill="#cf0000" d="M1011.3 1009.6l0 176.8-11-1-11-1.8-11.5-2.8-12-3.7-12-4.7-12-5.4-13.2-7-4.8-2.8-4-2.7-6.5-5.3-3-2.9-3-3.3-5-6.5-2.3-3.5-2.2-3.9-1.8-3.6-1.6-4-2.4-7.5-0.9-4-0.6-4-0.4-4-0.1-4 0.1-4 0.4-4 0.6-4 0.9-4 2.4-7.5 1.6-4 1.8-3.6 2.2-3.9 2.3-3.5 5-6.5 3-3.3 3-2.9 6.5-5.3 4-2.7 4.8-2.8 13.2-7 12-5.4 12-4.7 12-3.7 11.5-2.8 11-1.8z"/>
<path fill="#bf0000" d="M1011.3 1019.7l0 156.6-10.5-0.9-10.5-1.9-11-2.7-11-3.6-11-4.4-11-5.3-10.6-6-9.9-6.5-5.5-4.4-5-5-4.4-5.6-3.6-5.9-2.8-6.1-2.1-6.5-1.3-6.5-0.4-7 0.4-7 1.3-6.5 2.1-6.5 2.8-6.1 3.6-5.9 4.4-5.6 5-5 5.5-4.4 9.9-6.5 10.6-6 11-5.3 11-4.4 11-3.6 11-2.7 10.5-1.9z"/>
<path fill="#af0000" d="M1011.3 1029.9l0 136.2-9-0.8-9-1.6-9-2.2-9-2.8-9-3.5-8.9-4.2-8.2-4.5-7.8-5-6.7-5-6.4-5.5-4.5-4.7-3.6-4.8-3-5.5-2.3-6-1.3-6-0.5-6 0.5-6 1.3-6 2.3-6 3-5.5 3.6-4.8 4.5-4.7 6.4-5.5 6.7-5 7.8-5 8.2-4.5 8.9-4.2 9-3.5 9-2.8 9-2.2 9-1.6z"/>
<path fill="#9f0000" d="M1011.3 1040.6l0 114.8-7-0.7-7.5-1.2-7.5-1.8-7.5-2.3-7.5-2.9-7-3.3-6.8-3.7-6.2-4-5.5-4.2-5-4.4-4.5-4.9-3.4-4.5-2.6-4.5-2.2-5-1.2-5-0.5-5 0.5-5 1.2-5 2.2-5 2.6-4.5 3.4-4.5 4.5-4.9 5-4.4 5.5-4.2 6.2-4 6.8-3.7 7-3.3 7.5-2.9 7.5-2.3 7.5-1.8 7.5-1.2z"/>
<path fill="#8f0000" d="M1011.3 1052.3l0 91.4-6-0.7-5.9-1-6-1.5-5.6-1.8-5.5-2.2-5.3-2.5-5.2-3-4.5-3-4.5-3.5-3.6-3.5-3.1-3.5-2.8-4-2-3.7-1.5-3.8-0.9-4-0.3-4 0.3-4 0.9-4 1.5-3.8 2-3.7 2.8-4 3.1-3.5 3.6-3.5 4.5-3.5 4.5-3 5.2-3 5.3-2.5 5.5-2.2 5.6-1.8 6-1.5 5.9-1z"/>
<path fill="#800000" d="M1011.3 1066.5l0 63-4-0.5-4-0.8-4-1.1-3.5-1.2-3.5-1.4-3.9-2-3.3-2-2.7-2-2.6-2.2-2.3-2.3-2.1-2.5-1.6-2.5-1.3-2.5-1.1-3-0.6-3-0.2-2.5 0.2-2.5 0.6-3 1.1-3 1.3-2.5 1.6-2.5 2.1-2.5 2.3-2.3 2.6-2.2 2.7-2 3.3-2 3.9-2 3.5-1.4 3.5-1.2 4-1.1 4-0.8z"/>
</g>
<rect x="721.3" y="920" width="290" height="290" fill="none" stroke="#262626" stroke-width="1"/>
<path d="M793.8 920v3M793.8 1210v-3M866.3 920v3M866.3 1210v-3M938.8 920v3M938.8 1210v-3M721.3 1065h3M1011.3 1065h-3" stroke="#262626" stroke-width="1" fill="none"/>
<text x="721.3" y="1245.6" font-size="30.5" text-anchor="middle">1.25</text>
<text x="793.8" y="1245.6" font-size="30.5" text-anchor="middle">1.75</text>
<text x="866.3" y="1245.6" font-size="30.5" text-anchor="middle">2.25</text>
<text x="938.8" y="1245.6" font-size="30.5" text-anchor="middle">2.75</text>
<text x="1011.3" y="1245.6" font-size="30.5" text-anchor="middle">3.25</text>
<text x="712.3" y="931.9" font-size="30.5" text-anchor="end">77.8</text>
<text x="712.3" y="1076.9" font-size="30.5" text-anchor="end">75.8</text>
<text x="712.3" y="1221.9" font-size="30.5" text-anchor="end">73.8</text>
<text x="838.8" y="893" font-size="35.5" font-style="italic">N<tspan font-size="28" dx="-0.8" dy="16.6">x/s</tspan></text>
<text x="853.3" y="1284.7" font-size="35.0" font-style="italic">α<tspan font-size="28" dx="1" dy="15.5">t</tspan></text>
<text transform="translate(634 1131.5) rotate(-90)" font-size="33.5"><tspan font-style="italic">θ</tspan><tspan font-size="24" font-style="italic" dy="11" dx="0">i</tspan><tspan dy="-11" dx="-0.5">(degree)</tspan></text>
<rect x="1045.2" y="920" width="14.5" height="290" fill="url(#jet)" stroke="#262626" stroke-width="1"/>
<text x="1066.3" y="951.9" font-size="27.5">2</text>
<text x="1066.3" y="1030.9" font-size="27.5">0</text>
<text x="1066.3" y="1109.2" font-size="27.5">-2</text>
<text x="1066.3" y="1188.2" font-size="27.5">-4</text>
<path d="M1059.7 941.5h-3M1059.7 1020.5h-3M1059.7 1098.8h-3M1059.7 1177.8h-3" stroke="#262626" stroke-width="1" fill="none"/>
<text x="1062.6" y="1246" font-size="27.5"><tspan font-size="38" dy="5" dx="-2">×</tspan><tspan dy="-5" dx="-1.5">10</tspan><tspan font-size="21.5" dy="-13.8" dx="2">-3</tspan></text>
<g class="w" font-size="30.7">
<text x="739.2" y="1182.7">Δ</text>
<text x="761.2" y="1182.7" font-style="italic">ϕ</text>
<text x="784.7" y="1182.7" font-size="33.8" dy="1.3">=</text>
<text x="811.6" y="1182.7">0</text>
<text x="827.2" y="1182.7" font-size="18.6" dy="-8.8">°</text>
<text x="839.4" y="1182.7">;</text>
<text x="850.9" y="1182.7" font-style="italic">α</text>
<text x="880.5" y="1182.7" font-size="33.8" dy="1.3">=</text>
<text x="906" y="1182.7">5</text>
<text x="922.7" y="1182.7" font-size="18.6" dy="-8.8">°</text>
</g>
<text x="959.3" y="1193.3" font-size="40" class="w">(f)</text>
</g>
</svg></body></html>
